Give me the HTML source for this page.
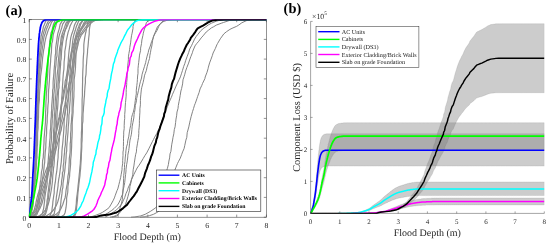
<!DOCTYPE html>
<html><head><meta charset="utf-8"><title>Fragility and loss curves</title>
<style>html,body{margin:0;padding:0;background:#fff}svg{display:block}</style></head>
<body><svg width="550" height="243" viewBox="0 0 550 243" text-rendering="geometricPrecision">
<defs><clipPath id="ca"><rect x="28.9" y="19.25" width="237.8" height="198.65"/></clipPath><clipPath id="cb"><rect x="310.3" y="0" width="234.3" height="214.10"/></clipPath></defs>
<rect width="550" height="243" fill="#fff"/>
<g stroke="#3a3a3a" stroke-width="0.55" fill="none">
<rect x="29.2" y="19.6" width="237.2" height="197.6"/>
<path d="M29.2 217.2v-2.6M29.2 19.6v2.6M58.8 217.2v-2.6M58.8 19.6v2.6M88.5 217.2v-2.6M88.5 19.6v2.6M118.1 217.2v-2.6M118.1 19.6v2.6M147.8 217.2v-2.6M147.8 19.6v2.6M177.4 217.2v-2.6M177.4 19.6v2.6M207.1 217.2v-2.6M207.1 19.6v2.6M236.7 217.2v-2.6M236.7 19.6v2.6M266.4 217.2v-2.6M266.4 19.6v2.6M29.2 217.2h2.6M266.4 217.2h-2.6M29.2 197.4h2.6M266.4 197.4h-2.6M29.2 177.7h2.6M266.4 177.7h-2.6M29.2 157.9h2.6M266.4 157.9h-2.6M29.2 138.2h2.6M266.4 138.2h-2.6M29.2 118.4h2.6M266.4 118.4h-2.6M29.2 98.6h2.6M266.4 98.6h-2.6M29.2 78.9h2.6M266.4 78.9h-2.6M29.2 59.1h2.6M266.4 59.1h-2.6M29.2 39.4h2.6M266.4 39.4h-2.6M29.2 19.6h2.6M266.4 19.6h-2.6"/>
</g>
<g id="pa" fill="none" stroke-linejoin="round" stroke-linecap="butt" clip-path="url(#ca)">
<g stroke="#8c8c8c" stroke-width="1.2">
<path d="M29.2 217.2 L30.5 213.5 L31.3 210.9 L31.5 207.9 L32.0 204.3 L32.4 198.8 L32.7 195.0 L33.3 192.1 L33.3 188.2 L33.6 185.1 L33.9 180.6 L34.4 177.3 L34.5 175.6 L34.7 170.0 L34.7 168.4 L35.1 163.1 L35.3 160.8 L35.5 155.6 L35.5 152.7 L35.9 149.7 L35.9 145.8 L35.9 143.2 L36.1 139.4 L36.1 134.4 L36.5 130.9 L36.5 127.4 L36.5 124.3 L36.5 119.2 L36.6 115.7 L36.6 112.8 L37.0 109.3 L37.1 105.6 L37.3 102.7 L37.3 99.7 L37.7 94.7 L37.7 91.6 L38.0 88.5 L38.0 84.5 L38.1 79.9 L38.4 76.2 L38.6 74.0 L38.7 69.9 L38.7 66.9 L38.8 62.6 L39.0 59.7 L39.4 55.9 L39.8 51.1 L39.8 49.2 L40.1 44.6 L40.6 42.3 L41.0 36.9 L41.8 33.5 L42.5 31.3 L43.5 26.4 L44.3 24.8 L45.8 20.9 L48.6 19.7 L53.0 19.6"/>
<path d="M29.2 217.2 L30.2 213.8 L31.9 209.3 L32.0 207.7 L32.4 202.1 L32.7 200.1 L33.1 196.2 L33.5 191.6 L33.6 189.0 L33.9 185.1 L34.2 182.7 L34.5 177.3 L34.8 174.3 L35.1 171.2 L35.1 166.4 L35.4 164.0 L35.8 160.0 L35.8 157.2 L35.8 152.9 L36.1 149.8 L36.2 146.0 L36.4 141.2 L36.4 138.7 L36.4 134.6 L36.6 129.8 L36.7 126.2 L36.9 123.2 L37.0 120.0 L37.0 117.1 L37.0 113.7 L37.5 108.1 L37.6 105.6 L37.6 103.0 L37.8 98.1 L38.1 94.1 L38.2 90.9 L38.5 86.6 L38.5 85.1 L38.7 80.3 L38.9 76.9 L39.2 74.2 L39.2 69.2 L39.6 65.1 L39.8 62.1 L39.8 59.3 L40.4 54.3 L40.5 51.5 L41.1 47.9 L41.4 43.7 L41.8 41.6 L42.7 36.4 L43.5 33.2 L44.6 29.5 L45.3 27.5 L47.5 22.8 L48.4 21.0 L51.3 19.7 L56.0 19.6"/>
<path d="M29.2 217.2 L30.4 214.4 L31.6 211.0 L32.4 206.3 L32.8 204.5 L33.2 199.7 L33.5 195.9 L33.7 193.6 L34.1 190.4 L34.2 186.3 L34.5 181.8 L34.7 178.5 L35.3 176.0 L35.4 171.7 L35.9 167.6 L35.9 164.6 L36.0 160.6 L36.3 156.2 L36.4 153.3 L36.4 150.5 L36.5 147.4 L37.0 143.5 L37.0 139.5 L37.1 135.0 L37.1 131.7 L37.1 129.3 L37.5 124.3 L37.5 121.8 L37.5 117.7 L37.7 115.6 L37.8 112.0 L38.1 108.2 L38.4 103.0 L38.4 99.9 L38.8 96.0 L38.8 92.9 L38.9 89.9 L39.0 86.1 L39.3 82.4 L39.7 78.1 L39.8 75.6 L40.0 71.0 L40.3 68.1 L40.5 64.0 L40.7 61.3 L41.2 57.2 L41.6 54.6 L42.1 50.6 L42.4 47.8 L43.0 44.5 L43.2 41.2 L44.2 36.1 L45.3 33.2 L46.5 28.9 L48.0 25.7 L48.7 23.4 L52.1 19.8 L54.4 19.6 L58.0 19.6"/>
<path d="M29.2 217.2 L30.2 214.9 L31.5 211.3 L32.9 206.4 L33.2 203.4 L33.2 201.1 L33.9 196.7 L34.1 193.0 L34.6 190.2 L34.7 185.3 L35.0 183.2 L35.5 179.0 L35.9 175.2 L35.9 171.8 L36.2 167.9 L36.5 163.9 L36.6 159.8 L37.0 157.9 L37.0 153.5 L37.2 149.8 L37.2 147.2 L37.5 144.4 L37.6 138.4 L37.6 136.5 L37.6 132.9 L38.1 127.9 L38.1 125.1 L38.2 121.8 L38.5 117.5 L38.5 115.8 L38.6 110.5 L38.7 107.8 L38.8 104.9 L39.4 100.0 L39.4 95.7 L39.5 94.0 L39.8 89.4 L40.1 86.6 L40.4 82.0 L40.5 78.5 L40.6 76.1 L41.3 71.1 L41.7 68.0 L42.0 64.4 L42.4 60.5 L42.6 57.9 L43.2 53.5 L43.7 49.7 L44.1 48.1 L44.8 42.7 L45.3 40.3 L46.1 36.6 L47.0 34.0 L48.5 29.4 L49.7 27.0 L51.5 22.4 L52.8 20.7 L56.3 19.7 L60.0 19.6"/>
<path d="M29.2 217.2 L33.6 216.5 L35.5 214.7 L36.7 210.2 L37.0 208.8 L37.8 204.0 L38.2 201.1 L38.8 196.5 L38.9 194.5 L39.5 189.3 L39.9 186.5 L40.3 182.1 L40.9 179.6 L41.1 176.2 L41.5 171.8 L42.4 167.8 L42.4 165.7 L42.6 160.7 L43.3 157.3 L43.3 155.6 L43.7 151.0 L43.7 147.2 L44.0 143.0 L44.0 140.2 L44.1 137.9 L44.5 133.5 L44.8 129.9 L45.1 126.3 L45.5 121.7 L45.5 119.6 L45.6 116.4 L45.6 112.1 L45.9 108.2 L45.9 103.9 L46.0 101.3 L46.2 98.5 L46.4 93.3 L46.7 90.8 L46.8 86.8 L47.2 83.7 L47.2 80.8 L47.5 76.1 L47.8 72.3 L47.8 70.2 L48.0 66.0 L48.1 62.7 L48.3 59.6 L48.7 55.9 L49.0 50.6 L49.3 47.2 L49.5 44.9 L49.8 40.5 L50.2 38.6 L51.0 33.0 L52.0 30.5 L52.9 26.4 L53.5 24.2 L55.1 20.7 L58.1 19.7 L62.0 19.6"/>
<path d="M30.5 217.2 L35.1 216.7 L37.1 214.2 L38.0 211.4 L38.7 208.5 L39.0 205.5 L39.5 201.2 L40.2 197.6 L40.3 194.9 L40.9 191.4 L41.7 185.6 L42.1 182.9 L42.4 180.3 L42.9 176.3 L43.6 171.5 L44.0 168.1 L44.3 164.7 L44.7 162.3 L44.8 158.5 L45.1 154.4 L45.2 152.4 L45.8 147.6 L45.8 144.8 L46.1 139.7 L46.1 138.1 L46.6 133.1 L46.6 129.0 L46.7 127.0 L47.2 121.9 L47.2 118.3 L47.3 116.9 L47.7 111.6 L47.7 109.8 L48.0 105.0 L48.4 101.6 L48.4 98.6 L48.4 94.7 L48.6 90.0 L48.9 87.6 L49.1 84.5 L49.5 79.6 L49.6 76.6 L49.8 72.2 L49.9 70.0 L50.2 66.3 L50.6 61.5 L50.7 58.7 L51.0 55.1 L51.4 52.2 L51.5 49.2 L51.8 43.4 L52.4 41.9 L53.0 36.6 L53.3 34.2 L54.9 29.4 L55.4 27.3 L56.8 22.6 L58.1 20.4 L60.7 19.7 L65.0 19.6"/>
<path d="M29.2 217.2 L32.6 216.1 L35.3 214.4 L37.8 211.8 L39.8 208.7 L41.8 204.1 L42.5 201.5 L43.5 197.9 L44.1 195.2 L44.6 190.8 L45.2 188.6 L45.3 185.3 L46.4 179.8 L46.5 178.3 L47.1 172.3 L47.3 169.1 L47.8 165.7 L47.9 163.9 L48.3 159.9 L48.6 154.8 L49.0 152.2 L49.1 148.2 L49.4 145.9 L49.6 142.1 L50.1 137.8 L50.1 133.6 L50.3 130.5 L50.7 128.0 L50.8 122.6 L50.8 120.8 L51.3 116.5 L51.4 112.5 L51.7 109.6 L51.7 105.8 L52.1 101.0 L52.3 98.5 L52.6 94.7 L52.6 90.1 L53.1 88.2 L53.1 83.1 L53.2 80.9 L53.5 77.4 L54.0 72.4 L54.0 70.9 L54.5 65.3 L54.8 61.8 L55.1 58.1 L55.1 56.6 L55.7 52.6 L55.7 47.7 L56.1 45.0 L56.5 42.4 L57.2 37.2 L57.8 33.5 L59.0 29.6 L59.4 28.1 L60.1 24.4 L62.8 19.9 L64.6 19.7 L69.0 19.6"/>
<path d="M35.5 217.2 L39.4 216.8 L42.3 213.9 L43.0 210.8 L43.6 208.6 L44.1 204.9 L44.7 200.0 L44.7 198.5 L45.5 193.0 L46.1 189.5 L46.6 186.8 L47.1 183.6 L47.2 180.1 L47.8 176.7 L48.5 172.6 L48.6 169.0 L49.2 165.3 L49.7 160.6 L50.2 157.6 L50.4 154.4 L50.5 150.0 L50.7 148.3 L50.9 144.9 L51.4 140.2 L51.4 138.0 L51.5 134.4 L51.8 129.7 L51.9 126.3 L52.2 121.6 L52.2 118.7 L52.6 115.4 L52.7 111.9 L53.1 108.9 L53.3 105.9 L53.4 101.9 L53.8 97.1 L53.8 94.8 L54.3 90.8 L54.3 88.1 L54.8 82.5 L54.8 80.6 L55.2 76.8 L55.3 71.7 L55.4 69.0 L56.0 64.7 L56.1 61.6 L56.5 57.8 L57.0 55.8 L57.0 51.1 L57.4 47.7 L58.0 43.2 L58.3 40.9 L58.9 36.8 L59.5 34.6 L60.9 30.4 L61.9 27.2 L62.7 24.2 L65.6 19.9 L68.1 19.7 L72.0 19.6"/>
<path d="M38.0 217.2 L41.2 216.9 L44.7 213.7 L45.3 211.9 L46.2 207.2 L46.9 203.5 L47.0 201.1 L47.7 197.4 L47.9 194.0 L48.3 191.1 L48.8 186.7 L49.3 183.7 L49.7 180.1 L50.3 176.7 L50.5 173.2 L51.1 168.1 L51.6 165.5 L51.6 162.3 L52.1 157.9 L52.5 154.3 L52.6 150.7 L52.7 146.4 L52.7 144.7 L53.4 140.6 L53.4 137.3 L53.6 134.3 L53.6 130.4 L54.1 126.3 L54.1 122.7 L54.3 118.6 L54.4 115.4 L54.8 111.5 L54.8 108.8 L55.1 105.5 L55.2 101.4 L55.5 98.4 L55.9 94.2 L56.0 90.4 L56.4 86.2 L56.8 82.2 L56.8 80.7 L57.2 74.9 L57.5 71.9 L58.0 67.7 L58.0 66.2 L58.3 62.0 L58.6 58.2 L59.1 54.0 L59.3 51.5 L59.7 47.6 L60.5 44.5 L60.8 40.5 L61.3 36.9 L62.4 33.3 L63.7 29.6 L64.6 27.3 L66.0 23.0 L67.4 21.1 L71.5 19.6 L75.0 19.6"/>
<path d="M33.0 217.2 L37.3 216.6 L39.5 215.8 L42.9 213.2 L45.2 210.1 L47.3 207.0 L48.5 203.3 L49.4 200.0 L50.1 196.3 L50.4 195.0 L51.2 190.5 L51.8 186.8 L52.1 184.3 L52.5 180.9 L52.8 175.3 L53.3 171.4 L53.5 168.3 L53.9 165.9 L54.3 161.4 L54.3 158.8 L54.8 154.2 L55.0 151.7 L55.4 147.0 L55.4 142.9 L55.7 139.3 L55.9 136.0 L56.0 132.4 L56.4 129.3 L56.4 126.1 L56.6 121.6 L56.8 120.1 L57.0 115.9 L57.2 111.7 L57.6 108.5 L57.9 104.1 L58.0 102.0 L58.2 98.8 L58.3 95.1 L58.6 89.5 L59.1 87.9 L59.1 84.1 L59.7 80.2 L59.7 76.0 L60.0 72.1 L60.1 70.2 L60.6 64.6 L60.7 61.4 L61.2 59.0 L61.3 55.7 L61.6 51.2 L61.9 47.6 L62.3 44.9 L62.7 41.6 L63.7 36.6 L64.4 33.4 L65.2 29.6 L66.2 27.6 L67.2 23.0 L68.7 21.3 L71.0 19.7 L76.0 19.6"/>
<path d="M44.5 217.2 L49.0 216.6 L50.3 215.4 L51.9 210.6 L52.1 208.7 L52.7 204.3 L52.9 201.6 L53.6 196.7 L54.2 192.8 L54.2 190.3 L54.7 185.4 L55.3 182.2 L55.6 179.8 L56.0 175.7 L56.7 171.7 L57.1 168.0 L57.4 164.2 L57.5 162.6 L58.1 157.5 L58.1 155.5 L58.4 150.0 L58.7 148.1 L59.0 143.0 L59.3 140.8 L59.5 135.6 L59.7 133.2 L60.0 130.1 L60.1 126.6 L60.3 122.2 L60.4 119.3 L61.0 114.9 L61.1 112.6 L61.1 108.8 L61.3 103.8 L61.7 100.9 L61.7 98.1 L62.0 94.8 L62.3 91.3 L62.4 87.4 L62.7 83.6 L62.9 79.3 L63.2 75.3 L63.5 71.9 L63.9 69.4 L64.0 66.3 L64.1 62.0 L64.5 58.5 L64.8 54.6 L64.8 51.5 L65.5 47.3 L65.9 45.0 L66.2 41.2 L67.2 36.4 L68.1 32.4 L69.1 29.4 L70.1 26.0 L71.7 22.7 L73.0 20.5 L77.1 19.6 L80.0 19.6"/>
<path d="M39.0 217.2 L41.4 217.0 L45.3 214.8 L46.5 211.2 L47.1 209.0 L47.5 205.2 L48.2 199.7 L48.4 198.2 L48.8 194.5 L49.7 189.0 L49.9 186.2 L50.4 183.2 L50.7 179.3 L51.4 175.4 L51.6 172.7 L51.9 169.5 L52.5 164.3 L52.9 161.0 L53.2 157.9 L53.2 153.5 L53.7 150.6 L53.9 145.9 L53.9 144.3 L54.1 139.8 L54.6 136.4 L54.6 133.1 L54.9 128.9 L55.2 126.2 L55.2 121.3 L55.5 117.5 L55.5 115.7 L56.0 111.3 L56.4 108.2 L56.7 105.1 L56.7 99.5 L57.0 97.1 L57.4 94.2 L57.9 89.3 L57.9 86.9 L58.2 81.6 L58.5 79.7 L58.7 76.5 L58.9 72.5 L59.1 68.6 L59.5 64.7 L59.8 60.0 L60.0 57.0 L60.2 54.3 L60.3 51.5 L60.8 47.5 L61.8 41.9 L61.9 39.7 L62.7 35.6 L63.8 33.7 L65.1 30.5 L67.6 25.4 L68.7 22.7 L70.5 20.5 L73.8 19.7 L78.0 19.6"/>
<path d="M47.5 217.2 L50.6 217.0 L54.3 213.7 L54.5 212.1 L55.2 208.6 L55.8 204.6 L56.0 201.4 L56.4 196.8 L56.8 194.6 L57.6 189.1 L58.1 185.7 L58.1 184.2 L58.7 179.4 L59.2 176.9 L59.8 173.0 L60.3 169.0 L60.8 165.4 L61.3 161.8 L61.6 157.1 L61.8 155.2 L61.9 151.8 L62.3 147.1 L62.8 142.8 L63.1 139.3 L63.4 135.9 L63.5 134.3 L63.9 128.6 L64.1 125.7 L64.1 121.6 L64.3 119.2 L64.7 116.1 L65.1 111.1 L65.1 107.9 L65.6 104.0 L65.6 101.9 L65.7 98.5 L66.1 93.4 L66.2 91.6 L66.3 85.8 L66.8 84.2 L67.0 79.5 L67.1 76.4 L67.4 73.0 L67.4 69.8 L67.9 64.8 L68.3 60.9 L68.4 57.8 L68.7 54.5 L69.1 50.7 L69.5 47.6 L70.0 44.0 L70.5 39.6 L70.8 37.6 L71.7 34.2 L73.5 29.1 L74.3 25.8 L75.2 23.5 L77.4 19.9 L81.2 19.6 L84.0 19.6"/>
<path d="M29.2 217.2 L31.8 213.5 L34.0 210.6 L34.9 207.3 L35.6 205.1 L36.1 202.0 L37.4 196.4 L38.1 193.7 L38.9 191.7 L40.4 186.1 L41.7 182.5 L42.3 180.7 L44.1 176.1 L44.5 174.4 L46.0 170.2 L47.7 165.9 L48.5 163.4 L49.6 159.7 L49.9 157.1 L51.5 152.0 L52.2 149.3 L52.9 146.4 L54.2 141.6 L55.4 137.6 L55.7 135.1 L56.6 131.1 L57.7 127.0 L57.9 125.8 L59.0 120.9 L59.8 116.5 L60.2 115.0 L61.0 111.2 L61.5 106.8 L62.3 102.9 L63.2 99.7 L63.8 96.2 L64.1 93.8 L65.0 88.6 L65.6 86.1 L66.0 83.1 L67.3 77.4 L68.1 74.6 L68.4 71.5 L69.4 67.3 L69.7 64.4 L70.3 61.7 L71.4 57.0 L71.9 53.1 L72.9 49.6 L73.7 46.6 L75.0 42.2 L76.4 38.8 L77.8 35.7 L78.6 33.6 L80.6 30.8 L83.0 27.3 L85.3 24.1 L87.3 22.4 L90.8 20.0 L94.3 19.7 L98.0 19.6"/>
<path d="M29.2 217.2 L32.1 214.1 L33.7 212.2 L36.0 208.3 L36.9 204.5 L37.5 201.5 L38.3 198.3 L39.4 194.3 L40.4 191.0 L41.4 188.2 L42.8 184.6 L44.3 180.8 L44.7 179.0 L46.5 174.3 L47.7 170.8 L48.5 168.2 L50.0 164.5 L50.9 161.8 L52.1 157.3 L53.5 153.1 L53.8 151.3 L55.1 147.4 L56.3 143.0 L56.7 140.3 L57.3 137.1 L58.5 133.1 L58.9 131.1 L59.8 127.3 L61.1 122.1 L61.7 120.3 L62.3 117.2 L63.5 111.5 L63.9 108.4 L64.9 104.4 L65.4 101.4 L66.4 97.5 L66.7 95.4 L67.6 90.9 L68.0 88.8 L69.0 83.7 L69.8 80.4 L70.2 78.2 L70.8 74.7 L71.4 71.2 L72.3 66.1 L72.9 62.9 L73.2 60.3 L74.1 55.9 L74.5 52.3 L75.3 48.8 L76.2 44.6 L77.4 41.5 L78.0 39.1 L79.0 36.6 L81.3 33.2 L83.0 30.5 L86.2 26.3 L88.7 23.5 L90.1 22.0 L95.1 19.8 L96.9 19.7 L101.0 19.6"/>
<path d="M29.2 217.2 L32.6 214.8 L35.0 212.0 L36.4 209.9 L37.4 207.2 L38.7 202.5 L39.3 200.0 L40.9 195.2 L41.7 192.6 L42.7 189.0 L44.5 184.4 L45.7 181.4 L46.8 177.9 L47.5 175.2 L49.2 170.9 L49.7 169.6 L51.3 164.2 L52.3 161.9 L53.1 158.9 L54.6 154.7 L55.8 150.3 L56.3 148.2 L57.5 143.4 L58.3 141.0 L59.4 136.3 L60.2 133.3 L61.3 129.8 L61.6 127.3 L62.5 123.2 L63.4 120.5 L64.6 115.7 L65.1 113.5 L65.9 108.9 L66.5 106.8 L66.9 102.9 L68.0 99.1 L68.5 96.0 L68.9 92.2 L69.6 88.8 L70.0 85.7 L70.9 81.4 L71.8 77.6 L72.2 74.2 L73.2 69.4 L73.5 67.8 L74.2 63.0 L74.8 60.1 L75.4 57.3 L76.2 52.0 L76.8 49.3 L78.1 44.5 L78.7 41.5 L80.0 37.9 L81.1 35.4 L83.1 32.8 L86.1 28.9 L87.6 27.0 L90.8 23.3 L93.7 21.1 L95.6 20.1 L99.9 19.7 L103.0 19.6"/>
<path d="M29.2 217.2 L32.8 216.0 L35.1 214.0 L37.3 211.9 L39.0 208.2 L40.2 204.2 L41.1 202.1 L42.1 196.6 L43.0 193.2 L43.5 191.7 L44.7 186.4 L45.2 184.4 L46.4 179.7 L46.9 177.5 L47.9 172.7 L48.9 168.6 L49.8 165.0 L50.3 162.3 L50.3 160.0 L51.6 155.9 L52.2 152.7 L53.2 147.6 L53.4 145.7 L54.2 141.5 L54.9 138.4 L55.3 135.5 L56.4 131.4 L57.2 127.0 L57.6 124.3 L58.2 120.2 L59.2 116.9 L59.5 114.6 L60.5 109.5 L60.9 106.1 L61.9 102.3 L62.0 100.3 L63.2 94.8 L63.3 91.6 L64.3 88.0 L64.9 84.3 L65.1 81.6 L65.9 78.7 L66.4 76.0 L67.4 70.9 L68.1 67.6 L68.7 64.0 L69.3 62.1 L70.4 56.3 L70.9 54.1 L71.4 51.4 L72.9 45.8 L74.0 42.9 L74.7 40.0 L76.3 36.2 L78.0 32.9 L79.8 30.2 L81.4 27.8 L83.4 25.0 L86.2 21.6 L88.2 20.4 L91.7 19.7 L96.0 19.6"/>
<path d="M40.0 217.2 L44.2 216.6 L46.2 216.0 L50.2 213.6 L52.2 211.5 L54.3 208.9 L56.3 205.4 L57.7 202.0 L58.8 198.1 L59.6 194.3 L59.9 192.5 L60.6 188.4 L61.5 184.0 L61.5 181.7 L62.4 175.9 L62.4 172.7 L63.2 171.1 L63.2 166.2 L63.8 162.5 L63.8 160.4 L64.1 156.4 L64.5 152.9 L64.7 148.6 L65.4 144.7 L65.4 141.4 L65.6 136.7 L66.1 133.4 L66.2 130.8 L66.2 127.7 L66.7 123.7 L67.0 118.9 L67.2 116.6 L67.6 111.4 L67.6 108.9 L67.7 106.1 L68.2 101.5 L68.3 97.9 L68.3 94.6 L68.6 91.6 L68.9 87.2 L69.1 84.0 L69.7 80.0 L69.7 76.6 L69.9 74.1 L70.4 68.6 L70.4 67.2 L70.7 62.9 L71.0 59.6 L71.2 55.6 L71.6 51.4 L72.0 48.0 L72.4 44.0 L72.7 41.0 L73.4 36.6 L74.0 34.3 L75.3 30.3 L76.2 27.0 L77.1 24.7 L78.7 21.0 L81.3 19.7 L86.0 19.6"/>
<path d="M52.5 217.2 L55.7 216.9 L58.6 214.3 L59.6 211.9 L60.0 208.8 L60.8 203.1 L61.0 200.6 L61.5 196.8 L62.0 193.4 L62.2 190.1 L62.9 187.4 L63.0 183.4 L63.7 178.8 L64.2 174.9 L64.7 171.4 L65.1 167.7 L65.2 166.3 L65.8 161.0 L66.1 157.6 L66.2 154.2 L66.7 150.6 L66.7 148.3 L67.0 143.5 L67.4 139.5 L67.5 137.9 L68.0 132.1 L68.1 130.4 L68.3 126.3 L68.7 122.3 L68.9 118.6 L68.9 115.1 L69.5 112.0 L69.6 107.2 L69.8 104.8 L70.2 100.1 L70.2 97.8 L70.4 93.5 L70.9 89.4 L70.9 87.6 L71.0 83.9 L71.7 79.0 L71.7 76.9 L71.7 73.6 L72.1 69.6 L72.5 65.6 L72.6 61.2 L73.0 57.7 L73.2 55.3 L73.5 51.7 L74.0 48.6 L74.2 45.1 L74.7 41.3 L75.6 36.3 L76.3 33.8 L77.3 30.4 L78.6 27.0 L79.7 23.9 L83.2 19.8 L86.8 19.6 L89.0 19.6"/>
<path d="M47.0 217.2 L50.3 216.8 L54.9 215.1 L56.6 213.9 L58.7 211.8 L61.1 208.3 L62.9 204.2 L64.0 200.6 L65.1 197.7 L65.6 194.8 L66.1 189.8 L66.8 186.2 L67.3 183.8 L67.7 180.3 L67.9 176.3 L68.7 172.4 L68.8 169.1 L69.0 166.0 L69.2 162.4 L69.3 158.3 L69.9 154.1 L70.1 152.6 L70.2 148.9 L70.2 143.7 L70.6 140.9 L70.6 136.5 L70.6 133.5 L71.0 130.1 L71.0 125.3 L71.3 123.2 L71.6 118.9 L71.8 115.6 L72.1 113.0 L72.1 109.3 L72.1 104.1 L72.2 101.3 L72.3 97.3 L72.3 94.3 L72.3 89.7 L72.6 86.1 L72.7 83.6 L72.9 80.7 L73.1 75.4 L73.4 72.6 L73.6 68.9 L73.9 65.5 L73.9 63.0 L74.3 58.3 L74.3 55.7 L74.6 52.2 L74.9 46.8 L75.2 44.9 L76.1 39.9 L76.3 37.1 L77.6 33.5 L78.8 30.1 L79.6 27.5 L80.6 24.3 L83.1 20.1 L85.3 19.7 L90.0 19.6"/>
<path d="M58.0 217.2 L60.8 217.0 L64.2 214.8 L65.2 212.2 L66.0 207.7 L66.4 204.5 L66.6 201.7 L66.6 198.1 L67.7 192.4 L67.9 189.5 L67.9 186.6 L68.6 182.5 L68.9 179.9 L69.6 176.2 L69.7 173.2 L70.1 169.7 L70.6 164.3 L70.6 160.7 L70.7 159.1 L71.2 154.8 L71.3 151.8 L71.6 147.3 L71.7 143.3 L71.8 139.9 L72.0 137.4 L72.2 132.4 L72.2 129.0 L72.2 125.8 L72.2 122.6 L72.6 117.5 L72.8 116.0 L73.1 112.3 L73.1 108.1 L73.4 104.8 L73.6 100.4 L73.9 96.6 L73.9 93.0 L74.1 89.3 L74.1 87.1 L74.1 82.2 L74.1 79.8 L74.7 75.5 L75.0 72.7 L75.5 67.7 L75.5 65.9 L75.7 61.5 L75.9 57.4 L75.9 53.7 L76.5 51.6 L77.0 45.9 L77.2 44.0 L78.1 40.1 L78.4 36.9 L79.4 34.1 L80.7 30.3 L82.1 26.8 L83.8 22.9 L85.3 21.0 L90.4 19.6 L93.0 19.6"/>
<path d="M68.5 217.2 L72.7 216.7 L74.6 214.4 L75.3 210.6 L75.7 208.5 L76.3 203.6 L76.5 199.2 L76.8 196.9 L77.2 194.1 L77.9 188.4 L78.1 185.5 L78.4 183.1 L78.9 178.4 L79.3 174.0 L79.5 172.3 L79.9 167.2 L80.3 163.9 L80.4 161.5 L80.6 158.0 L80.9 152.5 L81.0 150.4 L81.2 146.5 L81.2 142.4 L81.2 139.3 L81.4 136.8 L81.4 132.6 L81.7 128.4 L81.8 124.1 L81.8 120.9 L81.8 117.7 L82.0 114.7 L82.1 109.6 L82.1 107.5 L82.1 102.5 L82.1 99.5 L82.4 95.8 L82.4 92.6 L82.4 89.4 L82.5 85.9 L82.6 81.1 L82.6 78.4 L82.7 75.4 L82.8 71.4 L83.1 66.0 L83.1 62.9 L83.2 59.6 L83.4 56.4 L83.8 51.8 L83.8 49.6 L83.8 45.1 L84.0 43.0 L84.7 37.8 L85.5 33.5 L86.2 30.6 L86.5 28.6 L87.4 23.8 L88.6 21.1 L92.9 19.6 L95.5 19.6"/>
<path d="M69.5 217.2 L72.5 216.9 L75.1 215.3 L76.3 212.1 L76.6 207.1 L77.0 204.0 L77.5 199.1 L77.7 195.9 L78.0 192.3 L78.2 190.7 L78.7 185.9 L79.1 182.2 L79.4 179.9 L80.0 175.3 L80.2 172.1 L80.6 168.8 L80.9 163.8 L81.1 161.1 L81.3 158.3 L81.4 154.0 L81.7 149.1 L81.8 146.8 L81.8 143.7 L82.1 140.4 L82.2 135.7 L82.4 131.7 L82.4 128.8 L82.4 124.1 L82.9 121.3 L83.0 117.0 L83.0 114.0 L83.4 110.3 L83.5 107.2 L83.8 104.3 L84.1 99.3 L84.5 95.3 L84.6 92.1 L84.8 89.2 L85.0 86.4 L85.4 82.6 L85.4 78.1 L86.0 74.3 L86.1 72.2 L86.3 66.4 L86.6 63.3 L86.8 59.7 L87.2 55.5 L87.5 52.8 L87.6 49.5 L88.0 46.6 L88.4 41.9 L88.7 38.3 L89.2 34.1 L89.3 30.5 L89.6 28.0 L90.4 23.6 L90.9 19.9 L93.2 19.6 L97.0 19.6"/>
</g><g stroke="#7c7c7c" stroke-width="0.95">
<path d="M90.0 217.2 L93.9 215.9 L97.0 214.8 L99.8 213.7 L102.4 212.4 L107.0 209.3 L109.2 207.5 L111.2 204.1 L113.1 200.7 L114.4 197.9 L115.1 195.8 L117.0 190.6 L117.8 188.9 L118.9 184.6 L119.7 181.3 L120.6 177.7 L121.2 174.4 L122.0 169.8 L122.1 167.4 L122.7 163.2 L122.7 160.4 L123.0 155.6 L123.0 152.0 L123.4 149.9 L123.4 146.5 L123.5 141.6 L123.5 138.2 L123.7 134.9 L123.7 132.1 L124.2 128.5 L124.2 125.6 L124.4 120.9 L124.7 118.6 L124.7 114.6 L125.1 110.1 L125.1 108.1 L125.5 102.5 L125.7 100.9 L126.1 96.2 L126.2 92.6 L126.2 89.8 L126.7 84.5 L126.7 82.4 L127.1 78.4 L127.1 74.0 L127.6 71.0 L127.6 68.1 L127.8 65.2 L128.4 59.6 L128.4 56.9 L128.9 53.4 L129.6 49.8 L129.8 47.4 L130.6 42.9 L131.0 39.3 L131.5 35.8 L132.1 33.2 L133.0 28.4 L133.0 26.4 L134.2 22.3 L135.6 19.9 L140.0 19.6"/>
<path d="M112.0 217.2 L116.6 216.2 L118.3 214.9 L119.6 210.5 L120.2 207.4 L121.2 204.7 L122.3 199.6 L122.5 196.2 L122.7 193.8 L123.0 188.8 L123.2 187.0 L123.5 182.0 L123.6 178.7 L123.7 175.6 L124.0 173.1 L124.5 167.4 L124.5 164.6 L125.0 161.5 L125.2 158.0 L125.7 153.7 L125.9 150.9 L126.5 146.9 L127.5 143.7 L127.7 140.9 L128.7 136.9 L129.4 131.9 L130.0 128.4 L130.7 125.3 L131.1 122.2 L131.6 117.5 L132.5 114.3 L133.3 112.2 L134.3 107.9 L134.9 103.4 L135.3 100.3 L135.6 97.7 L136.3 93.9 L136.3 90.2 L136.8 85.7 L137.2 82.5 L137.4 79.7 L137.6 76.0 L138.0 73.3 L138.0 68.7 L138.3 65.8 L138.7 62.5 L139.1 59.0 L139.5 55.1 L140.6 50.3 L140.6 48.1 L141.5 43.6 L141.9 39.9 L142.9 35.5 L143.3 33.2 L144.4 29.0 L145.2 27.3 L146.4 22.4 L149.8 19.8 L152.0 19.6"/>
<path d="M95.0 217.2 L98.0 216.9 L102.3 215.8 L106.0 214.2 L107.8 213.0 L111.8 210.4 L114.1 208.5 L117.4 205.2 L118.8 203.0 L120.8 198.8 L121.2 197.2 L122.6 194.1 L123.2 190.1 L124.2 185.5 L124.7 182.6 L125.2 178.1 L125.6 174.4 L126.0 171.0 L126.0 169.3 L126.6 164.8 L127.3 160.9 L127.8 156.9 L127.8 155.2 L128.7 150.6 L129.0 148.4 L129.6 143.2 L130.0 140.1 L130.6 137.7 L131.4 134.2 L131.9 129.6 L132.2 126.2 L132.9 122.6 L133.8 118.0 L134.1 114.4 L134.4 112.6 L135.0 109.6 L135.3 105.5 L136.5 100.8 L136.6 98.6 L137.4 95.4 L138.4 90.8 L139.2 87.1 L139.6 84.9 L140.4 81.7 L141.5 78.0 L142.1 74.3 L143.2 70.6 L144.4 66.7 L145.7 62.4 L146.1 60.3 L147.1 56.2 L148.2 52.6 L148.7 50.1 L150.3 46.0 L151.6 41.6 L153.0 38.3 L153.5 36.4 L155.8 32.4 L157.0 30.4 L158.9 26.1 L160.1 23.8 L163.4 20.6 L166.0 19.6"/>
<path d="M110.0 217.2 L113.3 216.6 L116.3 215.4 L119.2 213.4 L122.3 209.4 L124.2 206.3 L125.4 204.7 L126.6 201.0 L127.9 196.7 L128.8 193.1 L129.6 190.2 L129.9 186.6 L131.0 182.5 L131.4 179.7 L132.8 174.9 L132.9 172.9 L133.2 169.8 L133.9 165.9 L134.3 162.9 L135.2 157.2 L135.7 154.3 L136.4 151.9 L136.6 148.7 L137.5 143.2 L137.9 140.8 L138.5 137.6 L138.8 133.6 L138.8 130.6 L139.2 127.2 L139.4 123.8 L139.4 120.2 L139.7 115.1 L139.9 112.2 L139.9 108.8 L140.4 104.8 L140.4 100.7 L140.5 98.1 L140.8 94.8 L141.3 89.9 L141.8 87.3 L143.1 82.5 L143.7 79.8 L144.6 75.2 L145.2 73.6 L146.4 70.3 L147.1 66.8 L148.6 61.3 L149.5 58.5 L149.9 55.2 L150.5 52.3 L151.0 49.2 L151.8 46.0 L152.6 40.6 L153.2 37.9 L154.7 33.2 L155.3 32.1 L157.4 26.9 L158.7 25.3 L162.9 21.9 L164.0 21.3 L167.8 20.1 L172.0 19.6"/>
<path d="M105.0 217.2 L108.8 215.1 L111.5 213.3 L113.6 211.9 L116.6 209.8 L119.3 207.0 L122.1 203.3 L123.5 200.1 L124.7 197.6 L125.9 193.7 L127.7 189.9 L128.0 188.2 L130.0 183.8 L131.4 180.0 L133.0 176.5 L133.8 174.6 L135.7 170.8 L137.1 168.0 L139.1 165.2 L141.7 161.1 L143.2 158.5 L145.0 155.4 L146.7 152.9 L148.8 148.8 L149.7 147.0 L152.3 141.8 L153.4 139.7 L154.7 137.1 L156.9 133.3 L158.6 129.5 L160.2 126.0 L161.5 122.5 L162.5 119.4 L163.5 116.9 L164.3 113.7 L166.3 109.4 L167.4 106.6 L168.8 103.1 L170.5 99.1 L171.3 97.5 L172.5 94.3 L174.2 90.5 L175.7 86.9 L177.1 83.9 L179.3 79.3 L180.4 76.9 L181.4 73.8 L182.5 70.4 L183.7 66.4 L184.9 63.3 L185.6 60.7 L187.2 56.4 L188.7 52.4 L189.7 49.0 L191.7 45.3 L192.6 43.3 L194.5 39.2 L196.2 36.5 L197.6 34.7 L200.7 30.8 L203.9 28.0 L205.7 26.9 L208.7 24.7 L211.6 23.1 L216.1 21.3 L219.9 20.2 L221.9 19.9 L226.0 19.6"/>
<path d="M131.0 217.2 L134.9 216.9 L139.2 216.2 L140.8 215.9 L145.2 214.3 L147.9 212.8 L150.7 211.2 L155.1 208.2 L157.0 206.4 L158.6 203.1 L159.7 200.5 L160.7 196.4 L161.5 192.5 L161.7 190.2 L162.7 186.6 L163.4 182.9 L164.6 179.0 L165.1 175.7 L166.1 172.2 L167.4 168.4 L168.4 164.5 L168.9 161.1 L169.6 157.9 L170.0 153.9 L170.9 151.4 L171.3 148.0 L171.7 144.8 L172.6 140.0 L173.0 137.3 L173.8 133.8 L174.3 129.6 L175.1 126.8 L175.6 122.5 L176.0 119.1 L176.6 115.8 L177.0 112.0 L178.0 108.5 L178.3 105.6 L179.1 101.3 L179.6 98.9 L180.2 95.3 L180.9 91.0 L181.6 88.5 L182.6 83.9 L183.0 79.8 L184.2 76.3 L184.8 74.2 L185.6 71.1 L186.9 67.4 L188.6 63.1 L189.6 60.0 L190.8 56.7 L192.4 52.7 L192.8 51.1 L195.0 45.9 L196.6 43.7 L198.8 41.2 L201.2 37.9 L203.0 35.9 L206.2 32.0 L208.5 30.2 L211.5 27.8 L213.4 26.9 L216.3 25.1 L221.7 23.1 L223.4 22.5 L228.1 20.9 L229.7 20.4 L233.7 19.8 L238.0 19.6"/>
<path d="M140.0 217.2 L144.9 216.7 L145.7 216.4 L149.7 215.6 L153.5 214.3 L157.8 212.0 L159.1 211.0 L161.7 207.8 L162.9 204.9 L164.8 201.4 L165.9 198.7 L167.1 193.9 L167.8 191.9 L169.5 186.3 L169.7 184.9 L171.5 181.1 L172.1 178.3 L173.4 173.4 L174.6 170.7 L176.0 167.2 L177.5 163.5 L178.4 161.7 L180.3 158.1 L181.7 154.4 L182.6 151.9 L184.1 148.5 L184.8 145.3 L185.9 140.1 L186.8 137.3 L187.2 132.7 L187.7 131.0 L188.8 126.9 L189.8 122.1 L190.2 120.5 L191.1 116.7 L192.5 111.7 L193.5 108.6 L194.5 105.2 L195.3 103.3 L197.0 98.4 L197.6 96.5 L199.1 92.5 L200.1 88.9 L201.8 85.4 L202.5 83.5 L204.9 78.6 L205.2 77.0 L207.0 72.3 L208.1 68.6 L208.4 67.1 L209.6 62.9 L211.0 59.2 L212.4 55.4 L213.1 53.0 L215.4 48.4 L216.8 44.9 L217.5 43.6 L220.3 38.8 L221.6 37.0 L223.8 33.9 L226.5 31.7 L229.9 29.4 L232.1 28.3 L236.7 26.3 L238.8 25.0 L241.8 22.8 L246.1 20.8 L247.4 20.3 L252.0 19.6"/>
</g>
<path d="M29.3 217.2 L29.4 216.4 L29.5 215.5 L29.7 214.7 L29.8 213.9 L29.9 213.0 L30.0 212.2 L30.1 211.4 L30.2 210.5 L30.3 209.7 L30.3 208.8 L30.4 208.0 L30.5 207.2 L30.6 206.3 L30.7 205.5 L30.7 204.6 L30.8 203.8 L30.9 203.0 L31.0 202.1 L31.1 201.3 L31.2 200.4 L31.2 199.6 L31.4 198.8 L31.5 197.9 L31.6 197.1 L31.7 196.3 L31.7 195.4 L31.8 194.6 L31.9 193.7 L31.9 192.9 L32.0 192.1 L32.1 191.2 L32.1 190.4 L32.2 189.5 L32.2 188.7 L32.2 187.9 L32.3 187.0 L32.3 186.2 L32.4 185.3 L32.4 184.5 L32.5 183.6 L32.5 182.8 L32.5 182.0 L32.6 181.1 L32.6 180.3 L32.7 179.4 L32.7 178.6 L32.8 177.7 L32.8 176.9 L32.9 176.1 L32.9 175.2 L32.9 174.4 L33.0 173.5 L33.0 172.7 L33.1 171.9 L33.1 171.0 L33.2 170.2 L33.2 169.3 L33.3 168.5 L33.3 167.6 L33.4 166.8 L33.4 166.0 L33.5 165.1 L33.5 164.3 L33.6 163.4 L33.6 162.6 L33.7 161.8 L33.7 160.9 L33.8 160.1 L33.8 159.2 L33.8 158.4 L33.9 157.5 L33.9 156.7 L34.0 155.9 L34.0 155.0 L34.0 154.2 L34.1 153.3 L34.1 152.5 L34.1 151.6 L34.2 150.8 L34.2 150.0 L34.2 149.1 L34.3 148.3 L34.3 147.4 L34.3 146.6 L34.4 145.8 L34.4 144.9 L34.4 144.1 L34.5 143.2 L34.5 142.4 L34.5 141.5 L34.6 140.7 L34.6 139.9 L34.6 139.0 L34.7 138.2 L34.7 137.3 L34.7 136.5 L34.8 135.6 L34.8 134.8 L34.8 134.0 L34.9 133.1 L34.9 132.3 L34.9 131.4 L34.9 130.6 L35.0 129.7 L35.0 128.9 L35.0 128.1 L35.1 127.2 L35.1 126.4 L35.1 125.5 L35.2 124.7 L35.2 123.8 L35.2 123.0 L35.3 122.2 L35.3 121.3 L35.3 120.5 L35.4 119.6 L35.4 118.8 L35.4 117.9 L35.4 117.1 L35.5 116.3 L35.5 115.4 L35.5 114.6 L35.6 113.7 L35.6 112.9 L35.6 112.1 L35.6 111.2 L35.7 110.4 L35.7 109.5 L35.7 108.7 L35.7 107.8 L35.8 107.0 L35.8 106.2 L35.8 105.3 L35.9 104.5 L35.9 103.6 L35.9 102.8 L35.9 101.9 L36.0 101.1 L36.0 100.3 L36.0 99.4 L36.0 98.6 L36.1 97.7 L36.1 96.9 L36.1 96.0 L36.2 95.2 L36.2 94.4 L36.2 93.5 L36.3 92.7 L36.3 91.8 L36.3 91.0 L36.4 90.1 L36.4 89.3 L36.4 88.5 L36.5 87.6 L36.5 86.8 L36.5 85.9 L36.6 85.1 L36.6 84.2 L36.6 83.4 L36.7 82.6 L36.7 81.7 L36.7 80.9 L36.8 80.0 L36.8 79.2 L36.8 78.4 L36.9 77.5 L36.9 76.7 L36.9 75.8 L37.0 75.0 L37.0 74.1 L37.1 73.3 L37.1 72.5 L37.1 71.6 L37.2 70.8 L37.2 69.9 L37.2 69.1 L37.3 68.2 L37.3 67.4 L37.3 66.6 L37.4 65.7 L37.4 64.9 L37.5 64.0 L37.5 63.2 L37.5 62.3 L37.6 61.5 L37.6 60.7 L37.7 59.8 L37.7 59.0 L37.7 58.1 L37.8 57.3 L37.8 56.5 L37.9 55.6 L37.9 54.8 L38.0 53.9 L38.0 53.1 L38.0 52.2 L38.1 51.4 L38.1 50.6 L38.2 49.7 L38.2 48.9 L38.3 48.0 L38.3 47.2 L38.4 46.3 L38.4 45.5 L38.5 44.7 L38.5 43.8 L38.6 43.0 L38.7 42.1 L38.7 41.3 L38.8 40.5 L38.9 39.6 L38.9 38.8 L39.0 37.9 L39.1 37.1 L39.2 36.3 L39.3 35.4 L39.3 34.6 L39.4 33.7 L39.6 32.9 L39.7 32.0 L39.8 31.2 L39.9 30.3 L40.1 29.5 L40.2 28.7 L40.4 27.8 L40.5 27.0 L40.7 26.2 L40.9 25.4 L41.2 24.6 L41.5 23.8 L41.8 22.9 L42.3 22.1 L42.8 21.4 L43.3 20.9 L43.9 20.5 L44.6 20.1 L45.5 19.8 L46.4 19.7 L47.2 19.7 L48.0 19.7 L48.8 19.7 L49.7 19.7 L50.5 19.6 L51.4 19.6 L52.2 19.6 L53.1 19.6 L53.9 19.6 L54.8 19.6 L55.6 19.6 L56.5 19.6 L57.3 19.6 L58.2 19.6 L59.0 19.6 L59.9 19.6 L60.7 19.6 L61.5 19.6 L62.4 19.6 L63.2 19.6 L64.1 19.6 L64.9 19.6 L65.8 19.6 L66.6 19.6 L67.4 19.6 L68.3 19.6 L69.1 19.6 L70.0 19.6 L70.8 19.6 L71.7 19.6 L72.5 19.6 L73.3 19.6 L74.2 19.6 L75.0 19.6 L75.9 19.6 L76.7 19.6 L77.6 19.6 L78.4 19.6 L79.2 19.6 L80.1 19.6 L80.9 19.6 L81.8 19.6 L82.6 19.6 L83.5 19.6 L84.3 19.6 L85.1 19.6 L86.0 19.6 L86.8 19.6 L87.7 19.6 L88.5 19.6 L89.4 19.6 L90.2 19.6 L91.0 19.6 L91.9 19.6 L92.7 19.6 L93.6 19.6 L94.4 19.6 L95.3 19.6 L96.1 19.6 L96.9 19.6 L97.8 19.6 L98.6 19.6 L99.5 19.6 L100.3 19.6 L101.2 19.6 L102.0 19.6 L102.8 19.6 L103.7 19.6 L104.5 19.6 L105.4 19.6 L106.2 19.6 L107.1 19.6 L107.9 19.6 L108.7 19.6 L109.6 19.6 L110.4 19.6 L111.3 19.6 L112.1 19.6 L113.0 19.6 L113.8 19.6 L114.7 19.6 L115.5 19.6 L116.3 19.6 L117.2 19.6 L118.0 19.6 L118.9 19.6 L119.7 19.6 L120.6 19.6 L121.4 19.6 L122.2 19.6 L123.1 19.6 L123.9 19.6 L124.8 19.6 L125.6 19.6 L126.5 19.6 L127.3 19.6 L128.1 19.6 L129.0 19.6 L129.8 19.6 L130.7 19.6 L131.5 19.6 L132.4 19.6 L133.2 19.6 L134.0 19.6 L134.9 19.6 L135.7 19.6 L136.6 19.6 L137.4 19.6 L138.3 19.6 L139.1 19.6 L139.9 19.6 L140.8 19.6 L141.6 19.6 L142.5 19.6 L143.3 19.6 L144.2 19.6 L145.0 19.6 L145.8 19.6 L146.7 19.6 L147.5 19.6 L148.4 19.6 L149.2 19.6 L150.1 19.6 L150.9 19.6 L151.7 19.6 L152.6 19.6 L153.4 19.6 L154.3 19.6 L155.1 19.6 L156.0 19.6 L156.8 19.6 L157.6 19.6 L158.5 19.6 L159.3 19.6 L160.2 19.6 L161.0 19.6 L161.9 19.6 L162.7 19.6 L163.5 19.6 L164.4 19.6 L165.2 19.6 L166.1 19.6 L166.9 19.6 L167.8 19.6 L168.6 19.6 L169.4 19.6 L170.3 19.6 L171.1 19.6 L172.0 19.6 L172.8 19.6 L173.7 19.6 L174.5 19.6 L175.3 19.6 L176.2 19.6 L177.0 19.6 L177.9 19.6 L178.7 19.6 L179.6 19.6 L180.4 19.6 L181.3 19.6 L182.1 19.6 L182.9 19.6 L183.8 19.6 L184.6 19.6 L185.5 19.6 L186.3 19.6 L187.2 19.6 L188.0 19.6 L188.8 19.6 L189.7 19.6 L190.5 19.6 L191.4 19.6 L192.2 19.6 L193.1 19.6 L193.9 19.6 L194.7 19.6 L195.6 19.6 L196.4 19.6 L197.3 19.6 L198.1 19.6 L199.0 19.6 L199.8 19.6 L200.6 19.6 L201.5 19.6 L202.3 19.6 L203.2 19.6 L204.0 19.6 L204.9 19.6 L205.7 19.6 L206.5 19.6 L207.4 19.6 L208.2 19.6 L209.1 19.6 L209.9 19.6 L210.8 19.6 L211.6 19.6 L212.4 19.6 L213.3 19.6 L214.1 19.6 L215.0 19.6 L215.8 19.6 L216.7 19.6 L217.5 19.6 L218.3 19.6 L219.2 19.6 L220.0 19.6 L220.9 19.6 L221.7 19.6 L222.6 19.6 L223.4 19.6 L224.2 19.6 L225.1 19.6 L225.9 19.6 L226.8 19.6 L227.6 19.6 L228.5 19.6 L229.3 19.6 L230.1 19.6 L231.0 19.6 L231.8 19.6 L232.7 19.6 L233.5 19.6 L234.4 19.6 L235.2 19.6 L236.0 19.6 L236.9 19.6 L237.7 19.6 L238.6 19.6 L239.4 19.6 L240.3 19.6 L241.1 19.6 L242.0 19.6 L242.8 19.6 L243.6 19.6 L244.5 19.6 L245.3 19.6 L246.2 19.6 L247.0 19.6 L247.9 19.6 L248.7 19.6 L249.5 19.6 L250.4 19.6 L251.2 19.6 L252.1 19.6 L252.9 19.6 L253.8 19.6 L254.6 19.6 L255.4 19.6 L256.3 19.6 L257.1 19.6 L258.0 19.6 L258.8 19.6 L259.7 19.6 L260.5 19.6 L261.3 19.6 L262.2 19.6 L263.0 19.6 L263.9 19.6 L264.7 19.6 L265.6 19.6 L266.4 19.6" stroke="#0000ff" stroke-width="1.8"/>
<path d="M29.4 217.2 L29.6 216.4 L29.7 215.6 L29.9 214.8 L30.1 214.0 L30.2 213.2 L30.4 212.4 L30.6 211.6 L30.8 210.8 L30.9 210.0 L31.1 209.2 L31.3 208.4 L31.5 207.6 L31.7 206.8 L31.9 206.0 L32.0 205.2 L32.2 204.4 L32.4 203.6 L32.6 202.8 L32.8 202.0 L32.9 201.2 L33.1 200.4 L33.3 199.6 L33.4 198.8 L33.6 198.0 L33.8 197.2 L33.9 196.4 L34.1 195.6 L34.2 194.8 L34.4 194.0 L34.5 193.2 L34.7 192.4 L34.8 191.6 L35.0 190.8 L35.1 190.0 L35.3 189.2 L35.4 188.4 L35.6 187.6 L35.7 186.8 L35.9 186.0 L36.0 185.2 L36.2 184.4 L36.3 183.6 L36.4 182.8 L36.6 182.0 L36.7 181.1 L36.8 180.3 L36.9 179.5 L37.1 178.7 L37.2 177.9 L37.3 177.1 L37.4 176.3 L37.5 175.5 L37.6 174.7 L37.7 173.9 L37.8 173.1 L37.9 172.2 L38.0 171.4 L38.1 170.6 L38.2 169.8 L38.2 169.0 L38.3 168.2 L38.4 167.4 L38.5 166.5 L38.6 165.7 L38.7 164.9 L38.7 164.1 L38.8 163.3 L38.9 162.5 L39.0 161.7 L39.0 160.8 L39.1 160.0 L39.2 159.2 L39.3 158.4 L39.3 157.6 L39.4 156.8 L39.5 156.0 L39.6 155.1 L39.6 154.3 L39.7 153.5 L39.8 152.7 L39.8 151.9 L39.9 151.1 L40.0 150.3 L40.0 149.4 L40.1 148.6 L40.1 147.8 L40.2 147.0 L40.3 146.2 L40.3 145.4 L40.4 144.6 L40.5 143.7 L40.5 142.9 L40.6 142.1 L40.6 141.3 L40.7 140.5 L40.8 139.7 L40.8 138.8 L40.9 138.0 L41.0 137.2 L41.1 136.4 L41.1 135.6 L41.2 134.8 L41.3 134.0 L41.4 133.2 L41.4 132.3 L41.5 131.5 L41.6 130.7 L41.7 129.9 L41.8 129.1 L41.9 128.3 L41.9 127.5 L42.0 126.6 L42.1 125.8 L42.2 125.0 L42.3 124.2 L42.4 123.4 L42.4 122.6 L42.5 121.8 L42.6 120.9 L42.7 120.1 L42.7 119.3 L42.8 118.5 L42.9 117.7 L42.9 116.9 L43.0 116.1 L43.1 115.2 L43.1 114.4 L43.2 113.6 L43.2 112.8 L43.3 112.0 L43.3 111.2 L43.4 110.4 L43.4 109.5 L43.5 108.7 L43.5 107.9 L43.6 107.1 L43.7 106.3 L43.7 105.5 L43.8 104.6 L43.8 103.8 L43.9 103.0 L43.9 102.2 L44.0 101.4 L44.0 100.6 L44.1 99.7 L44.2 98.9 L44.2 98.1 L44.3 97.3 L44.3 96.5 L44.4 95.7 L44.5 94.9 L44.5 94.0 L44.6 93.2 L44.7 92.4 L44.7 91.6 L44.8 90.8 L44.9 90.0 L45.0 89.2 L45.0 88.3 L45.1 87.5 L45.2 86.7 L45.2 85.9 L45.3 85.1 L45.4 84.3 L45.5 83.5 L45.6 82.6 L45.6 81.8 L45.7 81.0 L45.8 80.2 L45.9 79.4 L45.9 78.6 L46.0 77.8 L46.1 76.9 L46.2 76.1 L46.3 75.3 L46.3 74.5 L46.4 73.7 L46.5 72.9 L46.6 72.1 L46.7 71.3 L46.8 70.4 L46.8 69.6 L46.9 68.8 L47.0 68.0 L47.1 67.2 L47.2 66.4 L47.3 65.6 L47.4 64.8 L47.5 63.9 L47.6 63.1 L47.7 62.3 L47.8 61.5 L47.8 60.7 L47.9 59.9 L48.0 59.1 L48.1 58.3 L48.2 57.4 L48.3 56.6 L48.4 55.8 L48.6 55.0 L48.7 54.2 L48.8 53.4 L48.9 52.6 L49.0 51.8 L49.1 51.0 L49.2 50.1 L49.3 49.3 L49.4 48.5 L49.5 47.7 L49.7 46.9 L49.8 46.1 L49.9 45.3 L50.0 44.5 L50.1 43.7 L50.3 42.9 L50.4 42.1 L50.5 41.2 L50.7 40.4 L50.8 39.6 L51.0 38.8 L51.1 38.0 L51.3 37.2 L51.4 36.4 L51.6 35.6 L51.7 34.8 L51.9 34.0 L52.1 33.2 L52.2 32.4 L52.4 31.6 L52.6 30.8 L52.8 30.0 L53.1 29.2 L53.3 28.4 L53.5 27.7 L53.8 26.9 L54.1 26.1 L54.4 25.3 L54.8 24.6 L55.2 23.8 L55.6 23.2 L56.1 22.6 L56.7 22.1 L57.4 21.6 L58.1 21.2 L58.9 20.9 L59.7 20.6 L60.4 20.3 L61.2 20.1 L62.0 19.9 L62.9 19.8 L63.7 19.7 L64.5 19.7 L65.3 19.7 L66.1 19.7 L66.9 19.7 L67.7 19.7 L68.5 19.6 L69.4 19.6 L70.2 19.6 L71.0 19.6 L71.8 19.6 L72.6 19.6 L73.5 19.6 L74.3 19.6 L75.1 19.6 L75.9 19.6 L76.7 19.6 L77.6 19.6 L78.4 19.6 L79.2 19.6 L80.0 19.6 L80.8 19.6 L81.6 19.6 L82.5 19.6 L83.3 19.6 L84.1 19.6 L84.9 19.6 L85.7 19.6 L86.6 19.6 L87.4 19.6 L88.2 19.6 L89.0 19.6 L89.8 19.6 L90.6 19.6 L91.5 19.6 L92.3 19.6 L93.1 19.6 L93.9 19.6 L94.7 19.6 L95.5 19.6 L96.4 19.6 L97.2 19.6 L98.0 19.6 L98.8 19.6 L99.6 19.6 L100.5 19.6 L101.3 19.6 L102.1 19.6 L102.9 19.6 L103.7 19.6 L104.5 19.6 L105.4 19.6 L106.2 19.6 L107.0 19.6 L107.8 19.6 L108.6 19.6 L109.4 19.6 L110.3 19.6 L111.1 19.6 L111.9 19.6 L112.7 19.6 L113.5 19.6 L114.3 19.6 L115.2 19.6 L116.0 19.6 L116.8 19.6 L117.6 19.6 L118.4 19.6 L119.3 19.6 L120.1 19.6 L120.9 19.6 L121.7 19.6 L122.5 19.6 L123.3 19.6 L124.2 19.6 L125.0 19.6 L125.8 19.6 L126.6 19.6 L127.4 19.6 L128.2 19.6 L129.1 19.6 L129.9 19.6 L130.7 19.6 L131.5 19.6 L132.3 19.6 L133.1 19.6 L134.0 19.6 L134.8 19.6 L135.6 19.6 L136.4 19.6 L137.2 19.6 L138.1 19.6 L138.9 19.6 L139.7 19.6 L140.5 19.6 L141.3 19.6 L142.1 19.6 L143.0 19.6 L143.8 19.6 L144.6 19.6 L145.4 19.6 L146.2 19.6 L147.0 19.6 L147.9 19.6 L148.7 19.6 L149.5 19.6 L150.3 19.6 L151.1 19.6 L152.0 19.6 L152.8 19.6 L153.6 19.6 L154.4 19.6 L155.2 19.6 L156.0 19.6 L156.9 19.6 L157.7 19.6 L158.5 19.6 L159.3 19.6 L160.1 19.6 L160.9 19.6 L161.8 19.6 L162.6 19.6 L163.4 19.6 L164.2 19.6 L165.0 19.6 L165.8 19.6 L166.7 19.6 L167.5 19.6 L168.3 19.6 L169.1 19.6 L169.9 19.6 L170.8 19.6 L171.6 19.6 L172.4 19.6 L173.2 19.6 L174.0 19.6 L174.8 19.6 L175.7 19.6 L176.5 19.6 L177.3 19.6 L178.1 19.6 L178.9 19.6 L179.7 19.6 L180.6 19.6 L181.4 19.6 L182.2 19.6 L183.0 19.6 L183.8 19.6 L184.7 19.6 L185.5 19.6 L186.3 19.6 L187.1 19.6 L187.9 19.6 L188.7 19.6 L189.6 19.6 L190.4 19.6 L191.2 19.6 L192.0 19.6 L192.8 19.6 L193.6 19.6 L194.5 19.6 L195.3 19.6 L196.1 19.6 L196.9 19.6 L197.7 19.6 L198.5 19.6 L199.4 19.6 L200.2 19.6 L201.0 19.6 L201.8 19.6 L202.6 19.6 L203.5 19.6 L204.3 19.6 L205.1 19.6 L205.9 19.6 L206.7 19.6 L207.5 19.6 L208.4 19.6 L209.2 19.6 L210.0 19.6 L210.8 19.6 L211.6 19.6 L212.4 19.6 L213.3 19.6 L214.1 19.6 L214.9 19.6 L215.7 19.6 L216.5 19.6 L217.4 19.6 L218.2 19.6 L219.0 19.6 L219.8 19.6 L220.6 19.6 L221.4 19.6 L222.3 19.6 L223.1 19.6 L223.9 19.6 L224.7 19.6 L225.5 19.6 L226.3 19.6 L227.2 19.6 L228.0 19.6 L228.8 19.6 L229.6 19.6 L230.4 19.6 L231.2 19.6 L232.1 19.6 L232.9 19.6 L233.7 19.6 L234.5 19.6 L235.3 19.6 L236.2 19.6 L237.0 19.6 L237.8 19.6 L238.6 19.6 L239.4 19.6 L240.2 19.6 L241.1 19.6 L241.9 19.6 L242.7 19.6 L243.5 19.6 L244.3 19.6 L245.1 19.6 L246.0 19.6 L246.8 19.6 L247.6 19.6 L248.4 19.6 L249.2 19.6 L250.1 19.6 L250.9 19.6 L251.7 19.6 L252.5 19.6 L253.3 19.6 L254.1 19.6 L255.0 19.6 L255.8 19.6 L256.6 19.6 L257.4 19.6 L258.2 19.6 L259.0 19.6 L259.9 19.6 L260.7 19.6 L261.5 19.6 L262.3 19.6 L263.1 19.6 L263.9 19.6 L264.8 19.6 L265.6 19.6 L266.4 19.6" stroke="#00ff00" stroke-width="1.7"/>
<path d="M57.0 217.2 L60.3 217.2 L63.9 217.0 L66.5 216.7 L68.5 216.1 L71.3 215.1 L74.1 213.4 L76.2 211.9 L78.6 209.5 L81.0 205.6 L81.9 203.2 L83.2 201.0 L83.8 198.9 L84.8 196.0 L86.0 192.9 L86.9 190.1 L88.1 187.2 L89.3 183.6 L89.8 181.3 L90.5 177.6 L91.0 175.4 L91.9 171.7 L92.4 168.5 L93.0 165.4 L93.3 162.3 L94.1 159.9 L95.1 156.1 L95.9 154.0 L96.2 150.5 L97.0 148.0 L97.6 144.4 L98.0 142.4 L99.4 138.0 L99.5 136.0 L100.3 133.2 L100.9 129.0 L101.0 126.7 L101.9 123.8 L102.1 120.8 L102.4 117.1 L103.3 115.7 L104.2 112.7 L104.4 108.7 L105.1 105.5 L105.7 102.7 L106.0 100.4 L107.2 96.1 L107.3 93.6 L108.1 90.5 L109.1 88.2 L109.5 84.9 L109.9 82.6 L110.8 78.4 L111.0 76.6 L111.5 73.7 L112.3 70.4 L112.9 67.0 L113.4 64.0 L114.5 61.4 L114.9 58.9 L116.1 55.6 L117.5 51.7 L117.7 50.5 L119.6 46.0 L120.8 43.2 L121.7 41.5 L123.2 38.8 L124.2 36.7 L125.8 33.6 L127.4 30.2 L128.8 28.6 L131.7 24.8 L133.8 22.9 L136.0 21.2 L138.2 20.3 L142.4 19.7 L144.6 19.7 L148.6 19.6 L150.9 19.6 L154.7 19.6 L156.1 19.6 L159.1 19.6 L162.4 19.6 L165.4 19.6 L168.6 19.6 L172.5 19.6 L174.6 19.6 L178.6 19.6 L180.0 19.6 L183.8 19.6 L187.0 19.6 L189.7 19.6 L193.0 19.6 L195.4 19.6 L199.2 19.6 L202.8 19.6 L205.7 19.6 L208.7 19.6 L212.1 19.6 L213.7 19.6 L218.0 19.6 L220.1 19.6 L224.9 19.6 L226.2 19.6 L229.7 19.6 L233.3 19.6 L236.8 19.6 L238.0 19.6 L241.8 19.6 L244.1 19.6 L247.3 19.6 L250.9 19.6 L255.0 19.6 L256.2 19.6 L261.1 19.6 L264.1 19.6 L266.4 19.6" stroke="#00ffff" stroke-width="1.45"/>
<path d="M72.0 217.2 L74.4 217.2 L78.5 217.1 L82.0 216.7 L84.2 215.9 L87.4 214.1 L89.4 212.9 L92.4 210.8 L93.8 209.5 L95.9 206.1 L97.2 202.7 L97.7 200.8 L99.1 197.8 L100.5 195.0 L101.5 192.3 L102.4 190.5 L103.8 187.2 L104.7 185.0 L105.5 180.6 L106.1 178.8 L106.5 175.0 L107.4 172.4 L107.5 169.9 L108.5 166.2 L108.9 163.1 L110.0 160.0 L110.4 157.2 L111.1 153.2 L111.4 151.9 L111.9 148.8 L112.6 146.1 L113.7 142.0 L114.2 140.0 L115.0 135.6 L115.4 132.8 L116.1 129.4 L116.5 126.4 L117.2 123.8 L117.3 121.6 L117.8 118.3 L118.7 114.9 L118.9 113.1 L120.0 109.7 L120.7 106.9 L121.2 102.4 L121.7 100.7 L122.4 97.8 L123.3 93.5 L123.6 90.9 L124.3 87.9 L124.9 86.0 L125.3 83.3 L125.9 79.8 L126.6 76.2 L126.8 74.0 L127.8 70.3 L128.1 67.9 L129.4 64.2 L129.7 61.1 L130.2 57.6 L131.2 56.2 L131.7 52.9 L133.2 50.4 L134.3 46.3 L135.4 43.1 L136.7 40.4 L137.4 39.0 L138.7 35.9 L140.0 33.3 L141.8 29.9 L143.6 27.8 L146.6 25.4 L149.1 23.9 L151.1 22.8 L154.5 21.3 L157.6 20.5 L160.3 19.8 L162.3 19.7 L165.2 19.7 L169.6 19.6 L171.6 19.6 L175.9 19.6 L178.3 19.6 L181.6 19.6 L185.1 19.6 L187.3 19.6 L191.2 19.6 L193.6 19.6 L195.8 19.6 L199.4 19.6 L201.9 19.6 L205.3 19.6 L207.4 19.6 L212.4 19.6 L214.3 19.6 L218.5 19.6 L220.4 19.6 L224.7 19.6 L225.8 19.6 L229.8 19.6 L232.8 19.6 L236.5 19.6 L238.0 19.6 L241.2 19.6 L244.1 19.6 L246.8 19.6 L251.3 19.6 L253.9 19.6 L258.2 19.6 L261.3 19.6 L263.0 19.6 L266.4 19.6" stroke="#ff00ff" stroke-width="1.45"/>
<path d="M29.2 217.2 L32.9 217.2 L34.7 217.2 L38.8 217.2 L40.4 217.2 L44.3 217.2 L46.7 217.2 L50.2 217.2 L52.6 217.2 L55.8 217.2 L60.5 217.2 L63.6 217.2 L65.9 217.2 L68.4 217.2 L72.2 217.2 L75.3 217.2 L78.3 217.2 L80.4 217.2 L83.3 217.2 L87.1 217.2 L90.4 217.2 L92.1 217.2 L95.9 217.1 L98.7 216.1 L101.3 215.4 L105.2 214.9 L108.6 214.5 L110.4 214.2 L114.2 213.1 L116.5 212.5 L118.2 211.5 L121.1 209.6 L123.2 208.1 L126.8 205.1 L128.6 202.5 L130.2 200.5 L132.0 198.1 L133.7 196.1 L135.6 193.2 L136.8 191.6 L138.4 188.3 L140.3 184.7 L140.8 183.7 L142.2 181.0 L144.3 176.6 L144.7 174.8 L145.3 172.6 L146.9 168.6 L148.0 165.0 L148.8 163.5 L150.1 160.2 L151.2 156.4 L152.1 154.5 L152.8 152.4 L153.6 149.0 L154.3 146.2 L155.8 142.7 L156.4 139.4 L157.2 137.6 L158.1 133.2 L158.9 130.7 L159.7 128.8 L160.3 126.5 L161.9 122.1 L162.5 120.4 L164.0 116.1 L164.2 113.9 L165.2 111.5 L165.8 107.3 L166.3 105.7 L167.6 101.3 L168.2 99.6 L168.7 96.3 L169.2 94.4 L170.2 90.8 L171.3 87.6 L171.8 84.4 L172.9 81.1 L174.0 78.9 L174.7 76.0 L175.7 72.1 L176.4 69.8 L177.3 66.9 L177.9 64.8 L179.1 61.3 L180.4 58.1 L181.5 55.9 L182.5 53.7 L183.9 51.2 L184.9 48.6 L186.9 44.5 L188.0 43.1 L190.2 39.5 L190.8 37.8 L193.4 34.6 L194.8 32.7 L196.0 30.7 L197.7 28.4 L200.9 26.7 L203.0 25.7 L207.0 23.2 L208.8 22.0 L212.1 20.6 L215.9 19.9 L217.3 19.7 L220.1 19.7 L224.2 19.6 L227.2 19.6 L229.2 19.6 L232.9 19.6 L235.4 19.6 L239.6 19.6 L243.1 19.6 L244.9 19.6 L248.0 19.6 L250.4 19.6 L253.2 19.6 L257.8 19.6 L260.0 19.6 L262.4 19.6 L266.4 19.6" stroke="#000000" stroke-width="2.0"/>
</g>
<g font-family="'Liberation Serif', serif" font-size="7.7" fill="#262626">
<text x="29.2" y="227.7" text-anchor="middle">0</text>
<text x="58.8" y="227.7" text-anchor="middle">1</text>
<text x="88.5" y="227.7" text-anchor="middle">2</text>
<text x="118.1" y="227.7" text-anchor="middle">3</text>
<text x="147.8" y="227.7" text-anchor="middle">4</text>
<text x="177.4" y="227.7" text-anchor="middle">5</text>
<text x="207.1" y="227.7" text-anchor="middle">6</text>
<text x="236.7" y="227.7" text-anchor="middle">7</text>
<text x="266.4" y="227.7" text-anchor="middle">8</text>
<text x="26.3" y="220.5" text-anchor="end">0</text>
<text x="26.3" y="200.7" text-anchor="end">0.1</text>
<text x="26.3" y="181.0" text-anchor="end">0.2</text>
<text x="26.3" y="161.2" text-anchor="end">0.3</text>
<text x="26.3" y="141.5" text-anchor="end">0.4</text>
<text x="26.3" y="121.7" text-anchor="end">0.5</text>
<text x="26.3" y="101.9" text-anchor="end">0.6</text>
<text x="26.3" y="82.2" text-anchor="end">0.7</text>
<text x="26.3" y="62.4" text-anchor="end">0.8</text>
<text x="26.3" y="42.7" text-anchor="end">0.9</text>
<text x="26.3" y="22.9" text-anchor="end">1</text>
</g>
<g font-family="'Liberation Serif', serif" fill="#262626">
<text x="147.3" y="239.6" font-size="10" text-anchor="middle">Flood Depth (m)</text>
<text transform="translate(13.3 118.5) rotate(-90)" font-size="10.6" text-anchor="middle">Probability of Failure</text>
<text x="5.6" y="14.8" font-size="14.4" font-weight="bold" fill="#000">(a)</text>
</g>
<rect x="156.6" y="170.0" width="104.2" height="41.3" fill="#fff" stroke="#262626" stroke-width="0.6"/>
<g font-family="'Liberation Serif', serif" font-size="5.72" font-weight="bold" fill="#000">
<path d="M158.6 175.2H179.4" stroke="#0000ff" stroke-width="1.4"/>
<text x="182.1" y="177.1">AC Units</text>
<path d="M158.6 182.9H179.4" stroke="#00ff00" stroke-width="1.4"/>
<text x="182.1" y="184.8">Cabinets</text>
<path d="M158.6 190.7H179.4" stroke="#00ffff" stroke-width="1.4"/>
<text x="182.1" y="192.6">Drywall (DS3)</text>
<path d="M158.6 198.5H179.4" stroke="#ff00ff" stroke-width="1.4"/>
<text x="182.1" y="200.4">Exterior Cladding/Brick Walls</text>
<path d="M158.6 206.4H179.4" stroke="#000000" stroke-width="1.4"/>
<text x="182.1" y="208.3">Slab on grade Foundation</text>
</g>
<g id="pb" stroke-linejoin="round" clip-path="url(#cb)">
<path d="M310.7 213.4 L310.8 213.1 L310.9 212.7 L311.0 212.4 L311.2 212.1 L311.3 211.7 L311.4 211.4 L311.5 211.0 L311.6 210.7 L311.6 210.4 L311.7 210.0 L311.8 209.7 L311.9 209.4 L312.0 209.0 L312.0 208.7 L312.1 208.3 L312.2 208.0 L312.3 207.7 L312.3 207.3 L312.4 207.0 L312.5 206.6 L312.6 206.3 L312.7 206.0 L312.8 205.6 L312.9 205.3 L313.0 205.0 L313.1 204.6 L313.2 204.3 L313.2 203.9 L313.3 203.6 L313.4 203.3 L313.4 202.9 L313.5 202.6 L313.5 202.2 L313.6 201.9 L313.6 201.6 L313.6 201.2 L313.7 200.9 L313.7 200.5 L313.8 200.2 L313.8 199.9 L313.9 199.5 L313.9 199.2 L313.9 198.9 L314.0 198.5 L314.0 198.2 L314.1 197.8 L314.1 197.5 L314.2 197.2 L314.2 196.8 L314.2 196.5 L314.3 196.1 L314.3 195.8 L314.4 195.5 L314.4 195.1 L314.5 194.8 L314.5 194.4 L314.6 194.1 L314.6 193.8 L314.7 193.4 L314.7 193.1 L314.8 192.7 L314.8 192.4 L314.9 192.1 L314.9 191.7 L315.0 191.4 L315.0 191.0 L315.0 190.7 L315.1 190.4 L315.1 190.0 L315.2 189.7 L315.2 189.3 L315.2 189.0 L315.3 188.7 L315.3 188.3 L315.4 188.0 L315.4 187.6 L315.4 187.3 L315.5 187.0 L315.5 186.6 L315.5 186.3 L315.6 186.0 L315.6 185.6 L315.6 185.3 L315.7 184.9 L315.7 184.6 L315.7 184.3 L315.8 183.9 L315.8 183.6 L315.8 183.2 L315.8 182.9 L315.9 182.6 L315.9 182.2 L315.9 181.9 L316.0 181.5 L316.0 181.2 L316.0 180.9 L316.1 180.5 L316.1 180.2 L316.1 179.8 L316.2 179.5 L316.2 179.2 L316.2 178.8 L316.3 178.5 L316.3 178.1 L316.3 177.8 L316.4 177.5 L316.4 177.1 L316.4 176.8 L316.5 176.4 L316.5 176.1 L316.5 175.8 L316.5 175.4 L316.6 175.1 L316.6 174.7 L316.6 174.4 L316.7 174.1 L316.7 173.7 L316.7 173.4 L316.8 173.0 L316.8 172.7 L316.8 172.4 L316.8 172.0 L316.9 171.7 L316.9 171.3 L316.9 171.0 L316.9 170.7 L317.0 170.3 L317.0 170.0 L317.0 169.6 L317.0 169.3 L317.1 169.0 L317.1 168.6 L317.1 168.3 L317.2 167.9 L317.2 167.6 L317.2 167.3 L317.2 166.9 L317.3 166.6 L317.3 166.2 L317.3 165.9 L317.3 165.6 L317.4 165.2 L317.4 164.9 L317.4 164.5 L317.5 164.2 L317.5 163.9 L317.5 163.5 L317.6 163.2 L317.6 162.9 L317.6 162.5 L317.7 162.2 L317.7 161.8 L317.7 161.5 L317.8 161.2 L317.8 160.8 L317.8 160.5 L317.9 160.1 L317.9 159.8 L317.9 159.5 L318.0 159.1 L318.0 158.8 L318.0 158.4 L318.1 158.1 L318.1 157.8 L318.1 157.4 L318.2 157.1 L318.2 156.7 L318.2 156.4 L318.3 156.1 L318.3 155.7 L318.3 155.4 L318.4 155.0 L318.4 154.7 L318.4 154.4 L318.5 154.0 L318.5 153.7 L318.5 153.3 L318.6 153.0 L318.6 152.7 L318.7 152.3 L318.7 152.0 L318.7 151.6 L318.8 151.3 L318.8 151.0 L318.8 150.6 L318.9 150.3 L318.9 149.9 L319.0 149.6 L319.0 149.3 L319.1 148.9 L319.1 148.6 L319.1 148.2 L319.2 147.9 L319.2 147.6 L319.3 147.2 L319.3 146.9 L319.4 146.5 L319.4 146.2 L319.5 145.9 L319.5 145.5 L319.5 145.2 L319.6 144.9 L319.6 144.5 L319.7 144.2 L319.8 143.8 L319.8 143.5 L319.9 143.2 L319.9 142.8 L320.0 142.5 L320.1 142.1 L320.1 141.8 L320.2 141.5 L320.3 141.1 L320.3 140.8 L320.4 140.4 L320.5 140.1 L320.6 139.8 L320.7 139.4 L320.8 139.1 L320.9 138.7 L321.0 138.4 L321.2 138.1 L321.3 137.7 L321.4 137.4 L321.6 137.0 L321.8 136.7 L322.0 136.4 L322.2 136.1 L322.4 135.8 L322.7 135.4 L323.1 135.1 L323.5 134.8 L324.0 134.5 L324.5 134.2 L325.1 134.1 L325.8 133.9 L326.7 133.8 L327.5 133.8 L328.3 133.8 L329.1 133.8 L330.0 133.8 L330.8 133.7 L331.6 133.7 L332.4 133.7 L333.3 133.7 L334.1 133.7 L334.9 133.7 L335.8 133.7 L336.6 133.7 L337.5 133.7 L338.3 133.7 L339.1 133.7 L340.0 133.7 L340.8 133.7 L341.6 133.7 L342.5 133.7 L343.3 133.7 L344.1 133.7 L345.0 133.7 L345.8 133.7 L346.6 133.7 L347.4 133.7 L348.3 133.7 L349.1 133.7 L349.9 133.7 L350.8 133.7 L351.6 133.7 L352.4 133.7 L353.3 133.7 L354.1 133.7 L354.9 133.7 L355.8 133.7 L356.6 133.7 L357.4 133.7 L358.2 133.7 L359.1 133.7 L359.9 133.7 L360.7 133.7 L361.6 133.7 L362.4 133.7 L363.2 133.7 L364.1 133.7 L364.9 133.7 L365.7 133.7 L366.5 133.7 L367.4 133.7 L368.2 133.7 L369.0 133.7 L369.9 133.7 L370.7 133.7 L371.5 133.7 L372.4 133.7 L373.2 133.7 L374.0 133.7 L374.9 133.7 L375.7 133.7 L376.5 133.7 L377.3 133.7 L378.2 133.7 L379.0 133.7 L379.8 133.7 L380.7 133.7 L381.5 133.7 L382.3 133.7 L383.2 133.7 L384.0 133.7 L384.8 133.7 L385.7 133.7 L386.5 133.7 L387.3 133.7 L388.1 133.7 L389.0 133.7 L389.8 133.7 L390.6 133.7 L391.5 133.7 L392.3 133.7 L393.1 133.7 L394.0 133.7 L394.8 133.7 L395.6 133.7 L396.5 133.7 L397.3 133.7 L398.1 133.7 L398.9 133.7 L399.8 133.7 L400.6 133.7 L401.4 133.7 L402.3 133.7 L403.1 133.7 L403.9 133.7 L404.8 133.7 L405.6 133.7 L406.4 133.7 L407.2 133.7 L408.1 133.7 L408.9 133.7 L409.7 133.7 L410.6 133.7 L411.4 133.7 L412.2 133.7 L413.1 133.7 L413.9 133.7 L414.7 133.7 L415.6 133.7 L416.4 133.7 L417.2 133.7 L418.0 133.7 L418.9 133.7 L419.7 133.7 L420.5 133.7 L421.4 133.7 L422.2 133.7 L423.0 133.7 L423.9 133.7 L424.7 133.7 L425.5 133.7 L426.4 133.7 L427.2 133.7 L428.0 133.7 L428.8 133.7 L429.7 133.7 L430.5 133.7 L431.3 133.7 L432.2 133.7 L433.0 133.7 L433.8 133.7 L434.7 133.7 L435.5 133.7 L436.3 133.7 L437.2 133.7 L438.0 133.7 L438.8 133.7 L439.6 133.7 L440.5 133.7 L441.3 133.7 L442.1 133.7 L443.0 133.7 L443.8 133.7 L444.6 133.7 L445.5 133.7 L446.3 133.7 L447.1 133.7 L447.9 133.7 L448.8 133.7 L449.6 133.7 L450.4 133.7 L451.3 133.7 L452.1 133.7 L452.9 133.7 L453.8 133.7 L454.6 133.7 L455.4 133.7 L456.3 133.7 L457.1 133.7 L457.9 133.7 L458.7 133.7 L459.6 133.7 L460.4 133.7 L461.2 133.7 L462.1 133.7 L462.9 133.7 L463.7 133.7 L464.6 133.7 L465.4 133.7 L466.2 133.7 L467.1 133.7 L467.9 133.7 L468.7 133.7 L469.5 133.7 L470.4 133.7 L471.2 133.7 L472.0 133.7 L472.9 133.7 L473.7 133.7 L474.5 133.7 L475.4 133.7 L476.2 133.7 L477.0 133.7 L477.9 133.7 L478.7 133.7 L479.5 133.7 L480.3 133.7 L481.2 133.7 L482.0 133.7 L482.8 133.7 L483.7 133.7 L484.5 133.7 L485.3 133.7 L486.2 133.7 L487.0 133.7 L487.8 133.7 L488.6 133.7 L489.5 133.7 L490.3 133.7 L491.1 133.7 L492.0 133.7 L492.8 133.7 L493.6 133.7 L494.5 133.7 L495.3 133.7 L496.1 133.7 L497.0 133.7 L497.8 133.7 L498.6 133.7 L499.4 133.7 L500.3 133.7 L501.1 133.7 L501.9 133.7 L502.8 133.7 L503.6 133.7 L504.4 133.7 L505.3 133.7 L506.1 133.7 L506.9 133.7 L507.8 133.7 L508.6 133.7 L509.4 133.7 L510.2 133.7 L511.1 133.7 L511.9 133.7 L512.7 133.7 L513.6 133.7 L514.4 133.7 L515.2 133.7 L516.1 133.7 L516.9 133.7 L517.7 133.7 L518.6 133.7 L519.4 133.7 L520.2 133.7 L521.0 133.7 L521.9 133.7 L522.7 133.7 L523.5 133.7 L524.4 133.7 L525.2 133.7 L526.0 133.7 L526.9 133.7 L527.7 133.7 L528.5 133.7 L529.3 133.7 L530.2 133.7 L531.0 133.7 L531.8 133.7 L532.7 133.7 L533.5 133.7 L534.3 133.7 L535.2 133.7 L536.0 133.7 L536.8 133.7 L537.7 133.7 L538.5 133.7 L539.3 133.7 L540.1 133.7 L541.0 133.7 L541.8 133.7 L542.6 133.7 L543.5 133.7 L544.3 133.7 L544.3 166.1 L543.5 166.1 L542.6 166.1 L541.8 166.1 L541.0 166.1 L540.1 166.1 L539.3 166.1 L538.5 166.1 L537.7 166.1 L536.8 166.1 L536.0 166.1 L535.2 166.1 L534.3 166.1 L533.5 166.1 L532.7 166.1 L531.8 166.1 L531.0 166.1 L530.2 166.1 L529.3 166.1 L528.5 166.1 L527.7 166.1 L526.9 166.1 L526.0 166.1 L525.2 166.1 L524.4 166.1 L523.5 166.1 L522.7 166.1 L521.9 166.1 L521.0 166.1 L520.2 166.1 L519.4 166.1 L518.6 166.1 L517.7 166.1 L516.9 166.1 L516.1 166.1 L515.2 166.1 L514.4 166.1 L513.6 166.1 L512.7 166.1 L511.9 166.1 L511.1 166.1 L510.2 166.1 L509.4 166.1 L508.6 166.1 L507.8 166.1 L506.9 166.1 L506.1 166.1 L505.3 166.1 L504.4 166.1 L503.6 166.1 L502.8 166.1 L501.9 166.1 L501.1 166.1 L500.3 166.1 L499.4 166.1 L498.6 166.1 L497.8 166.1 L497.0 166.1 L496.1 166.1 L495.3 166.1 L494.5 166.1 L493.6 166.1 L492.8 166.1 L492.0 166.1 L491.1 166.1 L490.3 166.1 L489.5 166.1 L488.6 166.1 L487.8 166.1 L487.0 166.1 L486.2 166.1 L485.3 166.1 L484.5 166.1 L483.7 166.1 L482.8 166.1 L482.0 166.1 L481.2 166.1 L480.3 166.1 L479.5 166.1 L478.7 166.1 L477.9 166.1 L477.0 166.1 L476.2 166.1 L475.4 166.1 L474.5 166.1 L473.7 166.1 L472.9 166.1 L472.0 166.1 L471.2 166.1 L470.4 166.1 L469.5 166.1 L468.7 166.1 L467.9 166.1 L467.1 166.1 L466.2 166.1 L465.4 166.1 L464.6 166.1 L463.7 166.1 L462.9 166.1 L462.1 166.1 L461.2 166.1 L460.4 166.1 L459.6 166.1 L458.7 166.1 L457.9 166.1 L457.1 166.1 L456.3 166.1 L455.4 166.1 L454.6 166.1 L453.8 166.1 L452.9 166.1 L452.1 166.1 L451.3 166.1 L450.4 166.1 L449.6 166.1 L448.8 166.1 L447.9 166.1 L447.1 166.1 L446.3 166.1 L445.5 166.1 L444.6 166.1 L443.8 166.1 L443.0 166.1 L442.1 166.1 L441.3 166.1 L440.5 166.1 L439.6 166.1 L438.8 166.1 L438.0 166.1 L437.2 166.1 L436.3 166.1 L435.5 166.1 L434.7 166.1 L433.8 166.1 L433.0 166.1 L432.2 166.1 L431.3 166.1 L430.5 166.1 L429.7 166.1 L428.8 166.1 L428.0 166.1 L427.2 166.1 L426.4 166.1 L425.5 166.1 L424.7 166.1 L423.9 166.1 L423.0 166.1 L422.2 166.1 L421.4 166.1 L420.5 166.1 L419.7 166.1 L418.9 166.1 L418.0 166.1 L417.2 166.1 L416.4 166.1 L415.6 166.1 L414.7 166.1 L413.9 166.1 L413.1 166.1 L412.2 166.1 L411.4 166.1 L410.6 166.1 L409.7 166.1 L408.9 166.1 L408.1 166.1 L407.2 166.1 L406.4 166.1 L405.6 166.1 L404.8 166.1 L403.9 166.1 L403.1 166.1 L402.3 166.1 L401.4 166.1 L400.6 166.1 L399.8 166.1 L398.9 166.1 L398.1 166.1 L397.3 166.1 L396.5 166.1 L395.6 166.1 L394.8 166.1 L394.0 166.1 L393.1 166.1 L392.3 166.1 L391.5 166.1 L390.6 166.1 L389.8 166.1 L389.0 166.1 L388.1 166.1 L387.3 166.1 L386.5 166.1 L385.7 166.1 L384.8 166.1 L384.0 166.1 L383.2 166.1 L382.3 166.1 L381.5 166.1 L380.7 166.1 L379.8 166.1 L379.0 166.1 L378.2 166.1 L377.3 166.1 L376.5 166.1 L375.7 166.1 L374.9 166.1 L374.0 166.1 L373.2 166.1 L372.4 166.1 L371.5 166.1 L370.7 166.1 L369.9 166.1 L369.0 166.1 L368.2 166.1 L367.4 166.1 L366.5 166.1 L365.7 166.1 L364.9 166.1 L364.1 166.1 L363.2 166.1 L362.4 166.1 L361.6 166.1 L360.7 166.1 L359.9 166.1 L359.1 166.1 L358.2 166.1 L357.4 166.1 L356.6 166.1 L355.8 166.1 L354.9 166.1 L354.1 166.1 L353.3 166.1 L352.4 166.1 L351.6 166.1 L350.8 166.1 L349.9 166.1 L349.1 166.1 L348.3 166.1 L347.4 166.1 L346.6 166.1 L345.8 166.1 L345.0 166.1 L344.1 166.1 L343.3 166.1 L342.5 166.1 L341.6 166.1 L340.8 166.1 L340.0 166.1 L339.1 166.1 L338.3 166.1 L337.5 166.1 L336.6 166.1 L335.8 166.1 L334.9 166.1 L334.1 166.1 L333.3 166.1 L332.4 166.1 L331.6 166.1 L330.8 166.1 L330.0 166.1 L329.1 166.1 L328.3 166.1 L327.5 166.1 L326.7 166.2 L325.8 166.2 L325.1 166.3 L324.5 166.4 L324.0 166.5 L323.5 166.7 L323.1 166.9 L322.7 167.1 L322.4 167.3 L322.2 167.5 L322.0 167.7 L321.8 167.9 L321.6 168.1 L321.4 168.3 L321.3 168.5 L321.2 168.7 L321.0 168.9 L320.9 169.1 L320.8 169.3 L320.7 169.5 L320.6 169.7 L320.5 169.9 L320.4 170.1 L320.3 170.3 L320.3 170.5 L320.2 170.7 L320.1 170.9 L320.1 171.1 L320.0 171.3 L319.9 171.5 L319.9 171.7 L319.8 171.9 L319.8 172.1 L319.7 172.3 L319.6 172.5 L319.6 172.7 L319.5 172.9 L319.5 173.1 L319.5 173.3 L319.4 173.5 L319.4 173.7 L319.3 173.9 L319.3 174.1 L319.2 174.3 L319.2 174.5 L319.1 174.7 L319.1 174.9 L319.1 175.1 L319.0 175.3 L319.0 175.5 L318.9 175.7 L318.9 175.9 L318.8 176.1 L318.8 176.3 L318.8 176.5 L318.7 176.7 L318.7 176.9 L318.7 177.1 L318.6 177.3 L318.6 177.5 L318.5 177.7 L318.5 177.9 L318.5 178.1 L318.4 178.4 L318.4 178.6 L318.4 178.8 L318.3 179.0 L318.3 179.2 L318.3 179.4 L318.2 179.6 L318.2 179.8 L318.2 180.0 L318.1 180.2 L318.1 180.4 L318.1 180.6 L318.0 180.8 L318.0 181.0 L318.0 181.2 L317.9 181.4 L317.9 181.6 L317.9 181.8 L317.8 182.0 L317.8 182.2 L317.8 182.4 L317.7 182.6 L317.7 182.8 L317.7 183.0 L317.6 183.2 L317.6 183.4 L317.6 183.6 L317.5 183.8 L317.5 184.0 L317.5 184.2 L317.4 184.4 L317.4 184.6 L317.4 184.8 L317.3 185.0 L317.3 185.2 L317.3 185.4 L317.3 185.6 L317.2 185.8 L317.2 186.0 L317.2 186.2 L317.2 186.4 L317.1 186.6 L317.1 186.8 L317.1 187.0 L317.0 187.2 L317.0 187.4 L317.0 187.6 L317.0 187.8 L316.9 188.0 L316.9 188.2 L316.9 188.4 L316.9 188.6 L316.8 188.8 L316.8 189.0 L316.8 189.2 L316.8 189.4 L316.7 189.6 L316.7 189.8 L316.7 190.0 L316.6 190.2 L316.6 190.5 L316.6 190.7 L316.5 190.9 L316.5 191.1 L316.5 191.3 L316.5 191.5 L316.4 191.7 L316.4 191.9 L316.4 192.1 L316.3 192.3 L316.3 192.5 L316.3 192.7 L316.2 192.9 L316.2 193.1 L316.2 193.3 L316.1 193.5 L316.1 193.7 L316.1 193.9 L316.0 194.1 L316.0 194.3 L316.0 194.5 L315.9 194.7 L315.9 194.9 L315.9 195.1 L315.8 195.3 L315.8 195.5 L315.8 195.7 L315.8 195.9 L315.7 196.1 L315.7 196.3 L315.7 196.5 L315.6 196.7 L315.6 196.9 L315.6 197.1 L315.5 197.3 L315.5 197.5 L315.5 197.7 L315.4 197.9 L315.4 198.1 L315.4 198.3 L315.3 198.5 L315.3 198.7 L315.2 198.9 L315.2 199.1 L315.2 199.3 L315.1 199.5 L315.1 199.7 L315.0 199.9 L315.0 200.1 L315.0 200.3 L314.9 200.5 L314.9 200.7 L314.8 200.9 L314.8 201.1 L314.7 201.3 L314.7 201.5 L314.6 201.7 L314.6 201.9 L314.5 202.1 L314.5 202.3 L314.4 202.5 L314.4 202.7 L314.3 202.9 L314.3 203.2 L314.2 203.4 L314.2 203.6 L314.2 203.8 L314.1 204.0 L314.1 204.2 L314.0 204.4 L314.0 204.6 L313.9 204.8 L313.9 205.0 L313.9 205.2 L313.8 205.4 L313.8 205.6 L313.7 205.8 L313.7 206.0 L313.6 206.2 L313.6 206.4 L313.6 206.6 L313.5 206.8 L313.5 207.0 L313.4 207.2 L313.4 207.4 L313.3 207.6 L313.2 207.8 L313.2 208.0 L313.1 208.2 L313.0 208.4 L312.9 208.6 L312.8 208.8 L312.7 209.0 L312.6 209.2 L312.5 209.4 L312.4 209.6 L312.3 209.8 L312.3 210.0 L312.2 210.2 L312.1 210.4 L312.0 210.6 L312.0 210.8 L311.9 211.0 L311.8 211.2 L311.7 211.4 L311.6 211.6 L311.6 211.8 L311.5 212.0 L311.4 212.2 L311.3 212.4 L311.2 212.6 L311.0 212.8 L310.9 213.0 L310.8 213.2 L310.7 213.4Z" fill="#808080" fill-opacity="0.4" stroke="#707070" stroke-opacity="0.3" stroke-width="0.5"/>
<path d="M310.8 213.4 L311.0 213.0 L311.1 212.7 L311.3 212.3 L311.5 211.9 L311.6 211.6 L311.8 211.2 L312.0 210.8 L312.1 210.5 L312.3 210.1 L312.5 209.7 L312.7 209.4 L312.9 209.0 L313.0 208.6 L313.2 208.3 L313.4 207.9 L313.6 207.5 L313.8 207.2 L313.9 206.8 L314.1 206.4 L314.3 206.1 L314.4 205.7 L314.6 205.3 L314.8 205.0 L314.9 204.6 L315.1 204.2 L315.2 203.9 L315.4 203.5 L315.5 203.1 L315.7 202.8 L315.8 202.4 L316.0 202.0 L316.2 201.7 L316.3 201.3 L316.5 200.9 L316.6 200.5 L316.7 200.2 L316.9 199.8 L317.0 199.4 L317.2 199.1 L317.3 198.7 L317.5 198.3 L317.6 198.0 L317.7 197.6 L317.9 197.2 L318.0 196.9 L318.1 196.5 L318.2 196.1 L318.3 195.7 L318.5 195.4 L318.6 195.0 L318.7 194.6 L318.8 194.3 L318.9 193.9 L319.0 193.5 L319.1 193.1 L319.2 192.8 L319.2 192.4 L319.3 192.0 L319.4 191.6 L319.5 191.3 L319.6 190.9 L319.7 190.5 L319.8 190.2 L319.8 189.8 L319.9 189.4 L320.0 189.0 L320.1 188.7 L320.2 188.3 L320.2 187.9 L320.3 187.5 L320.4 187.2 L320.4 186.8 L320.5 186.4 L320.6 186.0 L320.7 185.7 L320.7 185.3 L320.8 184.9 L320.9 184.5 L320.9 184.2 L321.0 183.8 L321.1 183.4 L321.1 183.1 L321.2 182.7 L321.3 182.3 L321.3 181.9 L321.4 181.6 L321.4 181.2 L321.5 180.8 L321.6 180.4 L321.6 180.1 L321.7 179.7 L321.7 179.3 L321.8 178.9 L321.9 178.6 L321.9 178.2 L322.0 177.8 L322.1 177.4 L322.1 177.1 L322.2 176.7 L322.3 176.3 L322.4 175.9 L322.4 175.6 L322.5 175.2 L322.6 174.8 L322.7 174.5 L322.7 174.1 L322.8 173.7 L322.9 173.3 L323.0 173.0 L323.1 172.6 L323.2 172.2 L323.2 171.8 L323.3 171.5 L323.4 171.1 L323.5 170.7 L323.6 170.3 L323.6 170.0 L323.7 169.6 L323.8 169.2 L323.9 168.9 L323.9 168.5 L324.0 168.1 L324.1 167.7 L324.1 167.4 L324.2 167.0 L324.2 166.6 L324.3 166.2 L324.4 165.9 L324.4 165.5 L324.5 165.1 L324.5 164.7 L324.6 164.4 L324.6 164.0 L324.7 163.6 L324.7 163.2 L324.8 162.9 L324.8 162.5 L324.9 162.1 L324.9 161.7 L325.0 161.4 L325.1 161.0 L325.1 160.6 L325.2 160.2 L325.2 159.9 L325.3 159.5 L325.3 159.1 L325.4 158.7 L325.5 158.4 L325.5 158.0 L325.6 157.6 L325.6 157.3 L325.7 156.9 L325.8 156.5 L325.8 156.1 L325.9 155.8 L326.0 155.4 L326.1 155.0 L326.1 154.6 L326.2 154.3 L326.3 153.9 L326.3 153.5 L326.4 153.1 L326.5 152.8 L326.6 152.4 L326.6 152.0 L326.7 151.6 L326.8 151.3 L326.9 150.9 L326.9 150.5 L327.0 150.2 L327.1 149.8 L327.2 149.4 L327.3 149.0 L327.3 148.7 L327.4 148.3 L327.5 147.9 L327.6 147.5 L327.7 147.2 L327.7 146.8 L327.8 146.4 L327.9 146.0 L328.0 145.7 L328.1 145.3 L328.2 144.9 L328.2 144.6 L328.3 144.2 L328.4 143.8 L328.5 143.4 L328.6 143.1 L328.7 142.7 L328.8 142.3 L328.9 141.9 L329.0 141.6 L329.1 141.2 L329.2 140.8 L329.3 140.5 L329.4 140.1 L329.5 139.7 L329.6 139.3 L329.7 139.0 L329.8 138.6 L329.9 138.2 L330.0 137.8 L330.1 137.5 L330.2 137.1 L330.3 136.7 L330.4 136.4 L330.5 136.0 L330.6 135.6 L330.8 135.2 L330.9 134.9 L331.0 134.5 L331.1 134.1 L331.2 133.8 L331.4 133.4 L331.5 133.0 L331.6 132.6 L331.8 132.3 L331.9 131.9 L332.0 131.5 L332.2 131.2 L332.3 130.8 L332.5 130.4 L332.6 130.1 L332.8 129.7 L333.0 129.3 L333.1 129.0 L333.3 128.6 L333.5 128.2 L333.7 127.9 L333.9 127.5 L334.1 127.1 L334.3 126.8 L334.6 126.4 L334.8 126.1 L335.1 125.7 L335.4 125.3 L335.8 125.0 L336.2 124.7 L336.6 124.4 L337.1 124.1 L337.7 123.9 L338.4 123.6 L339.1 123.5 L339.9 123.3 L340.6 123.2 L341.4 123.1 L342.2 123.0 L342.9 122.9 L343.8 122.8 L344.6 122.8 L345.4 122.8 L346.2 122.8 L347.0 122.7 L347.8 122.7 L348.6 122.7 L349.4 122.7 L350.2 122.7 L351.0 122.7 L351.8 122.7 L352.6 122.7 L353.4 122.7 L354.2 122.7 L355.0 122.7 L355.8 122.7 L356.6 122.7 L357.4 122.7 L358.2 122.7 L359.1 122.7 L359.9 122.7 L360.7 122.7 L361.5 122.7 L362.3 122.7 L363.1 122.7 L363.9 122.7 L364.7 122.7 L365.5 122.7 L366.3 122.7 L367.1 122.7 L367.9 122.7 L368.7 122.7 L369.5 122.7 L370.3 122.7 L371.1 122.7 L371.9 122.7 L372.7 122.7 L373.6 122.7 L374.4 122.7 L375.2 122.7 L376.0 122.7 L376.8 122.7 L377.6 122.7 L378.4 122.7 L379.2 122.7 L380.0 122.7 L380.8 122.7 L381.6 122.7 L382.4 122.7 L383.2 122.7 L384.0 122.7 L384.8 122.7 L385.6 122.7 L386.4 122.7 L387.2 122.7 L388.0 122.7 L388.9 122.7 L389.7 122.7 L390.5 122.7 L391.3 122.7 L392.1 122.7 L392.9 122.7 L393.7 122.7 L394.5 122.7 L395.3 122.7 L396.1 122.7 L396.9 122.7 L397.7 122.7 L398.5 122.7 L399.3 122.7 L400.1 122.7 L400.9 122.7 L401.7 122.7 L402.5 122.7 L403.4 122.7 L404.2 122.7 L405.0 122.7 L405.8 122.7 L406.6 122.7 L407.4 122.7 L408.2 122.7 L409.0 122.7 L409.8 122.7 L410.6 122.7 L411.4 122.7 L412.2 122.7 L413.0 122.7 L413.8 122.7 L414.6 122.7 L415.4 122.7 L416.2 122.7 L417.0 122.7 L417.8 122.7 L418.7 122.7 L419.5 122.7 L420.3 122.7 L421.1 122.7 L421.9 122.7 L422.7 122.7 L423.5 122.7 L424.3 122.7 L425.1 122.7 L425.9 122.7 L426.7 122.7 L427.5 122.7 L428.3 122.7 L429.1 122.7 L429.9 122.7 L430.7 122.7 L431.5 122.7 L432.3 122.7 L433.2 122.7 L434.0 122.7 L434.8 122.7 L435.6 122.7 L436.4 122.7 L437.2 122.7 L438.0 122.7 L438.8 122.7 L439.6 122.7 L440.4 122.7 L441.2 122.7 L442.0 122.7 L442.8 122.7 L443.6 122.7 L444.4 122.7 L445.2 122.7 L446.0 122.7 L446.8 122.7 L447.6 122.7 L448.5 122.7 L449.3 122.7 L450.1 122.7 L450.9 122.7 L451.7 122.7 L452.5 122.7 L453.3 122.7 L454.1 122.7 L454.9 122.7 L455.7 122.7 L456.5 122.7 L457.3 122.7 L458.1 122.7 L458.9 122.7 L459.7 122.7 L460.5 122.7 L461.3 122.7 L462.1 122.7 L463.0 122.7 L463.8 122.7 L464.6 122.7 L465.4 122.7 L466.2 122.7 L467.0 122.7 L467.8 122.7 L468.6 122.7 L469.4 122.7 L470.2 122.7 L471.0 122.7 L471.8 122.7 L472.6 122.7 L473.4 122.7 L474.2 122.7 L475.0 122.7 L475.8 122.7 L476.6 122.7 L477.4 122.7 L478.3 122.7 L479.1 122.7 L479.9 122.7 L480.7 122.7 L481.5 122.7 L482.3 122.7 L483.1 122.7 L483.9 122.7 L484.7 122.7 L485.5 122.7 L486.3 122.7 L487.1 122.7 L487.9 122.7 L488.7 122.7 L489.5 122.7 L490.3 122.7 L491.1 122.7 L491.9 122.7 L492.8 122.7 L493.6 122.7 L494.4 122.7 L495.2 122.7 L496.0 122.7 L496.8 122.7 L497.6 122.7 L498.4 122.7 L499.2 122.7 L500.0 122.7 L500.8 122.7 L501.6 122.7 L502.4 122.7 L503.2 122.7 L504.0 122.7 L504.8 122.7 L505.6 122.7 L506.4 122.7 L507.3 122.7 L508.1 122.7 L508.9 122.7 L509.7 122.7 L510.5 122.7 L511.3 122.7 L512.1 122.7 L512.9 122.7 L513.7 122.7 L514.5 122.7 L515.3 122.7 L516.1 122.7 L516.9 122.7 L517.7 122.7 L518.5 122.7 L519.3 122.7 L520.1 122.7 L520.9 122.7 L521.7 122.7 L522.6 122.7 L523.4 122.7 L524.2 122.7 L525.0 122.7 L525.8 122.7 L526.6 122.7 L527.4 122.7 L528.2 122.7 L529.0 122.7 L529.8 122.7 L530.6 122.7 L531.4 122.7 L532.2 122.7 L533.0 122.7 L533.8 122.7 L534.6 122.7 L535.4 122.7 L536.2 122.7 L537.1 122.7 L537.9 122.7 L538.7 122.7 L539.5 122.7 L540.3 122.7 L541.1 122.7 L541.9 122.7 L542.7 122.7 L543.5 122.7 L544.3 122.7 L544.3 150.4 L543.5 150.4 L542.7 150.4 L541.9 150.4 L541.1 150.4 L540.3 150.4 L539.5 150.4 L538.7 150.4 L537.9 150.4 L537.1 150.4 L536.2 150.4 L535.4 150.4 L534.6 150.4 L533.8 150.4 L533.0 150.4 L532.2 150.4 L531.4 150.4 L530.6 150.4 L529.8 150.4 L529.0 150.4 L528.2 150.4 L527.4 150.4 L526.6 150.4 L525.8 150.4 L525.0 150.4 L524.2 150.4 L523.4 150.4 L522.6 150.4 L521.7 150.4 L520.9 150.4 L520.1 150.4 L519.3 150.4 L518.5 150.4 L517.7 150.4 L516.9 150.4 L516.1 150.4 L515.3 150.4 L514.5 150.4 L513.7 150.4 L512.9 150.4 L512.1 150.4 L511.3 150.4 L510.5 150.4 L509.7 150.4 L508.9 150.4 L508.1 150.4 L507.3 150.4 L506.4 150.4 L505.6 150.4 L504.8 150.4 L504.0 150.4 L503.2 150.4 L502.4 150.4 L501.6 150.4 L500.8 150.4 L500.0 150.4 L499.2 150.4 L498.4 150.4 L497.6 150.4 L496.8 150.4 L496.0 150.4 L495.2 150.4 L494.4 150.4 L493.6 150.4 L492.8 150.4 L491.9 150.4 L491.1 150.4 L490.3 150.4 L489.5 150.4 L488.7 150.4 L487.9 150.4 L487.1 150.4 L486.3 150.4 L485.5 150.4 L484.7 150.4 L483.9 150.4 L483.1 150.4 L482.3 150.4 L481.5 150.4 L480.7 150.4 L479.9 150.4 L479.1 150.4 L478.3 150.4 L477.4 150.4 L476.6 150.4 L475.8 150.4 L475.0 150.4 L474.2 150.4 L473.4 150.4 L472.6 150.4 L471.8 150.4 L471.0 150.4 L470.2 150.4 L469.4 150.4 L468.6 150.4 L467.8 150.4 L467.0 150.4 L466.2 150.4 L465.4 150.4 L464.6 150.4 L463.8 150.4 L463.0 150.4 L462.1 150.4 L461.3 150.4 L460.5 150.4 L459.7 150.4 L458.9 150.4 L458.1 150.4 L457.3 150.4 L456.5 150.4 L455.7 150.4 L454.9 150.4 L454.1 150.4 L453.3 150.4 L452.5 150.4 L451.7 150.4 L450.9 150.4 L450.1 150.4 L449.3 150.4 L448.5 150.4 L447.6 150.4 L446.8 150.4 L446.0 150.4 L445.2 150.4 L444.4 150.4 L443.6 150.4 L442.8 150.4 L442.0 150.4 L441.2 150.4 L440.4 150.4 L439.6 150.4 L438.8 150.4 L438.0 150.4 L437.2 150.4 L436.4 150.4 L435.6 150.4 L434.8 150.4 L434.0 150.4 L433.2 150.4 L432.3 150.4 L431.5 150.4 L430.7 150.4 L429.9 150.4 L429.1 150.4 L428.3 150.4 L427.5 150.4 L426.7 150.4 L425.9 150.4 L425.1 150.4 L424.3 150.4 L423.5 150.4 L422.7 150.4 L421.9 150.4 L421.1 150.4 L420.3 150.4 L419.5 150.4 L418.7 150.4 L417.8 150.4 L417.0 150.4 L416.2 150.4 L415.4 150.4 L414.6 150.4 L413.8 150.4 L413.0 150.4 L412.2 150.4 L411.4 150.4 L410.6 150.4 L409.8 150.4 L409.0 150.4 L408.2 150.4 L407.4 150.4 L406.6 150.4 L405.8 150.4 L405.0 150.4 L404.2 150.4 L403.4 150.4 L402.5 150.4 L401.7 150.4 L400.9 150.4 L400.1 150.4 L399.3 150.4 L398.5 150.4 L397.7 150.4 L396.9 150.4 L396.1 150.4 L395.3 150.4 L394.5 150.4 L393.7 150.4 L392.9 150.4 L392.1 150.4 L391.3 150.4 L390.5 150.4 L389.7 150.4 L388.9 150.4 L388.0 150.4 L387.2 150.4 L386.4 150.4 L385.6 150.4 L384.8 150.4 L384.0 150.4 L383.2 150.4 L382.4 150.4 L381.6 150.4 L380.8 150.4 L380.0 150.4 L379.2 150.4 L378.4 150.4 L377.6 150.4 L376.8 150.4 L376.0 150.4 L375.2 150.4 L374.4 150.4 L373.6 150.4 L372.7 150.4 L371.9 150.4 L371.1 150.4 L370.3 150.4 L369.5 150.4 L368.7 150.4 L367.9 150.4 L367.1 150.4 L366.3 150.4 L365.5 150.4 L364.7 150.4 L363.9 150.4 L363.1 150.4 L362.3 150.4 L361.5 150.4 L360.7 150.4 L359.9 150.4 L359.1 150.4 L358.2 150.4 L357.4 150.4 L356.6 150.4 L355.8 150.4 L355.0 150.4 L354.2 150.4 L353.4 150.4 L352.6 150.4 L351.8 150.4 L351.0 150.4 L350.2 150.4 L349.4 150.4 L348.6 150.4 L347.8 150.4 L347.0 150.4 L346.2 150.4 L345.4 150.4 L344.6 150.4 L343.8 150.5 L342.9 150.5 L342.2 150.6 L341.4 150.6 L340.6 150.7 L339.9 150.8 L339.1 150.9 L338.4 151.0 L337.7 151.2 L337.1 151.4 L336.6 151.5 L336.2 151.7 L335.8 152.0 L335.4 152.2 L335.1 152.5 L334.8 152.7 L334.6 153.0 L334.3 153.2 L334.1 153.5 L333.9 153.7 L333.7 154.0 L333.5 154.2 L333.3 154.5 L333.1 154.7 L333.0 155.0 L332.8 155.2 L332.6 155.5 L332.5 155.8 L332.3 156.0 L332.2 156.3 L332.0 156.5 L331.9 156.8 L331.8 157.0 L331.6 157.3 L331.5 157.6 L331.4 157.8 L331.2 158.1 L331.1 158.3 L331.0 158.6 L330.9 158.8 L330.8 159.1 L330.6 159.4 L330.5 159.6 L330.4 159.9 L330.3 160.1 L330.2 160.4 L330.1 160.6 L330.0 160.9 L329.9 161.2 L329.8 161.4 L329.7 161.7 L329.6 161.9 L329.5 162.2 L329.4 162.5 L329.3 162.7 L329.2 163.0 L329.1 163.2 L329.0 163.5 L328.9 163.8 L328.8 164.0 L328.7 164.3 L328.6 164.5 L328.5 164.8 L328.4 165.0 L328.3 165.3 L328.2 165.6 L328.2 165.8 L328.1 166.1 L328.0 166.3 L327.9 166.6 L327.8 166.9 L327.7 167.1 L327.7 167.4 L327.6 167.6 L327.5 167.9 L327.4 168.2 L327.3 168.4 L327.3 168.7 L327.2 168.9 L327.1 169.2 L327.0 169.5 L326.9 169.7 L326.9 170.0 L326.8 170.2 L326.7 170.5 L326.6 170.8 L326.6 171.0 L326.5 171.3 L326.4 171.5 L326.3 171.8 L326.3 172.1 L326.2 172.3 L326.1 172.6 L326.1 172.8 L326.0 173.1 L325.9 173.3 L325.8 173.6 L325.8 173.9 L325.7 174.1 L325.6 174.4 L325.6 174.6 L325.5 174.9 L325.5 175.2 L325.4 175.4 L325.3 175.7 L325.3 175.9 L325.2 176.2 L325.2 176.5 L325.1 176.7 L325.1 177.0 L325.0 177.2 L324.9 177.5 L324.9 177.8 L324.8 178.0 L324.8 178.3 L324.7 178.5 L324.7 178.8 L324.6 179.1 L324.6 179.3 L324.5 179.6 L324.5 179.8 L324.4 180.1 L324.4 180.4 L324.3 180.6 L324.2 180.9 L324.2 181.1 L324.1 181.4 L324.1 181.7 L324.0 181.9 L323.9 182.2 L323.9 182.4 L323.8 182.7 L323.7 183.0 L323.6 183.2 L323.6 183.5 L323.5 183.7 L323.4 184.0 L323.3 184.3 L323.2 184.5 L323.2 184.8 L323.1 185.0 L323.0 185.3 L322.9 185.6 L322.8 185.8 L322.7 186.1 L322.7 186.3 L322.6 186.6 L322.5 186.9 L322.4 187.1 L322.4 187.4 L322.3 187.6 L322.2 187.9 L322.1 188.2 L322.1 188.4 L322.0 188.7 L321.9 188.9 L321.9 189.2 L321.8 189.5 L321.7 189.7 L321.7 190.0 L321.6 190.2 L321.6 190.5 L321.5 190.8 L321.4 191.0 L321.4 191.3 L321.3 191.5 L321.3 191.8 L321.2 192.1 L321.1 192.3 L321.1 192.6 L321.0 192.8 L320.9 193.1 L320.9 193.4 L320.8 193.6 L320.7 193.9 L320.7 194.1 L320.6 194.4 L320.5 194.7 L320.4 194.9 L320.4 195.2 L320.3 195.4 L320.2 195.7 L320.2 196.0 L320.1 196.2 L320.0 196.5 L319.9 196.7 L319.8 197.0 L319.8 197.2 L319.7 197.5 L319.6 197.8 L319.5 198.0 L319.4 198.3 L319.3 198.5 L319.2 198.8 L319.2 199.1 L319.1 199.3 L319.0 199.6 L318.9 199.8 L318.8 200.1 L318.7 200.4 L318.6 200.6 L318.5 200.9 L318.3 201.1 L318.2 201.4 L318.1 201.6 L318.0 201.9 L317.9 202.2 L317.7 202.4 L317.6 202.7 L317.5 202.9 L317.3 203.2 L317.2 203.4 L317.0 203.7 L316.9 204.0 L316.7 204.2 L316.6 204.5 L316.5 204.7 L316.3 205.0 L316.2 205.2 L316.0 205.5 L315.8 205.8 L315.7 206.0 L315.5 206.3 L315.4 206.5 L315.2 206.8 L315.1 207.0 L314.9 207.3 L314.8 207.5 L314.6 207.8 L314.4 208.1 L314.3 208.3 L314.1 208.6 L313.9 208.8 L313.8 209.1 L313.6 209.3 L313.4 209.6 L313.2 209.8 L313.0 210.1 L312.9 210.3 L312.7 210.6 L312.5 210.9 L312.3 211.1 L312.1 211.4 L312.0 211.6 L311.8 211.9 L311.6 212.1 L311.5 212.4 L311.3 212.6 L311.1 212.9 L311.0 213.1 L310.8 213.4Z" fill="#808080" fill-opacity="0.4" stroke="#707070" stroke-opacity="0.3" stroke-width="0.5"/>
<path d="M338.0 213.4 L338.7 213.4 L339.4 213.4 L340.1 213.4 L340.8 213.4 L341.5 213.4 L342.2 213.4 L342.9 213.4 L343.6 213.4 L344.3 213.4 L345.0 213.4 L345.7 213.4 L346.4 213.3 L347.0 213.3 L347.7 213.3 L348.4 213.3 L349.0 213.2 L349.7 213.2 L350.4 213.2 L351.0 213.1 L351.7 213.1 L352.3 213.0 L352.9 213.0 L353.5 212.9 L354.2 212.8 L354.8 212.8 L355.3 212.7 L355.9 212.7 L356.5 212.6 L357.1 212.5 L357.6 212.5 L358.2 212.4 L358.7 212.3 L359.1 212.2 L359.5 212.1 L359.9 212.0 L360.3 212.0 L360.6 211.9 L361.0 211.8 L361.3 211.7 L361.6 211.6 L361.9 211.5 L362.1 211.3 L362.4 211.2 L362.7 211.1 L363.0 211.0 L363.3 210.9 L363.5 210.8 L363.8 210.7 L364.1 210.6 L364.4 210.5 L364.6 210.4 L364.9 210.3 L365.2 210.2 L365.4 210.1 L365.7 210.0 L365.9 209.9 L366.2 209.8 L366.4 209.7 L366.7 209.6 L366.9 209.4 L367.1 209.3 L367.4 209.2 L367.6 209.1 L367.8 209.0 L368.1 208.9 L368.3 208.8 L368.5 208.7 L368.7 208.6 L368.9 208.5 L369.1 208.4 L369.3 208.3 L369.5 208.2 L369.7 208.1 L369.8 207.9 L370.0 207.8 L370.2 207.7 L370.3 207.6 L370.5 207.5 L370.6 207.4 L370.8 207.3 L370.9 207.2 L371.0 207.1 L371.2 207.0 L371.3 206.8 L371.4 206.7 L371.6 206.6 L371.7 206.5 L371.8 206.4 L372.0 206.3 L372.1 206.2 L372.2 206.1 L372.4 206.0 L372.5 205.8 L372.6 205.7 L372.8 205.6 L372.9 205.5 L373.0 205.4 L373.2 205.3 L373.3 205.2 L373.5 205.1 L373.6 205.0 L373.8 204.8 L373.9 204.7 L374.1 204.6 L374.2 204.5 L374.4 204.4 L374.6 204.3 L374.7 204.2 L374.9 204.1 L375.0 204.0 L375.2 203.9 L375.4 203.7 L375.5 203.6 L375.7 203.5 L375.8 203.4 L376.0 203.3 L376.2 203.2 L376.3 203.1 L376.5 203.0 L376.7 202.9 L376.8 202.8 L377.0 202.6 L377.1 202.5 L377.3 202.4 L377.5 202.3 L377.6 202.2 L377.8 202.1 L378.0 202.0 L378.1 201.9 L378.3 201.8 L378.4 201.7 L378.6 201.5 L378.8 201.4 L378.9 201.3 L379.1 201.2 L379.2 201.1 L379.4 201.0 L379.5 200.9 L379.7 200.8 L379.8 200.7 L380.0 200.6 L380.1 200.4 L380.2 200.3 L380.4 200.2 L380.5 200.1 L380.7 200.0 L380.8 199.9 L380.9 199.8 L381.1 199.7 L381.2 199.6 L381.3 199.4 L381.4 199.3 L381.5 199.2 L381.6 199.1 L381.8 199.0 L381.9 198.9 L382.0 198.8 L382.1 198.7 L382.2 198.6 L382.3 198.4 L382.4 198.3 L382.5 198.2 L382.6 198.1 L382.7 198.0 L382.8 197.9 L382.9 197.8 L383.0 197.7 L383.1 197.5 L383.3 197.4 L383.4 197.3 L383.5 197.2 L383.6 197.1 L383.8 197.0 L383.9 196.9 L384.0 196.8 L384.1 196.7 L384.3 196.5 L384.4 196.4 L384.5 196.3 L384.7 196.2 L384.8 196.1 L384.9 196.0 L385.1 195.9 L385.2 195.8 L385.4 195.7 L385.5 195.6 L385.6 195.4 L385.8 195.3 L385.9 195.2 L386.0 195.1 L386.2 195.0 L386.3 194.9 L386.5 194.8 L386.6 194.7 L386.7 194.6 L386.9 194.4 L387.0 194.3 L387.2 194.2 L387.3 194.1 L387.4 194.0 L387.6 193.9 L387.7 193.8 L387.9 193.7 L388.0 193.6 L388.1 193.4 L388.3 193.3 L388.4 193.2 L388.5 193.1 L388.7 193.0 L388.8 192.9 L389.0 192.8 L389.1 192.7 L389.2 192.6 L389.4 192.4 L389.5 192.3 L389.6 192.2 L389.8 192.1 L389.9 192.0 L390.0 191.9 L390.2 191.8 L390.3 191.7 L390.4 191.6 L390.6 191.5 L390.7 191.3 L390.9 191.2 L391.0 191.1 L391.1 191.0 L391.3 190.9 L391.4 190.8 L391.6 190.7 L391.7 190.6 L391.9 190.5 L392.0 190.3 L392.2 190.2 L392.3 190.1 L392.5 190.0 L392.6 189.9 L392.8 189.8 L392.9 189.7 L393.1 189.6 L393.2 189.5 L393.4 189.4 L393.5 189.2 L393.7 189.1 L393.9 189.0 L394.0 188.9 L394.2 188.8 L394.4 188.7 L394.5 188.6 L394.7 188.5 L394.9 188.4 L395.1 188.3 L395.3 188.2 L395.4 188.0 L395.6 187.9 L395.8 187.8 L396.0 187.7 L396.2 187.6 L396.4 187.5 L396.6 187.4 L396.8 187.3 L397.0 187.2 L397.3 187.1 L397.5 187.0 L397.7 186.9 L398.0 186.7 L398.2 186.6 L398.4 186.5 L398.7 186.4 L399.0 186.3 L399.2 186.2 L399.5 186.1 L399.8 186.0 L400.2 185.9 L400.5 185.8 L400.8 185.7 L401.1 185.6 L401.5 185.5 L401.8 185.4 L402.1 185.3 L402.4 185.2 L402.8 185.1 L403.1 185.0 L403.4 184.9 L403.7 184.8 L404.0 184.7 L404.3 184.6 L404.6 184.5 L404.9 184.4 L405.2 184.3 L405.5 184.2 L405.8 184.1 L406.1 184.0 L406.4 183.9 L406.8 183.8 L407.1 183.7 L407.5 183.6 L407.8 183.5 L408.2 183.4 L408.6 183.3 L409.0 183.2 L409.5 183.1 L409.9 183.1 L410.3 183.0 L410.8 182.9 L411.3 182.8 L411.8 182.7 L412.3 182.6 L412.8 182.6 L413.3 182.5 L413.8 182.4 L414.3 182.3 L414.9 182.2 L415.4 182.2 L416.0 182.1 L416.6 182.1 L417.3 182.0 L417.9 182.0 L418.6 182.0 L419.3 182.0 L420.0 181.9 L420.7 181.9 L421.4 181.9 L422.1 181.9 L422.8 181.9 L423.5 181.9 L424.2 181.9 L424.9 181.9 L425.6 181.9 L426.3 181.9 L427.0 181.9 L427.7 181.9 L428.4 181.9 L429.1 181.9 L429.8 181.9 L430.5 181.9 L431.2 181.9 L431.9 181.9 L432.6 181.9 L433.3 181.9 L434.0 181.9 L434.7 181.9 L435.4 181.9 L436.1 181.9 L436.8 181.9 L437.5 181.9 L438.2 181.9 L438.9 181.9 L439.6 181.9 L440.3 181.9 L441.0 181.9 L441.7 181.9 L442.4 181.9 L443.1 181.9 L443.8 181.9 L444.5 181.9 L445.2 181.9 L445.9 181.9 L446.6 181.9 L447.3 181.9 L448.0 181.9 L448.7 181.9 L449.4 181.9 L450.1 181.9 L450.8 181.9 L451.4 181.9 L452.1 181.9 L452.8 181.9 L453.5 181.9 L454.2 181.9 L454.9 181.9 L455.6 181.9 L456.3 181.9 L457.0 181.9 L457.7 181.9 L458.4 181.9 L459.1 181.9 L459.8 181.9 L460.5 181.9 L461.2 181.9 L461.9 181.9 L462.6 181.9 L463.3 181.9 L464.0 181.9 L464.7 181.9 L465.4 181.9 L466.1 181.9 L466.8 181.9 L467.5 181.9 L468.2 181.9 L468.9 181.9 L469.6 181.9 L470.3 181.9 L471.0 181.9 L471.7 181.9 L472.4 181.9 L473.1 181.9 L473.8 181.9 L474.5 181.9 L475.2 181.9 L475.9 181.9 L476.6 181.9 L477.3 181.9 L478.0 181.9 L478.7 181.9 L479.4 181.9 L480.1 181.9 L480.8 181.9 L481.5 181.9 L482.2 181.9 L482.9 181.9 L483.6 181.9 L484.3 181.9 L485.0 181.9 L485.7 181.9 L486.4 181.9 L487.1 181.9 L487.8 181.9 L488.5 181.9 L489.1 181.9 L489.8 181.9 L490.5 181.9 L491.2 181.9 L491.9 181.9 L492.6 181.9 L493.3 181.9 L494.0 181.9 L494.7 181.9 L495.4 181.9 L496.1 181.9 L496.8 181.9 L497.5 181.9 L498.2 181.9 L498.9 181.9 L499.6 181.9 L500.3 181.9 L501.0 181.9 L501.7 181.9 L502.4 181.9 L503.1 181.9 L503.8 181.9 L504.5 181.9 L505.2 181.9 L505.9 181.9 L506.6 181.9 L507.3 181.9 L508.0 181.9 L508.7 181.9 L509.4 181.9 L510.1 181.9 L510.8 181.9 L511.5 181.9 L512.2 181.9 L512.9 181.9 L513.6 181.9 L514.3 181.9 L515.0 181.9 L515.7 181.9 L516.4 181.9 L517.1 181.9 L517.8 181.9 L518.5 181.9 L519.2 181.9 L519.9 181.9 L520.6 181.9 L521.3 181.9 L522.0 181.9 L522.7 181.9 L523.4 181.9 L524.1 181.9 L524.8 181.9 L525.5 181.9 L526.1 181.9 L526.8 181.9 L527.5 181.9 L528.2 181.9 L528.9 181.9 L529.6 181.9 L530.3 181.9 L531.0 181.9 L531.7 181.9 L532.4 181.9 L533.1 181.9 L533.8 181.9 L534.5 181.9 L535.2 181.9 L535.9 181.9 L536.6 181.9 L537.3 181.9 L538.0 181.9 L538.7 181.9 L539.4 181.9 L540.1 181.9 L540.8 181.9 L541.5 181.9 L542.2 181.9 L542.9 181.9 L543.6 181.9 L544.3 181.9 L544.3 195.6 L543.6 195.6 L542.9 195.6 L542.2 195.6 L541.5 195.6 L540.8 195.6 L540.1 195.6 L539.4 195.6 L538.7 195.6 L538.0 195.6 L537.3 195.6 L536.6 195.6 L535.9 195.6 L535.2 195.6 L534.5 195.6 L533.8 195.6 L533.1 195.6 L532.4 195.6 L531.7 195.6 L531.0 195.6 L530.3 195.6 L529.6 195.6 L528.9 195.6 L528.2 195.6 L527.5 195.6 L526.8 195.6 L526.1 195.6 L525.5 195.6 L524.8 195.6 L524.1 195.6 L523.4 195.6 L522.7 195.6 L522.0 195.6 L521.3 195.6 L520.6 195.6 L519.9 195.6 L519.2 195.6 L518.5 195.6 L517.8 195.6 L517.1 195.6 L516.4 195.6 L515.7 195.6 L515.0 195.6 L514.3 195.6 L513.6 195.6 L512.9 195.6 L512.2 195.6 L511.5 195.6 L510.8 195.6 L510.1 195.6 L509.4 195.6 L508.7 195.6 L508.0 195.6 L507.3 195.6 L506.6 195.6 L505.9 195.6 L505.2 195.6 L504.5 195.6 L503.8 195.6 L503.1 195.6 L502.4 195.6 L501.7 195.6 L501.0 195.6 L500.3 195.6 L499.6 195.6 L498.9 195.6 L498.2 195.6 L497.5 195.6 L496.8 195.6 L496.1 195.6 L495.4 195.6 L494.7 195.6 L494.0 195.6 L493.3 195.6 L492.6 195.6 L491.9 195.6 L491.2 195.6 L490.5 195.6 L489.8 195.6 L489.1 195.6 L488.5 195.6 L487.8 195.6 L487.1 195.6 L486.4 195.6 L485.7 195.6 L485.0 195.6 L484.3 195.6 L483.6 195.6 L482.9 195.6 L482.2 195.6 L481.5 195.6 L480.8 195.6 L480.1 195.6 L479.4 195.6 L478.7 195.6 L478.0 195.6 L477.3 195.6 L476.6 195.6 L475.9 195.6 L475.2 195.6 L474.5 195.6 L473.8 195.6 L473.1 195.6 L472.4 195.6 L471.7 195.6 L471.0 195.6 L470.3 195.6 L469.6 195.6 L468.9 195.6 L468.2 195.6 L467.5 195.6 L466.8 195.6 L466.1 195.6 L465.4 195.6 L464.7 195.6 L464.0 195.6 L463.3 195.6 L462.6 195.6 L461.9 195.6 L461.2 195.6 L460.5 195.6 L459.8 195.6 L459.1 195.6 L458.4 195.6 L457.7 195.6 L457.0 195.6 L456.3 195.6 L455.6 195.6 L454.9 195.6 L454.2 195.6 L453.5 195.6 L452.8 195.6 L452.1 195.6 L451.4 195.6 L450.8 195.6 L450.1 195.6 L449.4 195.6 L448.7 195.6 L448.0 195.6 L447.3 195.6 L446.6 195.6 L445.9 195.6 L445.2 195.6 L444.5 195.6 L443.8 195.6 L443.1 195.6 L442.4 195.6 L441.7 195.6 L441.0 195.6 L440.3 195.6 L439.6 195.6 L438.9 195.6 L438.2 195.6 L437.5 195.6 L436.8 195.6 L436.1 195.6 L435.4 195.6 L434.7 195.6 L434.0 195.6 L433.3 195.6 L432.6 195.6 L431.9 195.6 L431.2 195.6 L430.5 195.6 L429.8 195.6 L429.1 195.6 L428.4 195.6 L427.7 195.6 L427.0 195.6 L426.3 195.6 L425.6 195.6 L424.9 195.6 L424.2 195.6 L423.5 195.6 L422.8 195.6 L422.1 195.6 L421.4 195.6 L420.7 195.6 L420.0 195.6 L419.3 195.6 L418.6 195.7 L417.9 195.7 L417.3 195.7 L416.6 195.7 L416.0 195.7 L415.4 195.8 L414.9 195.8 L414.3 195.8 L413.8 195.9 L413.3 195.9 L412.8 196.0 L412.3 196.0 L411.8 196.1 L411.3 196.1 L410.8 196.2 L410.3 196.2 L409.9 196.3 L409.5 196.3 L409.0 196.4 L408.6 196.4 L408.2 196.5 L407.8 196.5 L407.5 196.6 L407.1 196.6 L406.8 196.7 L406.4 196.7 L406.1 196.8 L405.8 196.8 L405.5 196.9 L405.2 197.0 L404.9 197.0 L404.6 197.1 L404.3 197.1 L404.0 197.2 L403.7 197.2 L403.4 197.3 L403.1 197.4 L402.8 197.4 L402.4 197.5 L402.1 197.5 L401.8 197.6 L401.5 197.6 L401.1 197.7 L400.8 197.8 L400.5 197.8 L400.2 197.9 L399.8 197.9 L399.5 198.0 L399.2 198.0 L399.0 198.1 L398.7 198.2 L398.4 198.2 L398.2 198.3 L398.0 198.3 L397.7 198.4 L397.5 198.5 L397.3 198.5 L397.0 198.6 L396.8 198.6 L396.6 198.7 L396.4 198.8 L396.2 198.8 L396.0 198.9 L395.8 198.9 L395.6 199.0 L395.4 199.1 L395.3 199.1 L395.1 199.2 L394.9 199.3 L394.7 199.3 L394.5 199.4 L394.4 199.4 L394.2 199.5 L394.0 199.6 L393.9 199.6 L393.7 199.7 L393.5 199.8 L393.4 199.8 L393.2 199.9 L393.1 199.9 L392.9 200.0 L392.8 200.1 L392.6 200.1 L392.5 200.2 L392.3 200.2 L392.2 200.3 L392.0 200.4 L391.9 200.4 L391.7 200.5 L391.6 200.6 L391.4 200.6 L391.3 200.7 L391.1 200.7 L391.0 200.8 L390.9 200.9 L390.7 200.9 L390.6 201.0 L390.4 201.1 L390.3 201.1 L390.2 201.2 L390.0 201.2 L389.9 201.3 L389.8 201.4 L389.6 201.4 L389.5 201.5 L389.4 201.6 L389.2 201.6 L389.1 201.7 L389.0 201.8 L388.8 201.8 L388.7 201.9 L388.5 201.9 L388.4 202.0 L388.3 202.1 L388.1 202.1 L388.0 202.2 L387.9 202.3 L387.7 202.3 L387.6 202.4 L387.4 202.4 L387.3 202.5 L387.2 202.6 L387.0 202.6 L386.9 202.7 L386.7 202.8 L386.6 202.8 L386.5 202.9 L386.3 202.9 L386.2 203.0 L386.0 203.1 L385.9 203.1 L385.8 203.2 L385.6 203.3 L385.5 203.3 L385.4 203.4 L385.2 203.4 L385.1 203.5 L384.9 203.6 L384.8 203.6 L384.7 203.7 L384.5 203.8 L384.4 203.8 L384.3 203.9 L384.1 203.9 L384.0 204.0 L383.9 204.1 L383.8 204.1 L383.6 204.2 L383.5 204.3 L383.4 204.3 L383.3 204.4 L383.1 204.4 L383.0 204.5 L382.9 204.6 L382.8 204.6 L382.7 204.7 L382.6 204.8 L382.5 204.8 L382.4 204.9 L382.3 204.9 L382.2 205.0 L382.1 205.1 L382.0 205.1 L381.9 205.2 L381.8 205.3 L381.6 205.3 L381.5 205.4 L381.4 205.5 L381.3 205.5 L381.2 205.6 L381.1 205.6 L380.9 205.7 L380.8 205.8 L380.7 205.8 L380.5 205.9 L380.4 206.0 L380.2 206.0 L380.1 206.1 L380.0 206.1 L379.8 206.2 L379.7 206.3 L379.5 206.3 L379.4 206.4 L379.2 206.5 L379.1 206.5 L378.9 206.6 L378.8 206.6 L378.6 206.7 L378.4 206.8 L378.3 206.8 L378.1 206.9 L378.0 207.0 L377.8 207.0 L377.6 207.1 L377.5 207.1 L377.3 207.2 L377.1 207.3 L377.0 207.3 L376.8 207.4 L376.7 207.4 L376.5 207.5 L376.3 207.6 L376.2 207.6 L376.0 207.7 L375.8 207.8 L375.7 207.8 L375.5 207.9 L375.4 207.9 L375.2 208.0 L375.0 208.1 L374.9 208.1 L374.7 208.2 L374.6 208.3 L374.4 208.3 L374.2 208.4 L374.1 208.4 L373.9 208.5 L373.8 208.6 L373.6 208.6 L373.5 208.7 L373.3 208.8 L373.2 208.8 L373.0 208.9 L372.9 208.9 L372.8 209.0 L372.6 209.1 L372.5 209.1 L372.4 209.2 L372.2 209.3 L372.1 209.3 L372.0 209.4 L371.8 209.4 L371.7 209.5 L371.6 209.6 L371.4 209.6 L371.3 209.7 L371.2 209.8 L371.0 209.8 L370.9 209.9 L370.8 209.9 L370.6 210.0 L370.5 210.1 L370.3 210.1 L370.2 210.2 L370.0 210.3 L369.8 210.3 L369.7 210.4 L369.5 210.4 L369.3 210.5 L369.1 210.6 L368.9 210.6 L368.7 210.7 L368.5 210.7 L368.3 210.8 L368.1 210.9 L367.8 210.9 L367.6 211.0 L367.4 211.0 L367.1 211.1 L366.9 211.2 L366.7 211.2 L366.4 211.3 L366.2 211.3 L365.9 211.4 L365.7 211.5 L365.4 211.5 L365.2 211.6 L364.9 211.6 L364.6 211.7 L364.4 211.8 L364.1 211.8 L363.8 211.9 L363.5 211.9 L363.3 212.0 L363.0 212.1 L362.7 212.1 L362.4 212.2 L362.1 212.2 L361.9 212.3 L361.6 212.4 L361.3 212.4 L361.0 212.5 L360.6 212.5 L360.3 212.6 L359.9 212.6 L359.5 212.7 L359.1 212.7 L358.7 212.8 L358.2 212.8 L357.6 212.9 L357.1 212.9 L356.5 212.9 L355.9 213.0 L355.3 213.0 L354.8 213.1 L354.2 213.1 L353.5 213.1 L352.9 213.1 L352.3 213.2 L351.7 213.2 L351.0 213.2 L350.4 213.3 L349.7 213.3 L349.0 213.3 L348.4 213.3 L347.7 213.3 L347.0 213.4 L346.4 213.4 L345.7 213.4 L345.0 213.4 L344.3 213.4 L343.6 213.4 L342.9 213.4 L342.2 213.4 L341.5 213.4 L340.8 213.4 L340.1 213.4 L339.4 213.4 L338.7 213.4 L338.0 213.4Z" fill="#808080" fill-opacity="0.4" stroke="#707070" stroke-opacity="0.3" stroke-width="0.5"/>
<path d="M352.8 213.4 L353.4 213.4 L354.1 213.4 L354.8 213.4 L355.4 213.4 L356.1 213.4 L356.8 213.4 L357.4 213.4 L358.1 213.4 L358.8 213.4 L359.5 213.4 L360.1 213.4 L360.8 213.4 L361.5 213.4 L362.1 213.4 L362.7 213.4 L363.4 213.3 L364.0 213.3 L364.6 213.3 L365.2 213.3 L365.8 213.3 L366.4 213.2 L366.9 213.2 L367.5 213.2 L368.1 213.1 L368.7 213.1 L369.2 213.1 L369.8 213.1 L370.4 213.0 L371.0 213.0 L371.6 213.0 L372.2 212.9 L372.7 212.9 L373.2 212.9 L373.6 212.8 L374.0 212.8 L374.4 212.8 L374.8 212.7 L375.1 212.7 L375.4 212.6 L375.7 212.6 L376.0 212.5 L376.3 212.5 L376.6 212.4 L376.9 212.4 L377.1 212.3 L377.4 212.3 L377.6 212.2 L377.9 212.2 L378.1 212.1 L378.3 212.1 L378.6 212.0 L378.8 212.0 L379.1 211.9 L379.3 211.9 L379.6 211.8 L379.9 211.8 L380.1 211.7 L380.4 211.7 L380.7 211.6 L381.0 211.6 L381.2 211.5 L381.5 211.5 L381.8 211.4 L382.1 211.4 L382.3 211.4 L382.6 211.3 L382.9 211.3 L383.2 211.2 L383.5 211.2 L383.7 211.1 L384.0 211.1 L384.3 211.0 L384.5 211.0 L384.7 210.9 L384.9 210.9 L385.1 210.8 L385.3 210.8 L385.5 210.7 L385.6 210.7 L385.8 210.6 L386.0 210.6 L386.1 210.5 L386.3 210.5 L386.4 210.4 L386.5 210.4 L386.7 210.3 L386.8 210.2 L386.9 210.2 L387.1 210.1 L387.2 210.1 L387.3 210.0 L387.4 210.0 L387.6 209.9 L387.7 209.9 L387.8 209.8 L387.9 209.8 L388.0 209.7 L388.2 209.7 L388.3 209.6 L388.4 209.6 L388.5 209.5 L388.6 209.5 L388.8 209.4 L388.9 209.4 L389.0 209.3 L389.2 209.3 L389.3 209.2 L389.5 209.2 L389.6 209.1 L389.7 209.0 L389.9 209.0 L390.0 208.9 L390.1 208.9 L390.3 208.8 L390.4 208.8 L390.6 208.7 L390.7 208.7 L390.8 208.6 L391.0 208.6 L391.1 208.5 L391.2 208.5 L391.4 208.4 L391.5 208.4 L391.7 208.3 L391.8 208.3 L391.9 208.2 L392.1 208.2 L392.2 208.1 L392.4 208.1 L392.5 208.0 L392.6 208.0 L392.8 207.9 L392.9 207.9 L393.0 207.8 L393.2 207.7 L393.3 207.7 L393.4 207.6 L393.6 207.6 L393.7 207.5 L393.9 207.5 L394.0 207.4 L394.1 207.4 L394.3 207.3 L394.4 207.3 L394.5 207.2 L394.6 207.2 L394.8 207.1 L394.9 207.1 L395.0 207.0 L395.2 207.0 L395.3 206.9 L395.4 206.9 L395.5 206.8 L395.7 206.8 L395.8 206.7 L395.9 206.7 L396.0 206.6 L396.2 206.6 L396.3 206.5 L396.4 206.4 L396.5 206.4 L396.6 206.3 L396.7 206.3 L396.9 206.2 L397.0 206.2 L397.1 206.1 L397.2 206.1 L397.3 206.0 L397.4 206.0 L397.5 205.9 L397.6 205.9 L397.7 205.8 L397.9 205.8 L398.0 205.7 L398.1 205.7 L398.2 205.6 L398.4 205.6 L398.5 205.5 L398.6 205.5 L398.8 205.4 L398.9 205.4 L399.0 205.3 L399.2 205.2 L399.3 205.2 L399.5 205.1 L399.6 205.1 L399.7 205.0 L399.9 205.0 L400.0 204.9 L400.2 204.9 L400.3 204.8 L400.5 204.8 L400.6 204.7 L400.8 204.7 L400.9 204.6 L401.1 204.6 L401.2 204.5 L401.4 204.5 L401.5 204.4 L401.6 204.4 L401.8 204.3 L401.9 204.3 L402.1 204.2 L402.2 204.2 L402.4 204.1 L402.5 204.1 L402.7 204.0 L402.8 204.0 L402.9 203.9 L403.1 203.8 L403.2 203.8 L403.3 203.7 L403.5 203.7 L403.6 203.6 L403.7 203.6 L403.9 203.5 L404.0 203.5 L404.1 203.4 L404.2 203.4 L404.4 203.3 L404.5 203.3 L404.6 203.2 L404.7 203.2 L404.8 203.1 L405.0 203.1 L405.1 203.0 L405.2 203.0 L405.3 202.9 L405.4 202.9 L405.5 202.8 L405.7 202.8 L405.8 202.7 L405.9 202.6 L406.0 202.6 L406.1 202.5 L406.3 202.5 L406.4 202.4 L406.5 202.4 L406.6 202.3 L406.7 202.3 L406.9 202.2 L407.0 202.2 L407.1 202.1 L407.2 202.1 L407.4 202.0 L407.5 202.0 L407.6 201.9 L407.7 201.9 L407.9 201.8 L408.0 201.8 L408.1 201.7 L408.3 201.7 L408.4 201.6 L408.6 201.6 L408.7 201.5 L408.8 201.4 L409.0 201.4 L409.1 201.3 L409.3 201.3 L409.4 201.2 L409.6 201.2 L409.8 201.1 L409.9 201.1 L410.1 201.0 L410.3 201.0 L410.4 200.9 L410.6 200.9 L410.8 200.8 L411.0 200.8 L411.2 200.7 L411.4 200.7 L411.6 200.6 L411.8 200.6 L412.0 200.5 L412.2 200.5 L412.4 200.4 L412.6 200.4 L412.8 200.3 L413.1 200.3 L413.3 200.2 L413.5 200.2 L413.7 200.1 L413.9 200.1 L414.2 200.0 L414.4 200.0 L414.6 199.9 L414.9 199.9 L415.1 199.8 L415.3 199.8 L415.6 199.7 L415.8 199.7 L416.1 199.6 L416.3 199.6 L416.6 199.5 L416.8 199.5 L417.1 199.4 L417.4 199.4 L417.6 199.3 L417.9 199.3 L418.2 199.2 L418.5 199.2 L418.8 199.1 L419.1 199.1 L419.4 199.0 L419.7 199.0 L420.0 199.0 L420.4 198.9 L420.7 198.9 L421.1 198.8 L421.4 198.8 L421.8 198.7 L422.2 198.7 L422.6 198.6 L423.0 198.6 L423.4 198.6 L423.9 198.5 L424.4 198.5 L424.9 198.5 L425.4 198.4 L426.0 198.4 L426.5 198.4 L427.1 198.3 L427.7 198.3 L428.3 198.3 L428.8 198.2 L429.4 198.2 L430.0 198.2 L430.6 198.2 L431.2 198.2 L431.8 198.1 L432.4 198.1 L433.0 198.1 L433.7 198.1 L434.3 198.0 L434.9 198.0 L435.6 198.0 L436.2 198.0 L436.9 198.0 L437.5 198.0 L438.2 198.0 L438.8 198.0 L439.5 197.9 L440.2 197.9 L440.8 197.9 L441.5 197.9 L442.2 197.9 L442.8 197.9 L443.5 197.9 L444.1 197.9 L444.8 197.9 L445.5 197.9 L446.1 197.9 L446.8 197.9 L447.5 197.9 L448.1 197.9 L448.8 197.9 L449.5 197.9 L450.1 197.9 L450.8 197.9 L451.5 197.9 L452.2 197.9 L452.8 197.9 L453.5 197.9 L454.2 197.9 L454.8 197.9 L455.5 197.9 L456.2 197.9 L456.8 197.9 L457.5 197.9 L458.2 197.9 L458.8 197.9 L459.5 197.9 L460.2 197.9 L460.9 197.9 L461.5 197.9 L462.2 197.9 L462.9 197.9 L463.5 197.9 L464.2 197.9 L464.9 197.9 L465.5 197.9 L466.2 197.9 L466.9 197.9 L467.5 197.9 L468.2 197.9 L468.9 197.9 L469.5 197.9 L470.2 197.9 L470.9 197.9 L471.5 197.9 L472.2 197.9 L472.9 197.9 L473.5 197.9 L474.2 197.9 L474.9 197.9 L475.5 197.9 L476.2 197.9 L476.9 197.9 L477.5 197.9 L478.2 197.9 L478.9 197.9 L479.5 197.9 L480.2 197.9 L480.9 197.9 L481.5 197.9 L482.2 197.9 L482.9 197.9 L483.5 197.9 L484.2 197.9 L484.9 197.9 L485.6 197.9 L486.2 197.9 L486.9 197.9 L487.6 197.9 L488.2 197.9 L488.9 197.9 L489.6 197.9 L490.2 197.9 L490.9 197.9 L491.6 197.9 L492.2 197.9 L492.9 197.9 L493.6 197.9 L494.2 197.9 L494.9 197.9 L495.6 197.9 L496.2 197.9 L496.9 197.9 L497.6 197.9 L498.2 197.9 L498.9 197.9 L499.6 197.9 L500.2 197.9 L500.9 197.9 L501.6 197.9 L502.2 197.9 L502.9 197.9 L503.6 197.9 L504.2 197.9 L504.9 197.9 L505.6 197.9 L506.2 197.9 L506.9 197.9 L507.6 197.9 L508.3 197.9 L508.9 197.9 L509.6 197.9 L510.3 197.9 L510.9 197.9 L511.6 197.9 L512.3 197.9 L512.9 197.9 L513.6 197.9 L514.3 197.9 L514.9 197.9 L515.6 197.9 L516.3 197.9 L516.9 197.9 L517.6 197.9 L518.3 197.9 L518.9 197.9 L519.6 197.9 L520.3 197.9 L520.9 197.9 L521.6 197.9 L522.3 197.9 L522.9 197.9 L523.6 197.9 L524.3 197.9 L524.9 197.9 L525.6 197.9 L526.3 197.9 L526.9 197.9 L527.6 197.9 L528.3 197.9 L528.9 197.9 L529.6 197.9 L530.3 197.9 L530.9 197.9 L531.6 197.9 L532.3 197.9 L533.0 197.9 L533.6 197.9 L534.3 197.9 L535.0 197.9 L535.6 197.9 L536.3 197.9 L537.0 197.9 L537.6 197.9 L538.3 197.9 L539.0 197.9 L539.6 197.9 L540.3 197.9 L541.0 197.9 L541.6 197.9 L542.3 197.9 L543.0 197.9 L543.6 197.9 L544.3 197.9 L544.3 204.9 L543.6 204.9 L543.0 204.9 L542.3 204.9 L541.6 204.9 L541.0 204.9 L540.3 204.9 L539.6 204.9 L539.0 204.9 L538.3 204.9 L537.6 204.9 L537.0 204.9 L536.3 204.9 L535.6 204.9 L535.0 204.9 L534.3 204.9 L533.6 204.9 L533.0 204.9 L532.3 204.9 L531.6 204.9 L530.9 204.9 L530.3 204.9 L529.6 204.9 L528.9 204.9 L528.3 204.9 L527.6 204.9 L526.9 204.9 L526.3 204.9 L525.6 204.9 L524.9 204.9 L524.3 204.9 L523.6 204.9 L522.9 204.9 L522.3 204.9 L521.6 204.9 L520.9 204.9 L520.3 204.9 L519.6 204.9 L518.9 204.9 L518.3 204.9 L517.6 204.9 L516.9 204.9 L516.3 204.9 L515.6 204.9 L514.9 204.9 L514.3 204.9 L513.6 204.9 L512.9 204.9 L512.3 204.9 L511.6 204.9 L510.9 204.9 L510.3 204.9 L509.6 204.9 L508.9 204.9 L508.3 204.9 L507.6 204.9 L506.9 204.9 L506.2 204.9 L505.6 204.9 L504.9 204.9 L504.2 204.9 L503.6 204.9 L502.9 204.9 L502.2 204.9 L501.6 204.9 L500.9 204.9 L500.2 204.9 L499.6 204.9 L498.9 204.9 L498.2 204.9 L497.6 204.9 L496.9 204.9 L496.2 204.9 L495.6 204.9 L494.9 204.9 L494.2 204.9 L493.6 204.9 L492.9 204.9 L492.2 204.9 L491.6 204.9 L490.9 204.9 L490.2 204.9 L489.6 204.9 L488.9 204.9 L488.2 204.9 L487.6 204.9 L486.9 204.9 L486.2 204.9 L485.6 204.9 L484.9 204.9 L484.2 204.9 L483.5 204.9 L482.9 204.9 L482.2 204.9 L481.5 204.9 L480.9 204.9 L480.2 204.9 L479.5 204.9 L478.9 204.9 L478.2 204.9 L477.5 204.9 L476.9 204.9 L476.2 204.9 L475.5 204.9 L474.9 204.9 L474.2 204.9 L473.5 204.9 L472.9 204.9 L472.2 204.9 L471.5 204.9 L470.9 204.9 L470.2 204.9 L469.5 204.9 L468.9 204.9 L468.2 204.9 L467.5 204.9 L466.9 204.9 L466.2 204.9 L465.5 204.9 L464.9 204.9 L464.2 204.9 L463.5 204.9 L462.9 204.9 L462.2 204.9 L461.5 204.9 L460.9 204.9 L460.2 204.9 L459.5 204.9 L458.8 204.9 L458.2 204.9 L457.5 204.9 L456.8 204.9 L456.2 204.9 L455.5 204.9 L454.8 204.9 L454.2 204.9 L453.5 204.9 L452.8 204.9 L452.2 204.9 L451.5 204.9 L450.8 204.9 L450.1 204.9 L449.5 204.9 L448.8 204.9 L448.1 204.9 L447.5 204.9 L446.8 204.9 L446.1 204.9 L445.5 204.9 L444.8 204.9 L444.1 204.9 L443.5 204.9 L442.8 204.9 L442.2 204.9 L441.5 204.9 L440.8 204.9 L440.2 204.9 L439.5 204.9 L438.8 204.9 L438.2 204.9 L437.5 204.9 L436.9 204.9 L436.2 204.9 L435.6 204.9 L434.9 204.9 L434.3 205.0 L433.7 205.0 L433.0 205.0 L432.4 205.0 L431.8 205.0 L431.2 205.0 L430.6 205.0 L430.0 205.0 L429.4 205.1 L428.8 205.1 L428.3 205.1 L427.7 205.1 L427.1 205.1 L426.5 205.1 L426.0 205.1 L425.4 205.2 L424.9 205.2 L424.4 205.2 L423.9 205.2 L423.4 205.2 L423.0 205.3 L422.6 205.3 L422.2 205.3 L421.8 205.3 L421.4 205.4 L421.1 205.4 L420.7 205.4 L420.4 205.4 L420.0 205.5 L419.7 205.5 L419.4 205.5 L419.1 205.5 L418.8 205.6 L418.5 205.6 L418.2 205.6 L417.9 205.6 L417.6 205.7 L417.4 205.7 L417.1 205.7 L416.8 205.7 L416.6 205.8 L416.3 205.8 L416.1 205.8 L415.8 205.9 L415.6 205.9 L415.3 205.9 L415.1 205.9 L414.9 206.0 L414.6 206.0 L414.4 206.0 L414.2 206.0 L413.9 206.1 L413.7 206.1 L413.5 206.1 L413.3 206.2 L413.1 206.2 L412.8 206.2 L412.6 206.2 L412.4 206.3 L412.2 206.3 L412.0 206.3 L411.8 206.3 L411.6 206.4 L411.4 206.4 L411.2 206.4 L411.0 206.5 L410.8 206.5 L410.6 206.5 L410.4 206.5 L410.3 206.6 L410.1 206.6 L409.9 206.6 L409.8 206.7 L409.6 206.7 L409.4 206.7 L409.3 206.7 L409.1 206.8 L409.0 206.8 L408.8 206.8 L408.7 206.9 L408.6 206.9 L408.4 206.9 L408.3 206.9 L408.1 207.0 L408.0 207.0 L407.9 207.0 L407.7 207.1 L407.6 207.1 L407.5 207.1 L407.4 207.1 L407.2 207.2 L407.1 207.2 L407.0 207.2 L406.9 207.3 L406.7 207.3 L406.6 207.3 L406.5 207.3 L406.4 207.4 L406.3 207.4 L406.1 207.4 L406.0 207.5 L405.9 207.5 L405.8 207.5 L405.7 207.5 L405.5 207.6 L405.4 207.6 L405.3 207.6 L405.2 207.7 L405.1 207.7 L405.0 207.7 L404.8 207.7 L404.7 207.8 L404.6 207.8 L404.5 207.8 L404.4 207.9 L404.2 207.9 L404.1 207.9 L404.0 207.9 L403.9 208.0 L403.7 208.0 L403.6 208.0 L403.5 208.1 L403.3 208.1 L403.2 208.1 L403.1 208.1 L402.9 208.2 L402.8 208.2 L402.7 208.2 L402.5 208.3 L402.4 208.3 L402.2 208.3 L402.1 208.3 L401.9 208.4 L401.8 208.4 L401.6 208.4 L401.5 208.5 L401.4 208.5 L401.2 208.5 L401.1 208.5 L400.9 208.6 L400.8 208.6 L400.6 208.6 L400.5 208.7 L400.3 208.7 L400.2 208.7 L400.0 208.7 L399.9 208.8 L399.7 208.8 L399.6 208.8 L399.5 208.9 L399.3 208.9 L399.2 208.9 L399.0 208.9 L398.9 209.0 L398.8 209.0 L398.6 209.0 L398.5 209.1 L398.4 209.1 L398.2 209.1 L398.1 209.1 L398.0 209.2 L397.9 209.2 L397.7 209.2 L397.6 209.3 L397.5 209.3 L397.4 209.3 L397.3 209.3 L397.2 209.4 L397.1 209.4 L397.0 209.4 L396.9 209.5 L396.7 209.5 L396.6 209.5 L396.5 209.5 L396.4 209.6 L396.3 209.6 L396.2 209.6 L396.0 209.7 L395.9 209.7 L395.8 209.7 L395.7 209.7 L395.5 209.8 L395.4 209.8 L395.3 209.8 L395.2 209.9 L395.0 209.9 L394.9 209.9 L394.8 209.9 L394.6 210.0 L394.5 210.0 L394.4 210.0 L394.3 210.1 L394.1 210.1 L394.0 210.1 L393.9 210.1 L393.7 210.2 L393.6 210.2 L393.4 210.2 L393.3 210.3 L393.2 210.3 L393.0 210.3 L392.9 210.3 L392.8 210.4 L392.6 210.4 L392.5 210.4 L392.4 210.5 L392.2 210.5 L392.1 210.5 L391.9 210.5 L391.8 210.6 L391.7 210.6 L391.5 210.6 L391.4 210.7 L391.2 210.7 L391.1 210.7 L391.0 210.7 L390.8 210.8 L390.7 210.8 L390.6 210.8 L390.4 210.9 L390.3 210.9 L390.1 210.9 L390.0 210.9 L389.9 211.0 L389.7 211.0 L389.6 211.0 L389.5 211.1 L389.3 211.1 L389.2 211.1 L389.0 211.1 L388.9 211.2 L388.8 211.2 L388.6 211.2 L388.5 211.3 L388.4 211.3 L388.3 211.3 L388.2 211.3 L388.0 211.4 L387.9 211.4 L387.8 211.4 L387.7 211.5 L387.6 211.5 L387.4 211.5 L387.3 211.6 L387.2 211.6 L387.1 211.6 L386.9 211.6 L386.8 211.7 L386.7 211.7 L386.5 211.7 L386.4 211.8 L386.3 211.8 L386.1 211.8 L386.0 211.8 L385.8 211.9 L385.6 211.9 L385.5 211.9 L385.3 212.0 L385.1 212.0 L384.9 212.0 L384.7 212.0 L384.5 212.1 L384.3 212.1 L384.0 212.1 L383.7 212.1 L383.5 212.2 L383.2 212.2 L382.9 212.2 L382.6 212.2 L382.3 212.3 L382.1 212.3 L381.8 212.3 L381.5 212.4 L381.2 212.4 L381.0 212.4 L380.7 212.4 L380.4 212.5 L380.1 212.5 L379.9 212.5 L379.6 212.5 L379.3 212.6 L379.1 212.6 L378.8 212.6 L378.6 212.6 L378.3 212.7 L378.1 212.7 L377.9 212.7 L377.6 212.8 L377.4 212.8 L377.1 212.8 L376.9 212.8 L376.6 212.9 L376.3 212.9 L376.0 212.9 L375.7 212.9 L375.4 213.0 L375.1 213.0 L374.8 213.0 L374.4 213.0 L374.0 213.1 L373.6 213.1 L373.2 213.1 L372.7 213.1 L372.2 213.1 L371.6 213.2 L371.0 213.2 L370.4 213.2 L369.8 213.2 L369.2 213.2 L368.7 213.2 L368.1 213.3 L367.5 213.3 L366.9 213.3 L366.4 213.3 L365.8 213.3 L365.2 213.3 L364.6 213.4 L364.0 213.4 L363.4 213.4 L362.7 213.4 L362.1 213.4 L361.5 213.4 L360.8 213.4 L360.1 213.4 L359.5 213.4 L358.8 213.4 L358.1 213.4 L357.4 213.4 L356.8 213.4 L356.1 213.4 L355.4 213.4 L354.8 213.4 L354.1 213.4 L353.4 213.4 L352.8 213.4Z" fill="#808080" fill-opacity="0.4" stroke="#707070" stroke-opacity="0.3" stroke-width="0.5"/>
<path d="M310.6 213.4 L314.3 213.4 L316.1 213.4 L320.1 213.4 L321.7 213.4 L325.5 213.4 L327.9 213.4 L331.3 213.4 L333.7 213.4 L336.9 213.4 L341.5 213.4 L344.5 213.4 L346.7 213.4 L349.3 213.4 L352.9 213.4 L356.1 213.4 L359.0 213.4 L361.0 213.4 L363.9 213.4 L367.6 213.4 L370.9 213.4 L372.6 213.4 L376.3 213.3 L379.1 212.3 L381.6 211.7 L385.5 211.2 L388.8 210.8 L390.6 210.5 L394.3 209.5 L396.6 208.9 L398.3 208.0 L401.1 206.1 L403.2 204.7 L406.7 201.7 L408.5 199.3 L410.1 197.4 L411.9 195.1 L413.6 193.1 L415.5 190.3 L416.6 188.8 L418.2 185.6 L420.1 182.2 L420.6 181.2 L422.0 178.6 L424.0 174.4 L424.4 172.7 L425.0 170.6 L426.5 166.7 L427.7 163.3 L428.4 161.8 L429.7 158.7 L430.8 155.1 L431.7 153.2 L432.4 151.2 L433.1 148.0 L433.9 145.2 L435.3 141.9 L435.9 138.7 L436.7 137.0 L437.6 132.8 L438.4 130.3 L439.2 128.5 L439.8 126.4 L441.3 122.1 L441.9 120.5 L443.4 116.4 L443.6 114.2 L444.6 112.0 L445.2 107.9 L445.6 106.4 L447.0 102.1 L447.5 100.5 L448.0 97.3 L448.6 95.5 L449.5 92.0 L450.6 89.0 L451.1 85.9 L452.1 82.7 L453.3 80.7 L454.0 77.9 L455.0 74.1 L455.6 71.9 L456.5 69.2 L457.1 67.1 L458.3 63.7 L459.6 60.6 L460.7 58.5 L461.6 56.4 L463.0 54.1 L464.0 51.5 L466.0 47.6 L467.0 46.2 L469.3 42.8 L469.8 41.2 L472.3 38.1 L473.8 36.3 L475.0 34.4 L476.6 32.1 L479.8 30.5 L481.8 29.6 L485.8 27.2 L487.5 26.0 L490.8 24.6 L494.5 24.0 L495.9 23.8 L498.7 23.8 L502.8 23.7 L505.7 23.7 L507.7 23.7 L511.3 23.7 L513.8 23.7 L517.9 23.7 L521.3 23.7 L523.1 23.7 L526.2 23.7 L528.6 23.7 L531.3 23.7 L535.8 23.7 L538.0 23.7 L540.3 23.7 L544.3 23.7 L544.3 92.7 L540.3 92.7 L538.0 92.7 L535.8 92.7 L531.3 92.7 L528.6 92.7 L526.2 92.7 L523.1 92.7 L521.3 92.7 L517.9 92.7 L513.8 92.7 L511.3 92.7 L507.7 92.7 L505.7 92.7 L502.8 92.7 L498.7 92.8 L495.9 92.8 L494.5 92.9 L490.8 93.3 L487.5 94.2 L485.8 94.9 L481.8 96.5 L479.8 97.0 L476.6 98.1 L475.0 99.5 L473.8 100.8 L472.3 101.9 L469.8 103.8 L469.3 104.9 L467.0 107.1 L466.0 108.0 L464.0 110.4 L463.0 112.0 L461.6 113.5 L460.7 114.9 L459.6 116.2 L458.3 118.2 L457.1 120.4 L456.5 121.6 L455.6 123.4 L455.0 124.8 L454.0 127.2 L453.3 129.0 L452.1 130.3 L451.1 132.3 L450.6 134.2 L449.5 136.2 L448.6 138.4 L448.0 139.5 L447.5 141.6 L447.0 142.6 L445.6 145.3 L445.2 146.3 L444.6 148.9 L443.6 150.3 L443.4 151.7 L441.9 154.3 L441.3 155.3 L439.8 158.0 L439.2 159.4 L438.4 160.5 L437.6 162.1 L436.7 164.8 L435.9 165.9 L435.3 167.9 L433.9 170.0 L433.1 171.8 L432.4 173.8 L431.7 175.1 L430.8 176.3 L429.7 178.6 L428.4 180.6 L427.7 181.5 L426.5 183.7 L425.0 186.2 L424.4 187.5 L424.0 188.6 L422.0 191.3 L420.6 192.9 L420.1 193.5 L418.2 195.7 L416.6 197.8 L415.5 198.7 L413.6 200.5 L411.9 201.8 L410.1 203.2 L408.5 204.4 L406.7 206.0 L403.2 207.8 L401.1 208.7 L398.3 209.9 L396.6 210.5 L394.3 210.9 L390.6 211.6 L388.8 211.7 L385.5 212.0 L381.6 212.3 L379.1 212.7 L376.3 213.4 L372.6 213.4 L370.9 213.4 L367.6 213.4 L363.9 213.4 L361.0 213.4 L359.0 213.4 L356.1 213.4 L352.9 213.4 L349.3 213.4 L346.7 213.4 L344.5 213.4 L341.5 213.4 L336.9 213.4 L333.7 213.4 L331.3 213.4 L327.9 213.4 L325.5 213.4 L321.7 213.4 L320.1 213.4 L316.1 213.4 L314.3 213.4 L310.6 213.4Z" fill="#808080" fill-opacity="0.4" stroke="#707070" stroke-opacity="0.3" stroke-width="0.5"/>
<path d="M310.7 213.4 L310.8 213.1 L310.9 212.9 L311.0 212.6 L311.2 212.3 L311.3 212.1 L311.4 211.8 L311.5 211.5 L311.6 211.3 L311.6 211.0 L311.7 210.7 L311.8 210.5 L311.9 210.2 L312.0 209.9 L312.0 209.6 L312.1 209.4 L312.2 209.1 L312.3 208.8 L312.3 208.6 L312.4 208.3 L312.5 208.0 L312.6 207.8 L312.7 207.5 L312.8 207.2 L312.9 207.0 L313.0 206.7 L313.1 206.4 L313.2 206.2 L313.2 205.9 L313.3 205.6 L313.4 205.4 L313.4 205.1 L313.5 204.8 L313.5 204.5 L313.6 204.3 L313.6 204.0 L313.6 203.7 L313.7 203.5 L313.7 203.2 L313.8 202.9 L313.8 202.7 L313.9 202.4 L313.9 202.1 L313.9 201.9 L314.0 201.6 L314.0 201.3 L314.1 201.0 L314.1 200.8 L314.2 200.5 L314.2 200.2 L314.2 200.0 L314.3 199.7 L314.3 199.4 L314.4 199.2 L314.4 198.9 L314.5 198.6 L314.5 198.4 L314.6 198.1 L314.6 197.8 L314.7 197.5 L314.7 197.3 L314.8 197.0 L314.8 196.7 L314.9 196.5 L314.9 196.2 L315.0 195.9 L315.0 195.7 L315.0 195.4 L315.1 195.1 L315.1 194.8 L315.2 194.6 L315.2 194.3 L315.2 194.0 L315.3 193.8 L315.3 193.5 L315.4 193.2 L315.4 193.0 L315.4 192.7 L315.5 192.4 L315.5 192.2 L315.5 191.9 L315.6 191.6 L315.6 191.3 L315.6 191.1 L315.7 190.8 L315.7 190.5 L315.7 190.3 L315.8 190.0 L315.8 189.7 L315.8 189.5 L315.8 189.2 L315.9 188.9 L315.9 188.6 L315.9 188.4 L316.0 188.1 L316.0 187.8 L316.0 187.6 L316.1 187.3 L316.1 187.0 L316.1 186.8 L316.2 186.5 L316.2 186.2 L316.2 186.0 L316.3 185.7 L316.3 185.4 L316.3 185.1 L316.4 184.9 L316.4 184.6 L316.4 184.3 L316.5 184.1 L316.5 183.8 L316.5 183.5 L316.5 183.3 L316.6 183.0 L316.6 182.7 L316.6 182.4 L316.7 182.2 L316.7 181.9 L316.7 181.6 L316.8 181.4 L316.8 181.1 L316.8 180.8 L316.8 180.6 L316.9 180.3 L316.9 180.0 L316.9 179.8 L316.9 179.5 L317.0 179.2 L317.0 178.9 L317.0 178.7 L317.0 178.4 L317.1 178.1 L317.1 177.9 L317.1 177.6 L317.2 177.3 L317.2 177.1 L317.2 176.8 L317.2 176.5 L317.3 176.2 L317.3 176.0 L317.3 175.7 L317.3 175.4 L317.4 175.2 L317.4 174.9 L317.4 174.6 L317.5 174.4 L317.5 174.1 L317.5 173.8 L317.6 173.6 L317.6 173.3 L317.6 173.0 L317.7 172.7 L317.7 172.5 L317.7 172.2 L317.8 171.9 L317.8 171.7 L317.8 171.4 L317.9 171.1 L317.9 170.9 L317.9 170.6 L318.0 170.3 L318.0 170.0 L318.0 169.8 L318.1 169.5 L318.1 169.2 L318.1 169.0 L318.2 168.7 L318.2 168.4 L318.2 168.2 L318.3 167.9 L318.3 167.6 L318.3 167.4 L318.4 167.1 L318.4 166.8 L318.4 166.5 L318.5 166.3 L318.5 166.0 L318.5 165.7 L318.6 165.5 L318.6 165.2 L318.7 164.9 L318.7 164.7 L318.7 164.4 L318.8 164.1 L318.8 163.8 L318.8 163.6 L318.9 163.3 L318.9 163.0 L319.0 162.8 L319.0 162.5 L319.1 162.2 L319.1 162.0 L319.1 161.7 L319.2 161.4 L319.2 161.2 L319.3 160.9 L319.3 160.6 L319.4 160.3 L319.4 160.1 L319.5 159.8 L319.5 159.5 L319.5 159.3 L319.6 159.0 L319.6 158.7 L319.7 158.5 L319.8 158.2 L319.8 157.9 L319.9 157.6 L319.9 157.4 L320.0 157.1 L320.1 156.8 L320.1 156.6 L320.2 156.3 L320.3 156.0 L320.3 155.8 L320.4 155.5 L320.5 155.2 L320.6 155.0 L320.7 154.7 L320.8 154.4 L320.9 154.1 L321.0 153.9 L321.2 153.6 L321.3 153.3 L321.4 153.1 L321.6 152.8 L321.8 152.5 L322.0 152.3 L322.2 152.0 L322.4 151.8 L322.7 151.5 L323.1 151.2 L323.5 151.0 L324.0 150.8 L324.5 150.6 L325.1 150.4 L325.8 150.3 L326.7 150.2 L327.5 150.2 L328.3 150.2 L329.1 150.2 L330.0 150.2 L330.8 150.2 L331.6 150.2 L332.4 150.2 L333.3 150.2 L334.1 150.2 L334.9 150.2 L335.8 150.2 L336.6 150.2 L337.5 150.2 L338.3 150.2 L339.1 150.2 L340.0 150.2 L340.8 150.2 L341.6 150.2 L342.5 150.2 L343.3 150.2 L344.1 150.2 L345.0 150.2 L345.8 150.2 L346.6 150.2 L347.4 150.2 L348.3 150.2 L349.1 150.2 L349.9 150.2 L350.8 150.2 L351.6 150.2 L352.4 150.2 L353.3 150.2 L354.1 150.2 L354.9 150.2 L355.8 150.2 L356.6 150.2 L357.4 150.2 L358.2 150.2 L359.1 150.2 L359.9 150.2 L360.7 150.2 L361.6 150.2 L362.4 150.2 L363.2 150.2 L364.1 150.2 L364.9 150.2 L365.7 150.2 L366.5 150.2 L367.4 150.2 L368.2 150.2 L369.0 150.2 L369.9 150.2 L370.7 150.2 L371.5 150.2 L372.4 150.2 L373.2 150.2 L374.0 150.2 L374.9 150.2 L375.7 150.2 L376.5 150.2 L377.3 150.2 L378.2 150.2 L379.0 150.2 L379.8 150.2 L380.7 150.2 L381.5 150.2 L382.3 150.2 L383.2 150.2 L384.0 150.2 L384.8 150.2 L385.7 150.2 L386.5 150.2 L387.3 150.2 L388.1 150.2 L389.0 150.2 L389.8 150.2 L390.6 150.2 L391.5 150.2 L392.3 150.2 L393.1 150.2 L394.0 150.2 L394.8 150.2 L395.6 150.2 L396.5 150.2 L397.3 150.2 L398.1 150.2 L398.9 150.2 L399.8 150.2 L400.6 150.2 L401.4 150.2 L402.3 150.2 L403.1 150.2 L403.9 150.2 L404.8 150.2 L405.6 150.2 L406.4 150.2 L407.2 150.2 L408.1 150.2 L408.9 150.2 L409.7 150.2 L410.6 150.2 L411.4 150.2 L412.2 150.2 L413.1 150.2 L413.9 150.2 L414.7 150.2 L415.6 150.2 L416.4 150.2 L417.2 150.2 L418.0 150.2 L418.9 150.2 L419.7 150.2 L420.5 150.2 L421.4 150.2 L422.2 150.2 L423.0 150.2 L423.9 150.2 L424.7 150.2 L425.5 150.2 L426.4 150.2 L427.2 150.2 L428.0 150.2 L428.8 150.2 L429.7 150.2 L430.5 150.2 L431.3 150.2 L432.2 150.2 L433.0 150.2 L433.8 150.2 L434.7 150.2 L435.5 150.2 L436.3 150.2 L437.2 150.2 L438.0 150.2 L438.8 150.2 L439.6 150.2 L440.5 150.2 L441.3 150.2 L442.1 150.2 L443.0 150.2 L443.8 150.2 L444.6 150.2 L445.5 150.2 L446.3 150.2 L447.1 150.2 L447.9 150.2 L448.8 150.2 L449.6 150.2 L450.4 150.2 L451.3 150.2 L452.1 150.2 L452.9 150.2 L453.8 150.2 L454.6 150.2 L455.4 150.2 L456.3 150.2 L457.1 150.2 L457.9 150.2 L458.7 150.2 L459.6 150.2 L460.4 150.2 L461.2 150.2 L462.1 150.2 L462.9 150.2 L463.7 150.2 L464.6 150.2 L465.4 150.2 L466.2 150.2 L467.1 150.2 L467.9 150.2 L468.7 150.2 L469.5 150.2 L470.4 150.2 L471.2 150.2 L472.0 150.2 L472.9 150.2 L473.7 150.2 L474.5 150.2 L475.4 150.2 L476.2 150.2 L477.0 150.2 L477.9 150.2 L478.7 150.2 L479.5 150.2 L480.3 150.2 L481.2 150.2 L482.0 150.2 L482.8 150.2 L483.7 150.2 L484.5 150.2 L485.3 150.2 L486.2 150.2 L487.0 150.2 L487.8 150.2 L488.6 150.2 L489.5 150.2 L490.3 150.2 L491.1 150.2 L492.0 150.2 L492.8 150.2 L493.6 150.2 L494.5 150.2 L495.3 150.2 L496.1 150.2 L497.0 150.2 L497.8 150.2 L498.6 150.2 L499.4 150.2 L500.3 150.2 L501.1 150.2 L501.9 150.2 L502.8 150.2 L503.6 150.2 L504.4 150.2 L505.3 150.2 L506.1 150.2 L506.9 150.2 L507.8 150.2 L508.6 150.2 L509.4 150.2 L510.2 150.2 L511.1 150.2 L511.9 150.2 L512.7 150.2 L513.6 150.2 L514.4 150.2 L515.2 150.2 L516.1 150.2 L516.9 150.2 L517.7 150.2 L518.6 150.2 L519.4 150.2 L520.2 150.2 L521.0 150.2 L521.9 150.2 L522.7 150.2 L523.5 150.2 L524.4 150.2 L525.2 150.2 L526.0 150.2 L526.9 150.2 L527.7 150.2 L528.5 150.2 L529.3 150.2 L530.2 150.2 L531.0 150.2 L531.8 150.2 L532.7 150.2 L533.5 150.2 L534.3 150.2 L535.2 150.2 L536.0 150.2 L536.8 150.2 L537.7 150.2 L538.5 150.2 L539.3 150.2 L540.1 150.2 L541.0 150.2 L541.8 150.2 L542.6 150.2 L543.5 150.2 L544.3 150.2" fill="none" stroke="#0000ff" stroke-width="1.6"/>
<path d="M310.8 213.4 L311.0 213.1 L311.1 212.8 L311.3 212.5 L311.5 212.1 L311.6 211.8 L311.8 211.5 L312.0 211.2 L312.1 210.9 L312.3 210.6 L312.5 210.3 L312.7 210.0 L312.9 209.6 L313.0 209.3 L313.2 209.0 L313.4 208.7 L313.6 208.4 L313.8 208.1 L313.9 207.8 L314.1 207.5 L314.3 207.2 L314.4 206.8 L314.6 206.5 L314.8 206.2 L314.9 205.9 L315.1 205.6 L315.2 205.3 L315.4 205.0 L315.5 204.6 L315.7 204.3 L315.8 204.0 L316.0 203.7 L316.2 203.4 L316.3 203.1 L316.5 202.8 L316.6 202.4 L316.7 202.1 L316.9 201.8 L317.0 201.5 L317.2 201.2 L317.3 200.9 L317.5 200.6 L317.6 200.2 L317.7 199.9 L317.9 199.6 L318.0 199.3 L318.1 199.0 L318.2 198.7 L318.3 198.3 L318.5 198.0 L318.6 197.7 L318.7 197.4 L318.8 197.1 L318.9 196.8 L319.0 196.4 L319.1 196.1 L319.2 195.8 L319.2 195.5 L319.3 195.2 L319.4 194.9 L319.5 194.5 L319.6 194.2 L319.7 193.9 L319.8 193.6 L319.8 193.3 L319.9 192.9 L320.0 192.6 L320.1 192.3 L320.2 192.0 L320.2 191.7 L320.3 191.4 L320.4 191.0 L320.4 190.7 L320.5 190.4 L320.6 190.1 L320.7 189.8 L320.7 189.4 L320.8 189.1 L320.9 188.8 L320.9 188.5 L321.0 188.2 L321.1 187.8 L321.1 187.5 L321.2 187.2 L321.3 186.9 L321.3 186.6 L321.4 186.3 L321.4 185.9 L321.5 185.6 L321.6 185.3 L321.6 185.0 L321.7 184.7 L321.7 184.3 L321.8 184.0 L321.9 183.7 L321.9 183.4 L322.0 183.1 L322.1 182.7 L322.1 182.4 L322.2 182.1 L322.3 181.8 L322.4 181.5 L322.4 181.2 L322.5 180.8 L322.6 180.5 L322.7 180.2 L322.7 179.9 L322.8 179.6 L322.9 179.2 L323.0 178.9 L323.1 178.6 L323.2 178.3 L323.2 178.0 L323.3 177.7 L323.4 177.3 L323.5 177.0 L323.6 176.7 L323.6 176.4 L323.7 176.1 L323.8 175.7 L323.9 175.4 L323.9 175.1 L324.0 174.8 L324.1 174.5 L324.1 174.1 L324.2 173.8 L324.2 173.5 L324.3 173.2 L324.4 172.9 L324.4 172.6 L324.5 172.2 L324.5 171.9 L324.6 171.6 L324.6 171.3 L324.7 171.0 L324.7 170.6 L324.8 170.3 L324.8 170.0 L324.9 169.7 L324.9 169.4 L325.0 169.0 L325.1 168.7 L325.1 168.4 L325.2 168.1 L325.2 167.8 L325.3 167.4 L325.3 167.1 L325.4 166.8 L325.5 166.5 L325.5 166.2 L325.6 165.9 L325.6 165.5 L325.7 165.2 L325.8 164.9 L325.8 164.6 L325.9 164.3 L326.0 163.9 L326.1 163.6 L326.1 163.3 L326.2 163.0 L326.3 162.7 L326.3 162.3 L326.4 162.0 L326.5 161.7 L326.6 161.4 L326.6 161.1 L326.7 160.8 L326.8 160.4 L326.9 160.1 L326.9 159.8 L327.0 159.5 L327.1 159.2 L327.2 158.8 L327.3 158.5 L327.3 158.2 L327.4 157.9 L327.5 157.6 L327.6 157.3 L327.7 156.9 L327.7 156.6 L327.8 156.3 L327.9 156.0 L328.0 155.7 L328.1 155.3 L328.2 155.0 L328.2 154.7 L328.3 154.4 L328.4 154.1 L328.5 153.8 L328.6 153.4 L328.7 153.1 L328.8 152.8 L328.9 152.5 L329.0 152.2 L329.1 151.8 L329.2 151.5 L329.3 151.2 L329.4 150.9 L329.5 150.6 L329.6 150.3 L329.7 149.9 L329.8 149.6 L329.9 149.3 L330.0 149.0 L330.1 148.7 L330.2 148.4 L330.3 148.0 L330.4 147.7 L330.5 147.4 L330.6 147.1 L330.8 146.8 L330.9 146.5 L331.0 146.1 L331.1 145.8 L331.2 145.5 L331.4 145.2 L331.5 144.9 L331.6 144.6 L331.8 144.2 L331.9 143.9 L332.0 143.6 L332.2 143.3 L332.3 143.0 L332.5 142.7 L332.6 142.4 L332.8 142.0 L333.0 141.7 L333.1 141.4 L333.3 141.1 L333.5 140.8 L333.7 140.5 L333.9 140.2 L334.1 139.9 L334.3 139.5 L334.6 139.2 L334.8 138.9 L335.1 138.6 L335.4 138.3 L335.8 138.0 L336.2 137.7 L336.6 137.5 L337.1 137.3 L337.7 137.1 L338.4 136.9 L339.1 136.7 L339.9 136.6 L340.6 136.5 L341.4 136.4 L342.2 136.3 L342.9 136.2 L343.8 136.2 L344.6 136.1 L345.4 136.1 L346.2 136.1 L347.0 136.1 L347.8 136.1 L348.6 136.1 L349.4 136.1 L350.2 136.1 L351.0 136.1 L351.8 136.1 L352.6 136.1 L353.4 136.1 L354.2 136.1 L355.0 136.1 L355.8 136.1 L356.6 136.1 L357.4 136.1 L358.2 136.1 L359.1 136.1 L359.9 136.1 L360.7 136.1 L361.5 136.1 L362.3 136.1 L363.1 136.1 L363.9 136.1 L364.7 136.1 L365.5 136.1 L366.3 136.1 L367.1 136.1 L367.9 136.1 L368.7 136.1 L369.5 136.1 L370.3 136.1 L371.1 136.1 L371.9 136.1 L372.7 136.1 L373.6 136.1 L374.4 136.1 L375.2 136.1 L376.0 136.1 L376.8 136.1 L377.6 136.1 L378.4 136.1 L379.2 136.1 L380.0 136.1 L380.8 136.1 L381.6 136.1 L382.4 136.1 L383.2 136.1 L384.0 136.1 L384.8 136.1 L385.6 136.1 L386.4 136.1 L387.2 136.1 L388.0 136.1 L388.9 136.1 L389.7 136.1 L390.5 136.1 L391.3 136.1 L392.1 136.1 L392.9 136.1 L393.7 136.1 L394.5 136.1 L395.3 136.1 L396.1 136.1 L396.9 136.1 L397.7 136.1 L398.5 136.1 L399.3 136.1 L400.1 136.1 L400.9 136.1 L401.7 136.1 L402.5 136.1 L403.4 136.1 L404.2 136.1 L405.0 136.1 L405.8 136.1 L406.6 136.1 L407.4 136.1 L408.2 136.1 L409.0 136.1 L409.8 136.1 L410.6 136.1 L411.4 136.1 L412.2 136.1 L413.0 136.1 L413.8 136.1 L414.6 136.1 L415.4 136.1 L416.2 136.1 L417.0 136.1 L417.8 136.1 L418.7 136.1 L419.5 136.1 L420.3 136.1 L421.1 136.1 L421.9 136.1 L422.7 136.1 L423.5 136.1 L424.3 136.1 L425.1 136.1 L425.9 136.1 L426.7 136.1 L427.5 136.1 L428.3 136.1 L429.1 136.1 L429.9 136.1 L430.7 136.1 L431.5 136.1 L432.3 136.1 L433.2 136.1 L434.0 136.1 L434.8 136.1 L435.6 136.1 L436.4 136.1 L437.2 136.1 L438.0 136.1 L438.8 136.1 L439.6 136.1 L440.4 136.1 L441.2 136.1 L442.0 136.1 L442.8 136.1 L443.6 136.1 L444.4 136.1 L445.2 136.1 L446.0 136.1 L446.8 136.1 L447.6 136.1 L448.5 136.1 L449.3 136.1 L450.1 136.1 L450.9 136.1 L451.7 136.1 L452.5 136.1 L453.3 136.1 L454.1 136.1 L454.9 136.1 L455.7 136.1 L456.5 136.1 L457.3 136.1 L458.1 136.1 L458.9 136.1 L459.7 136.1 L460.5 136.1 L461.3 136.1 L462.1 136.1 L463.0 136.1 L463.8 136.1 L464.6 136.1 L465.4 136.1 L466.2 136.1 L467.0 136.1 L467.8 136.1 L468.6 136.1 L469.4 136.1 L470.2 136.1 L471.0 136.1 L471.8 136.1 L472.6 136.1 L473.4 136.1 L474.2 136.1 L475.0 136.1 L475.8 136.1 L476.6 136.1 L477.4 136.1 L478.3 136.1 L479.1 136.1 L479.9 136.1 L480.7 136.1 L481.5 136.1 L482.3 136.1 L483.1 136.1 L483.9 136.1 L484.7 136.1 L485.5 136.1 L486.3 136.1 L487.1 136.1 L487.9 136.1 L488.7 136.1 L489.5 136.1 L490.3 136.1 L491.1 136.1 L491.9 136.1 L492.8 136.1 L493.6 136.1 L494.4 136.1 L495.2 136.1 L496.0 136.1 L496.8 136.1 L497.6 136.1 L498.4 136.1 L499.2 136.1 L500.0 136.1 L500.8 136.1 L501.6 136.1 L502.4 136.1 L503.2 136.1 L504.0 136.1 L504.8 136.1 L505.6 136.1 L506.4 136.1 L507.3 136.1 L508.1 136.1 L508.9 136.1 L509.7 136.1 L510.5 136.1 L511.3 136.1 L512.1 136.1 L512.9 136.1 L513.7 136.1 L514.5 136.1 L515.3 136.1 L516.1 136.1 L516.9 136.1 L517.7 136.1 L518.5 136.1 L519.3 136.1 L520.1 136.1 L520.9 136.1 L521.7 136.1 L522.6 136.1 L523.4 136.1 L524.2 136.1 L525.0 136.1 L525.8 136.1 L526.6 136.1 L527.4 136.1 L528.2 136.1 L529.0 136.1 L529.8 136.1 L530.6 136.1 L531.4 136.1 L532.2 136.1 L533.0 136.1 L533.8 136.1 L534.6 136.1 L535.4 136.1 L536.2 136.1 L537.1 136.1 L537.9 136.1 L538.7 136.1 L539.5 136.1 L540.3 136.1 L541.1 136.1 L541.9 136.1 L542.7 136.1 L543.5 136.1 L544.3 136.1" fill="none" stroke="#00ff00" stroke-width="1.7"/>
<path d="M338.0 213.4 L338.7 213.4 L339.4 213.4 L340.1 213.4 L340.8 213.4 L341.5 213.4 L342.2 213.4 L342.9 213.4 L343.6 213.4 L344.3 213.4 L345.0 213.4 L345.7 213.4 L346.4 213.4 L347.0 213.3 L347.7 213.3 L348.4 213.3 L349.0 213.3 L349.7 213.2 L350.4 213.2 L351.0 213.2 L351.7 213.1 L352.3 213.1 L352.9 213.1 L353.5 213.0 L354.2 213.0 L354.8 212.9 L355.3 212.9 L355.9 212.8 L356.5 212.8 L357.1 212.7 L357.6 212.7 L358.2 212.6 L358.7 212.5 L359.1 212.5 L359.5 212.4 L359.9 212.3 L360.3 212.3 L360.6 212.2 L361.0 212.1 L361.3 212.0 L361.6 212.0 L361.9 211.9 L362.1 211.8 L362.4 211.7 L362.7 211.6 L363.0 211.6 L363.3 211.5 L363.5 211.4 L363.8 211.3 L364.1 211.2 L364.4 211.1 L364.6 211.1 L364.9 211.0 L365.2 210.9 L365.4 210.8 L365.7 210.7 L365.9 210.7 L366.2 210.6 L366.4 210.5 L366.7 210.4 L366.9 210.3 L367.1 210.2 L367.4 210.2 L367.6 210.1 L367.8 210.0 L368.1 209.9 L368.3 209.8 L368.5 209.7 L368.7 209.7 L368.9 209.6 L369.1 209.5 L369.3 209.4 L369.5 209.3 L369.7 209.2 L369.8 209.2 L370.0 209.1 L370.2 209.0 L370.3 208.9 L370.5 208.8 L370.6 208.7 L370.8 208.6 L370.9 208.6 L371.0 208.5 L371.2 208.4 L371.3 208.3 L371.4 208.2 L371.6 208.1 L371.7 208.0 L371.8 207.9 L372.0 207.9 L372.1 207.8 L372.2 207.7 L372.4 207.6 L372.5 207.5 L372.6 207.4 L372.8 207.3 L372.9 207.3 L373.0 207.2 L373.2 207.1 L373.3 207.0 L373.5 206.9 L373.6 206.8 L373.8 206.7 L373.9 206.7 L374.1 206.6 L374.2 206.5 L374.4 206.4 L374.6 206.3 L374.7 206.2 L374.9 206.1 L375.0 206.1 L375.2 206.0 L375.4 205.9 L375.5 205.8 L375.7 205.7 L375.8 205.6 L376.0 205.5 L376.2 205.5 L376.3 205.4 L376.5 205.3 L376.7 205.2 L376.8 205.1 L377.0 205.0 L377.1 204.9 L377.3 204.9 L377.5 204.8 L377.6 204.7 L377.8 204.6 L378.0 204.5 L378.1 204.4 L378.3 204.3 L378.4 204.3 L378.6 204.2 L378.8 204.1 L378.9 204.0 L379.1 203.9 L379.2 203.8 L379.4 203.7 L379.5 203.7 L379.7 203.6 L379.8 203.5 L380.0 203.4 L380.1 203.3 L380.2 203.2 L380.4 203.1 L380.5 203.1 L380.7 203.0 L380.8 202.9 L380.9 202.8 L381.1 202.7 L381.2 202.6 L381.3 202.5 L381.4 202.5 L381.5 202.4 L381.6 202.3 L381.8 202.2 L381.9 202.1 L382.0 202.0 L382.1 201.9 L382.2 201.8 L382.3 201.8 L382.4 201.7 L382.5 201.6 L382.6 201.5 L382.7 201.4 L382.8 201.3 L382.9 201.2 L383.0 201.2 L383.1 201.1 L383.3 201.0 L383.4 200.9 L383.5 200.8 L383.6 200.7 L383.8 200.6 L383.9 200.5 L384.0 200.5 L384.1 200.4 L384.3 200.3 L384.4 200.2 L384.5 200.1 L384.7 200.0 L384.8 199.9 L384.9 199.9 L385.1 199.8 L385.2 199.7 L385.4 199.6 L385.5 199.5 L385.6 199.4 L385.8 199.3 L385.9 199.3 L386.0 199.2 L386.2 199.1 L386.3 199.0 L386.5 198.9 L386.6 198.8 L386.7 198.7 L386.9 198.6 L387.0 198.6 L387.2 198.5 L387.3 198.4 L387.4 198.3 L387.6 198.2 L387.7 198.1 L387.9 198.0 L388.0 198.0 L388.1 197.9 L388.3 197.8 L388.4 197.7 L388.5 197.6 L388.7 197.5 L388.8 197.4 L389.0 197.4 L389.1 197.3 L389.2 197.2 L389.4 197.1 L389.5 197.0 L389.6 196.9 L389.8 196.8 L389.9 196.8 L390.0 196.7 L390.2 196.6 L390.3 196.5 L390.4 196.4 L390.6 196.3 L390.7 196.2 L390.9 196.1 L391.0 196.1 L391.1 196.0 L391.3 195.9 L391.4 195.8 L391.6 195.7 L391.7 195.6 L391.9 195.5 L392.0 195.5 L392.2 195.4 L392.3 195.3 L392.5 195.2 L392.6 195.1 L392.8 195.0 L392.9 194.9 L393.1 194.9 L393.2 194.8 L393.4 194.7 L393.5 194.6 L393.7 194.5 L393.9 194.4 L394.0 194.3 L394.2 194.3 L394.4 194.2 L394.5 194.1 L394.7 194.0 L394.9 193.9 L395.1 193.8 L395.3 193.8 L395.4 193.7 L395.6 193.6 L395.8 193.5 L396.0 193.4 L396.2 193.3 L396.4 193.2 L396.6 193.2 L396.8 193.1 L397.0 193.0 L397.3 192.9 L397.5 192.8 L397.7 192.7 L398.0 192.7 L398.2 192.6 L398.4 192.5 L398.7 192.4 L399.0 192.3 L399.2 192.3 L399.5 192.2 L399.8 192.1 L400.2 192.0 L400.5 191.9 L400.8 191.9 L401.1 191.8 L401.5 191.7 L401.8 191.6 L402.1 191.5 L402.4 191.5 L402.8 191.4 L403.1 191.3 L403.4 191.2 L403.7 191.2 L404.0 191.1 L404.3 191.0 L404.6 190.9 L404.9 190.8 L405.2 190.8 L405.5 190.7 L405.8 190.6 L406.1 190.5 L406.4 190.4 L406.8 190.4 L407.1 190.3 L407.5 190.2 L407.8 190.1 L408.2 190.1 L408.6 190.0 L409.0 189.9 L409.5 189.9 L409.9 189.8 L410.3 189.7 L410.8 189.6 L411.3 189.6 L411.8 189.5 L412.3 189.5 L412.8 189.4 L413.3 189.3 L413.8 189.3 L414.3 189.2 L414.9 189.2 L415.4 189.1 L416.0 189.1 L416.6 189.0 L417.3 189.0 L417.9 189.0 L418.6 189.0 L419.3 188.9 L420.0 188.9 L420.7 188.9 L421.4 188.9 L422.1 188.9 L422.8 188.9 L423.5 188.9 L424.2 188.9 L424.9 188.9 L425.6 188.9 L426.3 188.9 L427.0 188.9 L427.7 188.9 L428.4 188.9 L429.1 188.9 L429.8 188.9 L430.5 188.9 L431.2 188.9 L431.9 188.9 L432.6 188.9 L433.3 188.9 L434.0 188.9 L434.7 188.9 L435.4 188.9 L436.1 188.9 L436.8 188.9 L437.5 188.9 L438.2 188.9 L438.9 188.9 L439.6 188.9 L440.3 188.9 L441.0 188.9 L441.7 188.9 L442.4 188.9 L443.1 188.9 L443.8 188.9 L444.5 188.9 L445.2 188.9 L445.9 188.9 L446.6 188.9 L447.3 188.9 L448.0 188.9 L448.7 188.9 L449.4 188.9 L450.1 188.9 L450.8 188.9 L451.4 188.9 L452.1 188.9 L452.8 188.9 L453.5 188.9 L454.2 188.9 L454.9 188.9 L455.6 188.9 L456.3 188.9 L457.0 188.9 L457.7 188.9 L458.4 188.9 L459.1 188.9 L459.8 188.9 L460.5 188.9 L461.2 188.9 L461.9 188.9 L462.6 188.9 L463.3 188.9 L464.0 188.9 L464.7 188.9 L465.4 188.9 L466.1 188.9 L466.8 188.9 L467.5 188.9 L468.2 188.9 L468.9 188.9 L469.6 188.9 L470.3 188.9 L471.0 188.9 L471.7 188.9 L472.4 188.9 L473.1 188.9 L473.8 188.9 L474.5 188.9 L475.2 188.9 L475.9 188.9 L476.6 188.9 L477.3 188.9 L478.0 188.9 L478.7 188.9 L479.4 188.9 L480.1 188.9 L480.8 188.9 L481.5 188.9 L482.2 188.9 L482.9 188.9 L483.6 188.9 L484.3 188.9 L485.0 188.9 L485.7 188.9 L486.4 188.9 L487.1 188.9 L487.8 188.9 L488.5 188.9 L489.1 188.9 L489.8 188.9 L490.5 188.9 L491.2 188.9 L491.9 188.9 L492.6 188.9 L493.3 188.9 L494.0 188.9 L494.7 188.9 L495.4 188.9 L496.1 188.9 L496.8 188.9 L497.5 188.9 L498.2 188.9 L498.9 188.9 L499.6 188.9 L500.3 188.9 L501.0 188.9 L501.7 188.9 L502.4 188.9 L503.1 188.9 L503.8 188.9 L504.5 188.9 L505.2 188.9 L505.9 188.9 L506.6 188.9 L507.3 188.9 L508.0 188.9 L508.7 188.9 L509.4 188.9 L510.1 188.9 L510.8 188.9 L511.5 188.9 L512.2 188.9 L512.9 188.9 L513.6 188.9 L514.3 188.9 L515.0 188.9 L515.7 188.9 L516.4 188.9 L517.1 188.9 L517.8 188.9 L518.5 188.9 L519.2 188.9 L519.9 188.9 L520.6 188.9 L521.3 188.9 L522.0 188.9 L522.7 188.9 L523.4 188.9 L524.1 188.9 L524.8 188.9 L525.5 188.9 L526.1 188.9 L526.8 188.9 L527.5 188.9 L528.2 188.9 L528.9 188.9 L529.6 188.9 L530.3 188.9 L531.0 188.9 L531.7 188.9 L532.4 188.9 L533.1 188.9 L533.8 188.9 L534.5 188.9 L535.2 188.9 L535.9 188.9 L536.6 188.9 L537.3 188.9 L538.0 188.9 L538.7 188.9 L539.4 188.9 L540.1 188.9 L540.8 188.9 L541.5 188.9 L542.2 188.9 L542.9 188.9 L543.6 188.9 L544.3 188.9" fill="none" stroke="#00ffff" stroke-width="1.5"/>
<path d="M352.8 213.4 L353.4 213.4 L354.1 213.4 L354.8 213.4 L355.4 213.4 L356.1 213.4 L356.8 213.4 L357.4 213.4 L358.1 213.4 L358.8 213.4 L359.5 213.4 L360.1 213.4 L360.8 213.4 L361.5 213.4 L362.1 213.4 L362.7 213.4 L363.4 213.4 L364.0 213.3 L364.6 213.3 L365.2 213.3 L365.8 213.3 L366.4 213.3 L366.9 213.2 L367.5 213.2 L368.1 213.2 L368.7 213.2 L369.2 213.2 L369.8 213.1 L370.4 213.1 L371.0 213.1 L371.6 213.1 L372.2 213.0 L372.7 213.0 L373.2 213.0 L373.6 213.0 L374.0 212.9 L374.4 212.9 L374.8 212.9 L375.1 212.8 L375.4 212.8 L375.7 212.8 L376.0 212.7 L376.3 212.7 L376.6 212.7 L376.9 212.6 L377.1 212.6 L377.4 212.5 L377.6 212.5 L377.9 212.5 L378.1 212.4 L378.3 212.4 L378.6 212.3 L378.8 212.3 L379.1 212.3 L379.3 212.2 L379.6 212.2 L379.9 212.2 L380.1 212.1 L380.4 212.1 L380.7 212.0 L381.0 212.0 L381.2 212.0 L381.5 211.9 L381.8 211.9 L382.1 211.9 L382.3 211.8 L382.6 211.8 L382.9 211.8 L383.2 211.7 L383.5 211.7 L383.7 211.6 L384.0 211.6 L384.3 211.6 L384.5 211.5 L384.7 211.5 L384.9 211.4 L385.1 211.4 L385.3 211.4 L385.5 211.3 L385.6 211.3 L385.8 211.3 L386.0 211.2 L386.1 211.2 L386.3 211.1 L386.4 211.1 L386.5 211.1 L386.7 211.0 L386.8 211.0 L386.9 210.9 L387.1 210.9 L387.2 210.9 L387.3 210.8 L387.4 210.8 L387.6 210.7 L387.7 210.7 L387.8 210.7 L387.9 210.6 L388.0 210.6 L388.2 210.5 L388.3 210.5 L388.4 210.5 L388.5 210.4 L388.6 210.4 L388.8 210.3 L388.9 210.3 L389.0 210.3 L389.2 210.2 L389.3 210.2 L389.5 210.1 L389.6 210.1 L389.7 210.1 L389.9 210.0 L390.0 210.0 L390.1 209.9 L390.3 209.9 L390.4 209.9 L390.6 209.8 L390.7 209.8 L390.8 209.7 L391.0 209.7 L391.1 209.7 L391.2 209.6 L391.4 209.6 L391.5 209.5 L391.7 209.5 L391.8 209.5 L391.9 209.4 L392.1 209.4 L392.2 209.3 L392.4 209.3 L392.5 209.3 L392.6 209.2 L392.8 209.2 L392.9 209.1 L393.0 209.1 L393.2 209.1 L393.3 209.0 L393.4 209.0 L393.6 208.9 L393.7 208.9 L393.9 208.9 L394.0 208.8 L394.1 208.8 L394.3 208.7 L394.4 208.7 L394.5 208.7 L394.6 208.6 L394.8 208.6 L394.9 208.5 L395.0 208.5 L395.2 208.5 L395.3 208.4 L395.4 208.4 L395.5 208.3 L395.7 208.3 L395.8 208.3 L395.9 208.2 L396.0 208.2 L396.2 208.1 L396.3 208.1 L396.4 208.1 L396.5 208.0 L396.6 208.0 L396.7 207.9 L396.9 207.9 L397.0 207.9 L397.1 207.8 L397.2 207.8 L397.3 207.7 L397.4 207.7 L397.5 207.6 L397.6 207.6 L397.7 207.6 L397.9 207.5 L398.0 207.5 L398.1 207.4 L398.2 207.4 L398.4 207.4 L398.5 207.3 L398.6 207.3 L398.8 207.2 L398.9 207.2 L399.0 207.2 L399.2 207.1 L399.3 207.1 L399.5 207.0 L399.6 207.0 L399.7 207.0 L399.9 206.9 L400.0 206.9 L400.2 206.8 L400.3 206.8 L400.5 206.8 L400.6 206.7 L400.8 206.7 L400.9 206.6 L401.1 206.6 L401.2 206.6 L401.4 206.5 L401.5 206.5 L401.6 206.5 L401.8 206.4 L401.9 206.4 L402.1 206.3 L402.2 206.3 L402.4 206.3 L402.5 206.2 L402.7 206.2 L402.8 206.1 L402.9 206.1 L403.1 206.1 L403.2 206.0 L403.3 206.0 L403.5 205.9 L403.6 205.9 L403.7 205.9 L403.9 205.8 L404.0 205.8 L404.1 205.7 L404.2 205.7 L404.4 205.7 L404.5 205.6 L404.6 205.6 L404.7 205.5 L404.8 205.5 L405.0 205.4 L405.1 205.4 L405.2 205.4 L405.3 205.3 L405.4 205.3 L405.5 205.2 L405.7 205.2 L405.8 205.2 L405.9 205.1 L406.0 205.1 L406.1 205.0 L406.3 205.0 L406.4 205.0 L406.5 204.9 L406.6 204.9 L406.7 204.8 L406.9 204.8 L407.0 204.8 L407.1 204.7 L407.2 204.7 L407.4 204.6 L407.5 204.6 L407.6 204.6 L407.7 204.5 L407.9 204.5 L408.0 204.4 L408.1 204.4 L408.3 204.4 L408.4 204.3 L408.6 204.3 L408.7 204.2 L408.8 204.2 L409.0 204.2 L409.1 204.1 L409.3 204.1 L409.4 204.0 L409.6 204.0 L409.8 204.0 L409.9 203.9 L410.1 203.9 L410.3 203.9 L410.4 203.8 L410.6 203.8 L410.8 203.7 L411.0 203.7 L411.2 203.7 L411.4 203.6 L411.6 203.6 L411.8 203.5 L412.0 203.5 L412.2 203.5 L412.4 203.4 L412.6 203.4 L412.8 203.3 L413.1 203.3 L413.3 203.3 L413.5 203.2 L413.7 203.2 L413.9 203.2 L414.2 203.1 L414.4 203.1 L414.6 203.0 L414.9 203.0 L415.1 203.0 L415.3 202.9 L415.6 202.9 L415.8 202.8 L416.1 202.8 L416.3 202.8 L416.6 202.7 L416.8 202.7 L417.1 202.7 L417.4 202.6 L417.6 202.6 L417.9 202.5 L418.2 202.5 L418.5 202.5 L418.8 202.4 L419.1 202.4 L419.4 202.4 L419.7 202.3 L420.0 202.3 L420.4 202.3 L420.7 202.2 L421.1 202.2 L421.4 202.1 L421.8 202.1 L422.2 202.1 L422.6 202.0 L423.0 202.0 L423.4 202.0 L423.9 202.0 L424.4 201.9 L424.9 201.9 L425.4 201.9 L426.0 201.9 L426.5 201.8 L427.1 201.8 L427.7 201.8 L428.3 201.8 L428.8 201.7 L429.4 201.7 L430.0 201.7 L430.6 201.7 L431.2 201.7 L431.8 201.7 L432.4 201.6 L433.0 201.6 L433.7 201.6 L434.3 201.6 L434.9 201.6 L435.6 201.6 L436.2 201.6 L436.9 201.5 L437.5 201.5 L438.2 201.5 L438.8 201.5 L439.5 201.5 L440.2 201.5 L440.8 201.5 L441.5 201.5 L442.2 201.5 L442.8 201.5 L443.5 201.5 L444.1 201.5 L444.8 201.5 L445.5 201.5 L446.1 201.5 L446.8 201.5 L447.5 201.5 L448.1 201.5 L448.8 201.5 L449.5 201.5 L450.1 201.5 L450.8 201.5 L451.5 201.5 L452.2 201.5 L452.8 201.5 L453.5 201.5 L454.2 201.5 L454.8 201.5 L455.5 201.5 L456.2 201.5 L456.8 201.5 L457.5 201.5 L458.2 201.5 L458.8 201.5 L459.5 201.5 L460.2 201.5 L460.9 201.5 L461.5 201.5 L462.2 201.5 L462.9 201.5 L463.5 201.5 L464.2 201.5 L464.9 201.5 L465.5 201.5 L466.2 201.5 L466.9 201.5 L467.5 201.5 L468.2 201.5 L468.9 201.5 L469.5 201.5 L470.2 201.5 L470.9 201.5 L471.5 201.5 L472.2 201.5 L472.9 201.5 L473.5 201.5 L474.2 201.5 L474.9 201.5 L475.5 201.5 L476.2 201.5 L476.9 201.5 L477.5 201.5 L478.2 201.5 L478.9 201.5 L479.5 201.5 L480.2 201.5 L480.9 201.5 L481.5 201.5 L482.2 201.5 L482.9 201.5 L483.5 201.5 L484.2 201.5 L484.9 201.5 L485.6 201.5 L486.2 201.5 L486.9 201.5 L487.6 201.5 L488.2 201.5 L488.9 201.5 L489.6 201.5 L490.2 201.5 L490.9 201.5 L491.6 201.5 L492.2 201.5 L492.9 201.5 L493.6 201.5 L494.2 201.5 L494.9 201.5 L495.6 201.5 L496.2 201.5 L496.9 201.5 L497.6 201.5 L498.2 201.5 L498.9 201.5 L499.6 201.5 L500.2 201.5 L500.9 201.5 L501.6 201.5 L502.2 201.5 L502.9 201.5 L503.6 201.5 L504.2 201.5 L504.9 201.5 L505.6 201.5 L506.2 201.5 L506.9 201.5 L507.6 201.5 L508.3 201.5 L508.9 201.5 L509.6 201.5 L510.3 201.5 L510.9 201.5 L511.6 201.5 L512.3 201.5 L512.9 201.5 L513.6 201.5 L514.3 201.5 L514.9 201.5 L515.6 201.5 L516.3 201.5 L516.9 201.5 L517.6 201.5 L518.3 201.5 L518.9 201.5 L519.6 201.5 L520.3 201.5 L520.9 201.5 L521.6 201.5 L522.3 201.5 L522.9 201.5 L523.6 201.5 L524.3 201.5 L524.9 201.5 L525.6 201.5 L526.3 201.5 L526.9 201.5 L527.6 201.5 L528.3 201.5 L528.9 201.5 L529.6 201.5 L530.3 201.5 L530.9 201.5 L531.6 201.5 L532.3 201.5 L533.0 201.5 L533.6 201.5 L534.3 201.5 L535.0 201.5 L535.6 201.5 L536.3 201.5 L537.0 201.5 L537.6 201.5 L538.3 201.5 L539.0 201.5 L539.6 201.5 L540.3 201.5 L541.0 201.5 L541.6 201.5 L542.3 201.5 L543.0 201.5 L543.6 201.5 L544.3 201.5" fill="none" stroke="#ff00ff" stroke-width="1.5"/>
<path d="M310.6 213.4 L314.3 213.4 L316.1 213.4 L320.1 213.4 L321.7 213.4 L325.5 213.4 L327.9 213.4 L331.3 213.4 L333.7 213.4 L336.9 213.4 L341.5 213.4 L344.5 213.4 L346.7 213.4 L349.3 213.4 L352.9 213.4 L356.1 213.4 L359.0 213.4 L361.0 213.4 L363.9 213.4 L367.6 213.4 L370.9 213.4 L372.6 213.4 L376.3 213.4 L379.1 212.5 L381.6 212.0 L385.5 211.6 L388.8 211.3 L390.6 211.0 L394.3 210.2 L396.6 209.7 L398.3 209.0 L401.1 207.4 L403.2 206.3 L406.7 203.9 L408.5 201.9 L410.1 200.3 L411.9 198.4 L413.6 196.8 L415.5 194.5 L416.6 193.3 L418.2 190.7 L420.1 187.9 L420.6 187.1 L422.0 184.9 L424.0 181.5 L424.4 180.2 L425.0 178.4 L426.5 175.2 L427.7 172.4 L428.4 171.2 L429.7 168.7 L430.8 165.7 L431.7 164.2 L432.4 162.5 L433.1 159.9 L433.9 157.6 L435.3 154.9 L435.9 152.3 L436.7 150.9 L437.6 147.5 L438.4 145.5 L439.2 144.0 L439.8 142.2 L441.3 138.7 L441.9 137.4 L443.4 134.1 L443.6 132.3 L444.6 130.5 L445.2 127.1 L445.6 125.9 L447.0 122.4 L447.5 121.1 L448.0 118.5 L448.6 117.0 L449.5 114.1 L450.6 111.6 L451.1 109.2 L452.1 106.5 L453.3 104.9 L454.0 102.6 L455.0 99.5 L455.6 97.7 L456.5 95.5 L457.1 93.8 L458.3 91.0 L459.6 88.5 L460.7 86.8 L461.6 85.1 L463.0 83.1 L464.0 81.0 L466.0 77.9 L467.0 76.7 L469.3 73.9 L469.8 72.6 L472.3 70.0 L473.8 68.6 L475.0 67.0 L476.6 65.2 L479.8 63.8 L481.8 63.1 L485.8 61.1 L487.5 60.2 L490.8 59.1 L494.5 58.6 L495.9 58.4 L498.7 58.3 L502.8 58.3 L505.7 58.3 L507.7 58.3 L511.3 58.3 L513.8 58.3 L517.9 58.3 L521.3 58.3 L523.1 58.3 L526.2 58.3 L528.6 58.3 L531.3 58.3 L535.8 58.3 L538.0 58.3 L540.3 58.3 L544.3 58.3" fill="none" stroke="#000000" stroke-width="1.45"/>
</g>
<path d="M310.6 21.4V213.4H544.3M310.6 213.4v-2.0M339.8 213.4v-2.0M369.0 213.4v-2.0M398.2 213.4v-2.0M427.4 213.4v-2.0M456.7 213.4v-2.0M485.9 213.4v-2.0M515.1 213.4v-2.0M544.3 213.4v-2.0M310.6 213.4h2.0M310.6 181.4h2.0M310.6 149.4h2.0M310.6 117.4h2.0M310.6 85.4h2.0M310.6 53.4h2.0M310.6 21.4h2.0" fill="none" stroke="#4a4a4a" stroke-width="0.5"/>
<g font-family="'Liberation Serif', serif" font-size="7.0" fill="#262626">
<text x="310.6" y="224.3" text-anchor="middle">0</text>
<text x="339.8" y="224.3" text-anchor="middle">1</text>
<text x="369.0" y="224.3" text-anchor="middle">2</text>
<text x="398.2" y="224.3" text-anchor="middle">3</text>
<text x="427.4" y="224.3" text-anchor="middle">4</text>
<text x="456.7" y="224.3" text-anchor="middle">5</text>
<text x="485.9" y="224.3" text-anchor="middle">6</text>
<text x="515.1" y="224.3" text-anchor="middle">7</text>
<text x="544.3" y="224.3" text-anchor="middle">8</text>
<text x="307.2" y="215.9" text-anchor="end">0</text>
<text x="307.2" y="183.9" text-anchor="end">1</text>
<text x="307.2" y="151.9" text-anchor="end">2</text>
<text x="307.2" y="119.9" text-anchor="end">3</text>
<text x="307.2" y="87.9" text-anchor="end">4</text>
<text x="307.2" y="55.9" text-anchor="end">5</text>
<text x="307.2" y="23.9" text-anchor="end">6</text>
<text x="312" y="19.4" font-size="7.8">×10<tspan dy="-4.1" font-size="5.2">5</tspan></text>
</g>
<g font-family="'Liberation Serif', serif" fill="#262626">
<text x="427.3" y="236.4" font-size="10" text-anchor="middle">Flood Depth (m)</text>
<text transform="translate(300.2 117.4) rotate(-90)" font-size="10.4" text-anchor="middle">Component Loss (USD $)</text>
<text x="283.6" y="13.4" font-size="14.4" font-weight="bold" fill="#000">(b)</text>
</g>
<rect x="316.0" y="26.6" width="102.9" height="41.1" fill="#fff" stroke="#262626" stroke-width="0.5"/>
<g font-family="'Liberation Serif', serif" font-size="6.16" fill="#1a1a1a">
<path d="M318.2 31.7H339.5" stroke="#0000ff" stroke-width="1.4"/>
<text x="341.7" y="33.7">AC Units</text>
<path d="M318.2 39.4H339.5" stroke="#00ff00" stroke-width="1.4"/>
<text x="341.7" y="41.4">Cabinets</text>
<path d="M318.2 46.9H339.5" stroke="#00ffff" stroke-width="1.4"/>
<text x="341.7" y="48.9">Drywall (DS3)</text>
<path d="M318.2 54.5H339.5" stroke="#ff00ff" stroke-width="1.4"/>
<text x="341.7" y="56.5">Exterior Cladding/Brick Walls</text>
<path d="M318.2 62.3H339.5" stroke="#000000" stroke-width="1.4"/>
<text x="341.7" y="64.3">Slab on grade Foundation</text>
</g>
</svg></body></html>
